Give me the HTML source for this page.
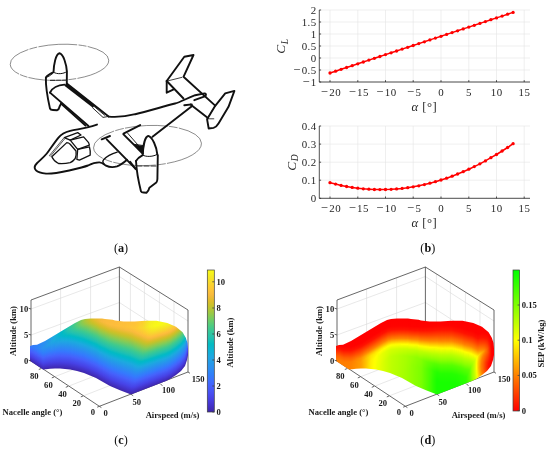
<!DOCTYPE html>
<html><head><meta charset="utf-8"><title>Figure</title><style>html,body{margin:0;padding:0;background:#fff}svg{display:block}</style></head><body>
<svg width="550" height="449" viewBox="0 0 550 449">
<rect width="550" height="449" fill="#fff"/>
<defs><linearGradient id="cbP" x1="0" y1="0" x2="0" y2="1"><stop offset="0.000" stop-color="#f9fb15"/><stop offset="0.043" stop-color="#f5eb23"/><stop offset="0.087" stop-color="#f8d92b"/><stop offset="0.130" stop-color="#fec835"/><stop offset="0.174" stop-color="#f8ba3d"/><stop offset="0.217" stop-color="#dfbc2a"/><stop offset="0.261" stop-color="#c0c32d"/><stop offset="0.304" stop-color="#9bc945"/><stop offset="0.348" stop-color="#73cd63"/><stop offset="0.391" stop-color="#4fcc81"/><stop offset="0.435" stop-color="#35c79a"/><stop offset="0.478" stop-color="#22c1af"/><stop offset="0.522" stop-color="#03bbc2"/><stop offset="0.565" stop-color="#0eb3d4"/><stop offset="0.609" stop-color="#1ea8e1"/><stop offset="0.652" stop-color="#259be8"/><stop offset="0.696" stop-color="#2d8df2"/><stop offset="0.739" stop-color="#317efb"/><stop offset="0.783" stop-color="#3f6dfe"/><stop offset="0.826" stop-color="#465dfb"/><stop offset="0.870" stop-color="#484ef1"/><stop offset="0.913" stop-color="#473ee2"/><stop offset="0.957" stop-color="#4331c8"/><stop offset="1.000" stop-color="#3e26a8"/></linearGradient><linearGradient id="cbR" x1="0" y1="0" x2="0" y2="1"><stop offset="0.000" stop-color="#00ff00"/><stop offset="0.125" stop-color="#40ff00"/><stop offset="0.250" stop-color="#80ff00"/><stop offset="0.375" stop-color="#bfff00"/><stop offset="0.500" stop-color="#ffff00"/><stop offset="0.625" stop-color="#ffbf00"/><stop offset="0.750" stop-color="#ff8000"/><stop offset="0.875" stop-color="#ff4000"/><stop offset="1.000" stop-color="#ff0000"/></linearGradient></defs>
<g id="plane" fill="none" stroke="#111" stroke-linecap="round" stroke-linejoin="round">
<!-- rotor discs -->
<g stroke-width="0.55" stroke="#333">
<ellipse cx="59.5" cy="62.3" rx="49.3" ry="18" transform="rotate(-2.5 59.5 62.3)" stroke-dasharray="38 2 7 2"/>
<ellipse cx="147.5" cy="145.5" rx="54" ry="20" transform="rotate(-2.5 147.5 145.5)" stroke-dasharray="42 2 8 2"/>
</g>
<!-- tail -->
<g stroke-width="1.9">
<path d="M166.7,81 L184.3,56.7 L193.5,55 L183.5,76.8 L215.2,105.6"/>
<path d="M166.7,81 L166.7,92.7 L173.2,89.6"/>
<path d="M166.7,81 L183.5,98.5"/>
<path d="M190.5,104.6 L207.6,117.8"/>
<path d="M215.2,105.8 L225.2,93.4 L234.4,90.9 L228.5,106.8 L218.5,123.5 Q216.5,127 213.5,127.9 L208.7,128.5 L207.1,119.3 Z"/>
</g>
<g stroke-width="0.8">
<path d="M167.3,81 L181.8,77.4"/>
<path d="M207.6,118.8 L213.8,118.8"/>
<path d="M215.2,105.8 L207.3,118.5"/>
</g>
<!-- fuselage / tail boom -->
<g stroke-width="1.9">
<path d="M108.6,116.6 C118,117.5 128,116 135.2,114.2 C145,112 160,107.5 175,103.5 C181,102 186,98.5 195.2,95.2 L204.5,93.4 Q206.5,93.6 205.8,95.2"/>
<path d="M194.3,100.2 L205.5,96.2"/>
<path d="M184.3,105.2 L191.8,104.4"/>
<path d="M191.8,106.2 L152.5,136.8"/>
</g>
<!-- wing 1 (far) -->
<g stroke-width="1.9">
<path d="M66.8,83.4 L108.6,116.4"/>
<path d="M50,92.6 L88.5,126"/>
<path d="M61,103.6 L85.5,125.6"/>
<path d="M50,92.6 C52,88 58,85 64.5,84.6"/>
</g>
<path d="M65.3,84.6 L93.8,106.6" stroke-width="3.1" stroke-linecap="butt"/>
<path d="M93.6,106 L104.6,115.2 M92.6,107.8 L103,117.4 L108.6,116.4" stroke-width="0.9"/>
<!-- nacelle 1 -->
<g stroke-width="1.9">
<path d="M45.9,77.6 C45.6,86 47.6,98 50,108.6 Q50.5,110 53,110 L57.2,110.2 Q59,109.5 59.6,106.5 L61.2,103.4"/>
<path d="M45.9,77.6 C47.5,75 50.5,73.6 53.5,72.2 C53.8,65 55.6,54 59.5,53.3 C63.4,54 66.4,64.5 66.9,71.6 C66.9,75 66.8,79 66.8,83.4"/>
<path d="M53.5,72.2 C57,74.6 63.5,74 66.9,71.6" stroke-width="1"/>
<path d="M45.9,77.6 Q49,76.8 52.8,73.5" stroke-width="0.9"/>
</g>
<!-- cockpit + nose -->
<g stroke-width="1.9">
<path d="M97,124.6 C93,126 91,126.6 88.5,127.2 C82,128.8 76,129.6 70.2,130.9 C65,132.2 61,134.5 58.5,137.6 C54,143 50,149.5 46.8,153.5 C43.5,157.5 39.5,160.5 36.7,163.5 C34.3,166 34.2,168.6 36,170.4 C38,172.4 42,173.2 46,173.6 C54,174 62,172 70.2,170.2 C78,168.4 84,167 88,165.5 C92,163.5 96,162.3 99.5,162.4 C102.5,162.6 104,164.5 106,165.6 C109,167.2 113,167.6 117,166.4 C121,165 124,162.5 127,159.8"/>
<path d="M104.3,164.3 C102.5,162.5 102.3,161.2 103.5,159.8 C106.5,156.5 111,154 117.2,152.2" stroke-width="1.3"/>
</g>
<g stroke-width="1.3">
<path d="M51.8,156.8 L66.8,142.6 Q68.6,142.6 70.2,144.3 L76,151 Q76.6,155 75.2,158.5 Q73,161.5 70.2,162.7 Q64,164 58.5,163.5 Q54,161.5 51.8,156.8 Z"/>
<path d="M64.3,137.6 L77.7,132.6 L81,135 L70.2,140.1 Z"/>
<path d="M70.2,140.1 L83.6,136.8 L88.6,142.6 L89.4,145.1 L77.7,149.3 Z"/>
<path d="M77.7,149.3 L89.4,146.8 Q90.6,151 90.2,155.2 L79.4,160.2 L76.9,159.3 Z"/>
</g>
<g stroke-width="0.7">
<path d="M49.4,155.6 L63.6,138.2 M50.4,156.3 L64.6,138.9"/>
</g>
<!-- wing 2 (near) -->
<g stroke-width="1.9">
<path d="M123.5,133.7 L140.2,125.1"/>
<path d="M123.5,134.3 L142.7,153.5"/>
<path d="M106.7,139.3 L135.4,168.6"/>
<path d="M101.7,139.3 L110,136"/>
<path d="M130.2,161.8 L135.8,169.3"/>
</g>
<path d="M133.5,144.5 L142.9,154 L143.6,146 Z" fill="#111" stroke-width="1"/>
<path d="M127.5,133 L141,148.5" stroke-width="0.9"/>
<!-- nacelle 2 -->
<g stroke-width="1.9">
<path d="M136,161 C136.5,170 138.6,182 141,191.4 Q141.5,192.4 143.5,192.5 L146.5,192.7 Q148.6,191 149.4,187.7 L156.3,182.6 Q157.3,181.5 157.4,179 L157.8,155.1"/>
<path d="M136,161 C137.5,158.4 139.5,156.8 142.7,155.1 C143,148 144.6,137 148.2,135.9 C152.5,137 156.6,147 157.3,154.3"/>
<path d="M142.7,155.1 C146,157.2 153.5,156.8 157.3,154.3" stroke-width="1"/>
</g>
<path d="M137,166 L158,166" stroke-width="1.1" stroke-dasharray="5 2" stroke="#333"/>
<path d="M50.5,80.4 L66,80.2" stroke-width="1.1" stroke-dasharray="4.5 1.5" stroke="#333"/>
</g>

<path d="M330.0,10.0 V82.0" stroke="#e4e4e4" stroke-width="0.6" fill="none"/>
<path d="M357.8,10.0 V82.0" stroke="#e4e4e4" stroke-width="0.6" fill="none"/>
<path d="M385.5,10.0 V82.0" stroke="#e4e4e4" stroke-width="0.6" fill="none"/>
<path d="M413.2,10.0 V82.0" stroke="#e4e4e4" stroke-width="0.6" fill="none"/>
<path d="M441.0,10.0 V82.0" stroke="#e4e4e4" stroke-width="0.6" fill="none"/>
<path d="M468.8,10.0 V82.0" stroke="#e4e4e4" stroke-width="0.6" fill="none"/>
<path d="M496.5,10.0 V82.0" stroke="#e4e4e4" stroke-width="0.6" fill="none"/>
<path d="M524.2,10.0 V82.0" stroke="#e4e4e4" stroke-width="0.6" fill="none"/>
<path d="M319.3,82.0 H530.0" stroke="#e4e4e4" stroke-width="0.6" fill="none"/>
<path d="M319.3,70.0 H530.0" stroke="#e4e4e4" stroke-width="0.6" fill="none"/>
<path d="M319.3,58.0 H530.0" stroke="#e4e4e4" stroke-width="0.6" fill="none"/>
<path d="M319.3,46.0 H530.0" stroke="#e4e4e4" stroke-width="0.6" fill="none"/>
<path d="M319.3,34.0 H530.0" stroke="#e4e4e4" stroke-width="0.6" fill="none"/>
<path d="M319.3,22.0 H530.0" stroke="#e4e4e4" stroke-width="0.6" fill="none"/>
<path d="M319.3,10.0 H530.0" stroke="#e4e4e4" stroke-width="0.6" fill="none"/>
<path d="M319.3,10.0 V82.0 H530.0" stroke="#262626" stroke-width="0.8" fill="none"/>
<path d="M330.0,82.0 v-1.8" stroke="#262626" stroke-width="0.8" fill="none"/>
<text x="331.0" y="95.9" text-anchor="middle" font-family="'Liberation Serif',serif" font-size="10.9" fill="#262626" letter-spacing="0.5"><tspan font-size="12.6" letter-spacing="1.3">−</tspan>20</text>
<path d="M357.8,82.0 v-1.8" stroke="#262626" stroke-width="0.8" fill="none"/>
<text x="358.8" y="95.9" text-anchor="middle" font-family="'Liberation Serif',serif" font-size="10.9" fill="#262626" letter-spacing="0.5"><tspan font-size="12.6" letter-spacing="1.3">−</tspan>15</text>
<path d="M385.5,82.0 v-1.8" stroke="#262626" stroke-width="0.8" fill="none"/>
<text x="386.5" y="95.9" text-anchor="middle" font-family="'Liberation Serif',serif" font-size="10.9" fill="#262626" letter-spacing="0.5"><tspan font-size="12.6" letter-spacing="1.3">−</tspan>10</text>
<path d="M413.2,82.0 v-1.8" stroke="#262626" stroke-width="0.8" fill="none"/>
<text x="414.2" y="95.9" text-anchor="middle" font-family="'Liberation Serif',serif" font-size="10.9" fill="#262626" letter-spacing="0.5"><tspan font-size="12.6" letter-spacing="1.3">−</tspan>5</text>
<path d="M441.0,82.0 v-1.8" stroke="#262626" stroke-width="0.8" fill="none"/>
<text x="441.3" y="95.9" text-anchor="middle" font-family="'Liberation Serif',serif" font-size="10.9" fill="#262626" letter-spacing="0.5">0</text>
<path d="M468.8,82.0 v-1.8" stroke="#262626" stroke-width="0.8" fill="none"/>
<text x="469.1" y="95.9" text-anchor="middle" font-family="'Liberation Serif',serif" font-size="10.9" fill="#262626" letter-spacing="0.5">5</text>
<path d="M496.5,82.0 v-1.8" stroke="#262626" stroke-width="0.8" fill="none"/>
<text x="496.8" y="95.9" text-anchor="middle" font-family="'Liberation Serif',serif" font-size="10.9" fill="#262626" letter-spacing="0.5">10</text>
<path d="M524.2,82.0 v-1.8" stroke="#262626" stroke-width="0.8" fill="none"/>
<text x="524.5" y="95.9" text-anchor="middle" font-family="'Liberation Serif',serif" font-size="10.9" fill="#262626" letter-spacing="0.5">15</text>
<path d="M319.3,82.0 h1.8" stroke="#262626" stroke-width="0.8" fill="none"/>
<text x="316.8" y="85.6" text-anchor="end" font-family="'Liberation Serif',serif" font-size="10.9" fill="#262626" letter-spacing="0.5"><tspan font-size="12.6" letter-spacing="1.3">−</tspan>1</text>
<path d="M319.3,70.0 h1.8" stroke="#262626" stroke-width="0.8" fill="none"/>
<text x="316.8" y="73.6" text-anchor="end" font-family="'Liberation Serif',serif" font-size="10.9" fill="#262626" letter-spacing="0.5"><tspan font-size="12.6" letter-spacing="1.3">−</tspan>0.5</text>
<path d="M319.3,58.0 h1.8" stroke="#262626" stroke-width="0.8" fill="none"/>
<text x="316.8" y="61.6" text-anchor="end" font-family="'Liberation Serif',serif" font-size="10.9" fill="#262626" letter-spacing="0.5">0</text>
<path d="M319.3,46.0 h1.8" stroke="#262626" stroke-width="0.8" fill="none"/>
<text x="316.8" y="49.6" text-anchor="end" font-family="'Liberation Serif',serif" font-size="10.9" fill="#262626" letter-spacing="0.5">0.5</text>
<path d="M319.3,34.0 h1.8" stroke="#262626" stroke-width="0.8" fill="none"/>
<text x="316.8" y="37.6" text-anchor="end" font-family="'Liberation Serif',serif" font-size="10.9" fill="#262626" letter-spacing="0.5">1</text>
<path d="M319.3,22.0 h1.8" stroke="#262626" stroke-width="0.8" fill="none"/>
<text x="316.8" y="25.6" text-anchor="end" font-family="'Liberation Serif',serif" font-size="10.9" fill="#262626" letter-spacing="0.5">1.5</text>
<path d="M319.3,10.0 h1.8" stroke="#262626" stroke-width="0.8" fill="none"/>
<text x="316.8" y="13.6" text-anchor="end" font-family="'Liberation Serif',serif" font-size="10.9" fill="#262626" letter-spacing="0.5">2</text>
<polyline points="330.0,73.0 335.6,71.2 341.1,69.3 346.6,67.5 352.2,65.7 357.8,63.8 363.3,62.0 368.9,60.1 374.4,58.3 379.9,56.5 385.5,54.6 391.1,52.8 396.6,51.0 402.1,49.1 407.7,47.3 413.2,45.5 418.8,43.6 424.4,41.8 429.9,39.9 435.4,38.1 441.0,36.3 446.6,34.4 452.1,32.6 457.6,30.8 463.2,28.9 468.8,27.1 474.3,25.3 479.9,23.4 485.4,21.6 490.9,19.7 496.5,17.9 502.1,16.1 507.6,14.2 513.1,12.4" stroke="#ff0000" stroke-width="1.5" fill="none"/>
<circle cx="330.0" cy="73.0" r="1.65" fill="#ff0000"/>
<circle cx="335.6" cy="71.2" r="1.65" fill="#ff0000"/>
<circle cx="341.1" cy="69.3" r="1.65" fill="#ff0000"/>
<circle cx="346.6" cy="67.5" r="1.65" fill="#ff0000"/>
<circle cx="352.2" cy="65.7" r="1.65" fill="#ff0000"/>
<circle cx="357.8" cy="63.8" r="1.65" fill="#ff0000"/>
<circle cx="363.3" cy="62.0" r="1.65" fill="#ff0000"/>
<circle cx="368.9" cy="60.1" r="1.65" fill="#ff0000"/>
<circle cx="374.4" cy="58.3" r="1.65" fill="#ff0000"/>
<circle cx="379.9" cy="56.5" r="1.65" fill="#ff0000"/>
<circle cx="385.5" cy="54.6" r="1.65" fill="#ff0000"/>
<circle cx="391.1" cy="52.8" r="1.65" fill="#ff0000"/>
<circle cx="396.6" cy="51.0" r="1.65" fill="#ff0000"/>
<circle cx="402.1" cy="49.1" r="1.65" fill="#ff0000"/>
<circle cx="407.7" cy="47.3" r="1.65" fill="#ff0000"/>
<circle cx="413.2" cy="45.5" r="1.65" fill="#ff0000"/>
<circle cx="418.8" cy="43.6" r="1.65" fill="#ff0000"/>
<circle cx="424.4" cy="41.8" r="1.65" fill="#ff0000"/>
<circle cx="429.9" cy="39.9" r="1.65" fill="#ff0000"/>
<circle cx="435.4" cy="38.1" r="1.65" fill="#ff0000"/>
<circle cx="441.0" cy="36.3" r="1.65" fill="#ff0000"/>
<circle cx="446.6" cy="34.4" r="1.65" fill="#ff0000"/>
<circle cx="452.1" cy="32.6" r="1.65" fill="#ff0000"/>
<circle cx="457.6" cy="30.8" r="1.65" fill="#ff0000"/>
<circle cx="463.2" cy="28.9" r="1.65" fill="#ff0000"/>
<circle cx="468.8" cy="27.1" r="1.65" fill="#ff0000"/>
<circle cx="474.3" cy="25.3" r="1.65" fill="#ff0000"/>
<circle cx="479.9" cy="23.4" r="1.65" fill="#ff0000"/>
<circle cx="485.4" cy="21.6" r="1.65" fill="#ff0000"/>
<circle cx="490.9" cy="19.7" r="1.65" fill="#ff0000"/>
<circle cx="496.5" cy="17.9" r="1.65" fill="#ff0000"/>
<circle cx="502.1" cy="16.1" r="1.65" fill="#ff0000"/>
<circle cx="507.6" cy="14.2" r="1.65" fill="#ff0000"/>
<circle cx="513.1" cy="12.4" r="1.65" fill="#ff0000"/>
<text x="424.3" y="110.6" text-anchor="middle" font-family="'Liberation Serif',serif"  fill="#262626" letter-spacing="0.5" font-size="12.6"><tspan font-style="italic">α</tspan> [°]</text>
<text transform="translate(285.4,46.0) rotate(-90)" text-anchor="middle" font-family="'Liberation Serif',serif"  fill="#262626" letter-spacing="0.5" font-size="13.5"><tspan font-style="italic">C</tspan><tspan font-style="italic" font-size="9.5" dy="2.4">L</tspan></text>
<path d="M330.0,126.0 V198.3" stroke="#e4e4e4" stroke-width="0.6" fill="none"/>
<path d="M357.8,126.0 V198.3" stroke="#e4e4e4" stroke-width="0.6" fill="none"/>
<path d="M385.5,126.0 V198.3" stroke="#e4e4e4" stroke-width="0.6" fill="none"/>
<path d="M413.2,126.0 V198.3" stroke="#e4e4e4" stroke-width="0.6" fill="none"/>
<path d="M441.0,126.0 V198.3" stroke="#e4e4e4" stroke-width="0.6" fill="none"/>
<path d="M468.8,126.0 V198.3" stroke="#e4e4e4" stroke-width="0.6" fill="none"/>
<path d="M496.5,126.0 V198.3" stroke="#e4e4e4" stroke-width="0.6" fill="none"/>
<path d="M524.2,126.0 V198.3" stroke="#e4e4e4" stroke-width="0.6" fill="none"/>
<path d="M319.3,198.3 H530.0" stroke="#e4e4e4" stroke-width="0.6" fill="none"/>
<path d="M319.3,180.2 H530.0" stroke="#e4e4e4" stroke-width="0.6" fill="none"/>
<path d="M319.3,162.2 H530.0" stroke="#e4e4e4" stroke-width="0.6" fill="none"/>
<path d="M319.3,144.1 H530.0" stroke="#e4e4e4" stroke-width="0.6" fill="none"/>
<path d="M319.3,126.0 H530.0" stroke="#e4e4e4" stroke-width="0.6" fill="none"/>
<path d="M319.3,126.0 V198.3 H530.0" stroke="#262626" stroke-width="0.8" fill="none"/>
<path d="M330.0,198.3 v-1.8" stroke="#262626" stroke-width="0.8" fill="none"/>
<text x="331.0" y="212.2" text-anchor="middle" font-family="'Liberation Serif',serif" font-size="10.9" fill="#262626" letter-spacing="0.5"><tspan font-size="12.6" letter-spacing="1.3">−</tspan>20</text>
<path d="M357.8,198.3 v-1.8" stroke="#262626" stroke-width="0.8" fill="none"/>
<text x="358.8" y="212.2" text-anchor="middle" font-family="'Liberation Serif',serif" font-size="10.9" fill="#262626" letter-spacing="0.5"><tspan font-size="12.6" letter-spacing="1.3">−</tspan>15</text>
<path d="M385.5,198.3 v-1.8" stroke="#262626" stroke-width="0.8" fill="none"/>
<text x="386.5" y="212.2" text-anchor="middle" font-family="'Liberation Serif',serif" font-size="10.9" fill="#262626" letter-spacing="0.5"><tspan font-size="12.6" letter-spacing="1.3">−</tspan>10</text>
<path d="M413.2,198.3 v-1.8" stroke="#262626" stroke-width="0.8" fill="none"/>
<text x="414.2" y="212.2" text-anchor="middle" font-family="'Liberation Serif',serif" font-size="10.9" fill="#262626" letter-spacing="0.5"><tspan font-size="12.6" letter-spacing="1.3">−</tspan>5</text>
<path d="M441.0,198.3 v-1.8" stroke="#262626" stroke-width="0.8" fill="none"/>
<text x="441.3" y="212.2" text-anchor="middle" font-family="'Liberation Serif',serif" font-size="10.9" fill="#262626" letter-spacing="0.5">0</text>
<path d="M468.8,198.3 v-1.8" stroke="#262626" stroke-width="0.8" fill="none"/>
<text x="469.1" y="212.2" text-anchor="middle" font-family="'Liberation Serif',serif" font-size="10.9" fill="#262626" letter-spacing="0.5">5</text>
<path d="M496.5,198.3 v-1.8" stroke="#262626" stroke-width="0.8" fill="none"/>
<text x="496.8" y="212.2" text-anchor="middle" font-family="'Liberation Serif',serif" font-size="10.9" fill="#262626" letter-spacing="0.5">10</text>
<path d="M524.2,198.3 v-1.8" stroke="#262626" stroke-width="0.8" fill="none"/>
<text x="524.5" y="212.2" text-anchor="middle" font-family="'Liberation Serif',serif" font-size="10.9" fill="#262626" letter-spacing="0.5">15</text>
<path d="M319.3,198.3 h1.8" stroke="#262626" stroke-width="0.8" fill="none"/>
<text x="316.8" y="201.9" text-anchor="end" font-family="'Liberation Serif',serif" font-size="10.9" fill="#262626" letter-spacing="0.5">0</text>
<path d="M319.3,180.2 h1.8" stroke="#262626" stroke-width="0.8" fill="none"/>
<text x="316.8" y="183.8" text-anchor="end" font-family="'Liberation Serif',serif" font-size="10.9" fill="#262626" letter-spacing="0.5">0.1</text>
<path d="M319.3,162.2 h1.8" stroke="#262626" stroke-width="0.8" fill="none"/>
<text x="316.8" y="165.8" text-anchor="end" font-family="'Liberation Serif',serif" font-size="10.9" fill="#262626" letter-spacing="0.5">0.2</text>
<path d="M319.3,144.1 h1.8" stroke="#262626" stroke-width="0.8" fill="none"/>
<text x="316.8" y="147.7" text-anchor="end" font-family="'Liberation Serif',serif" font-size="10.9" fill="#262626" letter-spacing="0.5">0.3</text>
<path d="M319.3,126.0 h1.8" stroke="#262626" stroke-width="0.8" fill="none"/>
<text x="316.8" y="129.6" text-anchor="end" font-family="'Liberation Serif',serif" font-size="10.9" fill="#262626" letter-spacing="0.5">0.4</text>
<polyline points="330.0,182.7 335.6,184.1 341.1,185.4 346.6,186.5 352.2,187.4 357.8,188.2 363.3,188.8 368.9,189.2 374.4,189.5 379.9,189.6 385.5,189.5 391.1,189.3 396.6,188.9 402.1,188.4 407.7,187.7 413.2,186.8 418.8,185.8 424.4,184.6 429.9,183.2 435.4,181.7 441.0,180.0 446.6,178.2 452.1,176.2 457.6,174.0 463.2,171.7 468.8,169.2 474.3,166.6 479.9,163.8 485.4,160.9 490.9,157.7 496.5,154.5 502.1,151.0 507.6,147.5 513.1,143.7" stroke="#ff0000" stroke-width="1.5" fill="none"/>
<circle cx="330.0" cy="182.7" r="1.65" fill="#ff0000"/>
<circle cx="335.6" cy="184.1" r="1.65" fill="#ff0000"/>
<circle cx="341.1" cy="185.4" r="1.65" fill="#ff0000"/>
<circle cx="346.6" cy="186.5" r="1.65" fill="#ff0000"/>
<circle cx="352.2" cy="187.4" r="1.65" fill="#ff0000"/>
<circle cx="357.8" cy="188.2" r="1.65" fill="#ff0000"/>
<circle cx="363.3" cy="188.8" r="1.65" fill="#ff0000"/>
<circle cx="368.9" cy="189.2" r="1.65" fill="#ff0000"/>
<circle cx="374.4" cy="189.5" r="1.65" fill="#ff0000"/>
<circle cx="379.9" cy="189.6" r="1.65" fill="#ff0000"/>
<circle cx="385.5" cy="189.5" r="1.65" fill="#ff0000"/>
<circle cx="391.1" cy="189.3" r="1.65" fill="#ff0000"/>
<circle cx="396.6" cy="188.9" r="1.65" fill="#ff0000"/>
<circle cx="402.1" cy="188.4" r="1.65" fill="#ff0000"/>
<circle cx="407.7" cy="187.7" r="1.65" fill="#ff0000"/>
<circle cx="413.2" cy="186.8" r="1.65" fill="#ff0000"/>
<circle cx="418.8" cy="185.8" r="1.65" fill="#ff0000"/>
<circle cx="424.4" cy="184.6" r="1.65" fill="#ff0000"/>
<circle cx="429.9" cy="183.2" r="1.65" fill="#ff0000"/>
<circle cx="435.4" cy="181.7" r="1.65" fill="#ff0000"/>
<circle cx="441.0" cy="180.0" r="1.65" fill="#ff0000"/>
<circle cx="446.6" cy="178.2" r="1.65" fill="#ff0000"/>
<circle cx="452.1" cy="176.2" r="1.65" fill="#ff0000"/>
<circle cx="457.6" cy="174.0" r="1.65" fill="#ff0000"/>
<circle cx="463.2" cy="171.7" r="1.65" fill="#ff0000"/>
<circle cx="468.8" cy="169.2" r="1.65" fill="#ff0000"/>
<circle cx="474.3" cy="166.6" r="1.65" fill="#ff0000"/>
<circle cx="479.9" cy="163.8" r="1.65" fill="#ff0000"/>
<circle cx="485.4" cy="160.9" r="1.65" fill="#ff0000"/>
<circle cx="490.9" cy="157.7" r="1.65" fill="#ff0000"/>
<circle cx="496.5" cy="154.5" r="1.65" fill="#ff0000"/>
<circle cx="502.1" cy="151.0" r="1.65" fill="#ff0000"/>
<circle cx="507.6" cy="147.5" r="1.65" fill="#ff0000"/>
<circle cx="513.1" cy="143.7" r="1.65" fill="#ff0000"/>
<text x="424.3" y="226.9" text-anchor="middle" font-family="'Liberation Serif',serif"  fill="#262626" letter-spacing="0.5" font-size="12.6"><tspan font-style="italic">α</tspan> [°]</text>
<text transform="translate(295.5,162.2) rotate(-90)" text-anchor="middle" font-family="'Liberation Serif',serif"  fill="#262626" letter-spacing="0.5" font-size="13.5"><tspan font-style="italic">C</tspan><tspan font-style="italic" font-size="9.5" dy="2.4">D</tspan></text>
<text x="121.0" y="252.3" text-anchor="middle" font-family="'Liberation Serif',serif" font-size="12.2" fill="#111">(<tspan font-weight="bold">a</tspan>)</text>
<text x="427.8" y="252.3" text-anchor="middle" font-family="'Liberation Serif',serif" font-size="12.2" fill="#111">(<tspan font-weight="bold">b</tspan>)</text>
<text x="121.0" y="443.6" text-anchor="middle" font-family="'Liberation Serif',serif" font-size="12.2" fill="#111">(<tspan font-weight="bold">c</tspan>)</text>
<text x="427.8" y="443.6" text-anchor="middle" font-family="'Liberation Serif',serif" font-size="12.2" fill="#111">(<tspan font-weight="bold">d</tspan>)</text>
<path d="M31.0,335.0 L119.4,302.5" stroke="#d9d9d9" stroke-width="0.6" fill="none"/>
<path d="M119.4,302.5 L188.0,347.0" stroke="#d9d9d9" stroke-width="0.6" fill="none"/>
<path d="M31.0,309.0 L119.4,276.5" stroke="#d9d9d9" stroke-width="0.6" fill="none"/>
<path d="M119.4,276.5 L188.0,321.0" stroke="#d9d9d9" stroke-width="0.6" fill="none"/>
<path d="M60.6,350.0 L60.6,289.0" stroke="#d9d9d9" stroke-width="0.6" fill="none"/>
<path d="M90.6,338.8 L90.6,277.8" stroke="#d9d9d9" stroke-width="0.6" fill="none"/>
<path d="M130.4,335.1 L130.4,273.9" stroke="#d9d9d9" stroke-width="0.6" fill="none"/>
<path d="M144.4,344.0 L144.4,282.7" stroke="#d9d9d9" stroke-width="0.6" fill="none"/>
<path d="M159.4,353.7 L159.4,292.1" stroke="#d9d9d9" stroke-width="0.6" fill="none"/>
<path d="M174.0,363.0 L174.0,301.2" stroke="#d9d9d9" stroke-width="0.6" fill="none"/>
<path d="M41.0,368.6 L127.8,334.8" stroke="#d9d9d9" stroke-width="0.6" fill="none"/>
<path d="M54.0,377.0 L140.8,343.2" stroke="#d9d9d9" stroke-width="0.6" fill="none"/>
<path d="M68.0,386.4 L154.8,352.6" stroke="#d9d9d9" stroke-width="0.6" fill="none"/>
<path d="M83.0,396.0 L169.8,362.2" stroke="#d9d9d9" stroke-width="0.6" fill="none"/>
<path d="M131.2,394.4 L62.8,349.1" stroke="#d9d9d9" stroke-width="0.6" fill="none"/>
<path d="M160.5,384.2 L92.1,338.9" stroke="#d9d9d9" stroke-width="0.6" fill="none"/>
<path d="M31.0,300.0 L119.4,267.0" stroke="#404040" stroke-width="0.8" fill="none"/>
<path d="M119.4,267.0 L188.0,310.0" stroke="#404040" stroke-width="0.8" fill="none"/>
<path d="M31.0,300.0 L31.0,361.0" stroke="#404040" stroke-width="0.8" fill="none"/>
<path d="M119.4,267.0 L119.4,328.0" stroke="#404040" stroke-width="0.8" fill="none"/>
<path d="M188.0,310.0 L188.0,372.0" stroke="#404040" stroke-width="0.8" fill="none"/>
<path d="M31.0,361.0 L99.4,406.3" stroke="#404040" stroke-width="0.8" fill="none"/>
<path d="M99.4,406.3 L188.0,372.0" stroke="#404040" stroke-width="0.8" fill="none"/>
<defs><clipPath id="pclip"><polygon points="30.0,346.0 33.0,345.0 37.0,344.8 45.0,341.0 55.0,335.0 65.0,329.0 75.0,323.0 81.0,320.0 85.0,319.0 91.0,318.5 95.0,318.4 102.0,318.5 105.0,319.0 112.7,319.8 115.0,320.5 123.6,321.4 134.5,321.4 145.5,320.7 156.4,320.7 167.3,322.9 176.0,326.8 182.6,332.3 185.8,337.7 187.5,343.0 188.0,348.6 188.0,348.6 188.0,355.0 187.0,360.0 185.0,366.0 181.0,371.0 176.0,375.0 170.0,379.0 166.0,381.0 131.0,394.4 120.0,390.2 110.0,386.0 103.0,382.0 96.0,378.0 90.0,375.4 84.0,373.0 77.0,371.0 70.0,369.4 65.0,368.9 60.0,368.6 55.0,368.6 50.0,368.8 46.0,369.2 43.0,369.6 30.0,361.0"/></clipPath><linearGradient id="p0" gradientUnits="userSpaceOnUse" x1="0" y1="344.2" x2="0" y2="363.2"><stop offset="0.000" stop-color="#327cfc"/><stop offset="0.184" stop-color="#3a74fe"/><stop offset="0.421" stop-color="#4759f8"/><stop offset="0.658" stop-color="#463ddf"/><stop offset="0.895" stop-color="#3e27ab"/><stop offset="1.000" stop-color="#3e26a8"/></linearGradient><linearGradient id="p1" gradientUnits="userSpaceOnUse" x1="0" y1="343.8" x2="0" y2="363.8"><stop offset="0.000" stop-color="#317dfc"/><stop offset="0.175" stop-color="#3678fd"/><stop offset="0.400" stop-color="#465efb"/><stop offset="0.650" stop-color="#473fe3"/><stop offset="0.850" stop-color="#402bb7"/><stop offset="0.925" stop-color="#3e26a8"/><stop offset="1.000" stop-color="#3e26a8"/></linearGradient><linearGradient id="p2" gradientUnits="userSpaceOnUse" x1="0" y1="343.5" x2="0" y2="364.5"><stop offset="0.000" stop-color="#317efb"/><stop offset="0.191" stop-color="#337afd"/><stop offset="0.429" stop-color="#465efb"/><stop offset="0.667" stop-color="#473fe3"/><stop offset="0.858" stop-color="#402bb7"/><stop offset="0.929" stop-color="#3e26a8"/><stop offset="1.000" stop-color="#3e26a8"/></linearGradient><linearGradient id="p3" gradientUnits="userSpaceOnUse" x1="0" y1="343.4" x2="0" y2="365.1"><stop offset="0.000" stop-color="#307ffb"/><stop offset="0.207" stop-color="#327bfc"/><stop offset="0.438" stop-color="#465ffb"/><stop offset="0.668" stop-color="#4740e4"/><stop offset="0.853" stop-color="#412cba"/><stop offset="0.922" stop-color="#3e26a8"/><stop offset="1.000" stop-color="#3e26a8"/></linearGradient><linearGradient id="p4" gradientUnits="userSpaceOnUse" x1="0" y1="343.4" x2="0" y2="365.8"><stop offset="0.000" stop-color="#307ffb"/><stop offset="0.201" stop-color="#317efb"/><stop offset="0.424" stop-color="#4563fc"/><stop offset="0.647" stop-color="#4744e8"/><stop offset="0.803" stop-color="#4331c8"/><stop offset="0.915" stop-color="#3e27a9"/><stop offset="1.000" stop-color="#3e26a8"/></linearGradient><linearGradient id="p5" gradientUnits="userSpaceOnUse" x1="0" y1="343.4" x2="0" y2="366.5"><stop offset="0.000" stop-color="#3080fb"/><stop offset="0.216" stop-color="#307ffb"/><stop offset="0.433" stop-color="#4563fd"/><stop offset="0.649" stop-color="#4745e9"/><stop offset="0.800" stop-color="#4332ca"/><stop offset="0.930" stop-color="#3e26a8"/><stop offset="1.000" stop-color="#3e26a8"/></linearGradient><linearGradient id="p6" gradientUnits="userSpaceOnUse" x1="0" y1="343.3" x2="0" y2="367.1"><stop offset="0.000" stop-color="#2f80fa"/><stop offset="0.210" stop-color="#2f81fa"/><stop offset="0.441" stop-color="#4464fd"/><stop offset="0.650" stop-color="#4746ea"/><stop offset="0.797" stop-color="#4433cd"/><stop offset="0.923" stop-color="#3e26a8"/><stop offset="1.000" stop-color="#3e26a8"/></linearGradient><linearGradient id="p7" gradientUnits="userSpaceOnUse" x1="0" y1="342.8" x2="0" y2="367.8"><stop offset="0.000" stop-color="#2f81fa"/><stop offset="0.220" stop-color="#2e83f9"/><stop offset="0.340" stop-color="#3777fe"/><stop offset="0.501" stop-color="#465efb"/><stop offset="0.701" stop-color="#4741e5"/><stop offset="0.861" stop-color="#412dbc"/><stop offset="0.921" stop-color="#3e27aa"/><stop offset="1.000" stop-color="#3e26a8"/></linearGradient><linearGradient id="p8" gradientUnits="userSpaceOnUse" x1="0" y1="342.4" x2="0" y2="368.5"><stop offset="0.000" stop-color="#2e83f9"/><stop offset="0.230" stop-color="#2e86f7"/><stop offset="0.364" stop-color="#3677fe"/><stop offset="0.517" stop-color="#465ffb"/><stop offset="0.709" stop-color="#4741e5"/><stop offset="0.862" stop-color="#412ebe"/><stop offset="0.939" stop-color="#3e26a8"/><stop offset="1.000" stop-color="#3e26a8"/></linearGradient><linearGradient id="p9" gradientUnits="userSpaceOnUse" x1="0" y1="341.9" x2="0" y2="369.1"><stop offset="0.000" stop-color="#2e84f8"/><stop offset="0.239" stop-color="#2d89f6"/><stop offset="0.367" stop-color="#337bfd"/><stop offset="0.514" stop-color="#4562fc"/><stop offset="0.716" stop-color="#4742e6"/><stop offset="0.844" stop-color="#4330c5"/><stop offset="0.936" stop-color="#3e26a8"/><stop offset="1.000" stop-color="#3e26a8"/></linearGradient><linearGradient id="p10" gradientUnits="userSpaceOnUse" x1="0" y1="341.4" x2="0" y2="369.8"><stop offset="0.000" stop-color="#2e86f7"/><stop offset="0.247" stop-color="#2d8bf4"/><stop offset="0.388" stop-color="#337bfc"/><stop offset="0.529" stop-color="#4562fc"/><stop offset="0.722" stop-color="#4742e7"/><stop offset="0.846" stop-color="#4331c6"/><stop offset="0.934" stop-color="#3e27a9"/><stop offset="1.000" stop-color="#3e26a8"/></linearGradient><linearGradient id="p11" gradientUnits="userSpaceOnUse" x1="0" y1="340.9" x2="0" y2="370.4"><stop offset="0.000" stop-color="#2d88f6"/><stop offset="0.254" stop-color="#2c8ef2"/><stop offset="0.407" stop-color="#327bfc"/><stop offset="0.542" stop-color="#4563fc"/><stop offset="0.728" stop-color="#4743e7"/><stop offset="0.847" stop-color="#4331c8"/><stop offset="0.949" stop-color="#3e26a8"/><stop offset="1.000" stop-color="#3e26a8"/></linearGradient><linearGradient id="p12" gradientUnits="userSpaceOnUse" x1="0" y1="340.4" x2="0" y2="371.1"><stop offset="0.000" stop-color="#2d89f5"/><stop offset="0.261" stop-color="#2c90f0"/><stop offset="0.424" stop-color="#327cfc"/><stop offset="0.555" stop-color="#4563fd"/><stop offset="0.734" stop-color="#4744e8"/><stop offset="0.865" stop-color="#4230c3"/><stop offset="0.946" stop-color="#3e26a8"/><stop offset="1.000" stop-color="#3e26a8"/></linearGradient><linearGradient id="p13" gradientUnits="userSpaceOnUse" x1="0" y1="340.0" x2="0" y2="371.1"><stop offset="0.000" stop-color="#2d8bf4"/><stop offset="0.257" stop-color="#2b92ee"/><stop offset="0.418" stop-color="#307ffb"/><stop offset="0.562" stop-color="#4464fd"/><stop offset="0.739" stop-color="#4745e9"/><stop offset="0.851" stop-color="#4433cc"/><stop offset="0.948" stop-color="#3e27a9"/><stop offset="1.000" stop-color="#3e26a8"/></linearGradient><linearGradient id="p14" gradientUnits="userSpaceOnUse" x1="0" y1="339.5" x2="0" y2="371.0"><stop offset="0.000" stop-color="#2d8cf3"/><stop offset="0.254" stop-color="#2a93ed"/><stop offset="0.429" stop-color="#317efb"/><stop offset="0.572" stop-color="#4563fc"/><stop offset="0.747" stop-color="#4744e8"/><stop offset="0.874" stop-color="#4230c4"/><stop offset="0.953" stop-color="#3e26a8"/><stop offset="1.000" stop-color="#3e26a8"/></linearGradient><linearGradient id="p15" gradientUnits="userSpaceOnUse" x1="0" y1="338.9" x2="0" y2="370.8"><stop offset="0.000" stop-color="#2c8ff1"/><stop offset="0.251" stop-color="#2895ec"/><stop offset="0.423" stop-color="#3080fb"/><stop offset="0.564" stop-color="#4465fd"/><stop offset="0.736" stop-color="#4746ea"/><stop offset="0.846" stop-color="#4434ce"/><stop offset="0.955" stop-color="#3e26a8"/><stop offset="1.000" stop-color="#3e26a8"/></linearGradient><linearGradient id="p16" gradientUnits="userSpaceOnUse" x1="0" y1="338.3" x2="0" y2="370.7"><stop offset="0.000" stop-color="#2b92ee"/><stop offset="0.247" stop-color="#2798ea"/><stop offset="0.432" stop-color="#307ffb"/><stop offset="0.571" stop-color="#4464fd"/><stop offset="0.741" stop-color="#4745ea"/><stop offset="0.864" stop-color="#4332c9"/><stop offset="0.957" stop-color="#3e26a8"/><stop offset="1.000" stop-color="#3e26a8"/></linearGradient><linearGradient id="p17" gradientUnits="userSpaceOnUse" x1="0" y1="337.7" x2="0" y2="370.6"><stop offset="0.000" stop-color="#2895ec"/><stop offset="0.243" stop-color="#269ae9"/><stop offset="0.441" stop-color="#317efb"/><stop offset="0.578" stop-color="#4564fd"/><stop offset="0.745" stop-color="#4745e9"/><stop offset="0.866" stop-color="#4332c8"/><stop offset="0.957" stop-color="#3e26a8"/><stop offset="1.000" stop-color="#3e26a8"/></linearGradient><linearGradient id="p18" gradientUnits="userSpaceOnUse" x1="0" y1="337.1" x2="0" y2="370.5"><stop offset="0.000" stop-color="#2798ea"/><stop offset="0.225" stop-color="#249de7"/><stop offset="0.419" stop-color="#2e83f9"/><stop offset="0.554" stop-color="#4369fe"/><stop offset="0.719" stop-color="#484aee"/><stop offset="0.838" stop-color="#4536d2"/><stop offset="0.958" stop-color="#3e26a8"/><stop offset="1.000" stop-color="#3e26a8"/></linearGradient><linearGradient id="p19" gradientUnits="userSpaceOnUse" x1="0" y1="336.5" x2="0" y2="370.4"><stop offset="0.000" stop-color="#259be8"/><stop offset="0.221" stop-color="#249fe5"/><stop offset="0.428" stop-color="#2f82f9"/><stop offset="0.560" stop-color="#4368fe"/><stop offset="0.723" stop-color="#484aee"/><stop offset="0.841" stop-color="#4535d2"/><stop offset="0.959" stop-color="#3e26a8"/><stop offset="1.000" stop-color="#3e26a8"/></linearGradient><linearGradient id="p20" gradientUnits="userSpaceOnUse" x1="0" y1="335.9" x2="0" y2="370.3"><stop offset="0.000" stop-color="#249ee6"/><stop offset="0.218" stop-color="#22a1e4"/><stop offset="0.436" stop-color="#2f82fa"/><stop offset="0.567" stop-color="#4368fe"/><stop offset="0.741" stop-color="#4747eb"/><stop offset="0.858" stop-color="#4433cd"/><stop offset="0.959" stop-color="#3e26a8"/><stop offset="1.000" stop-color="#3e26a8"/></linearGradient><linearGradient id="p21" gradientUnits="userSpaceOnUse" x1="0" y1="335.3" x2="0" y2="370.3"><stop offset="0.000" stop-color="#22a1e4"/><stop offset="0.200" stop-color="#20a5e3"/><stop offset="0.386" stop-color="#2d8cf3"/><stop offset="0.486" stop-color="#3579fd"/><stop offset="0.601" stop-color="#4562fc"/><stop offset="0.772" stop-color="#4742e6"/><stop offset="0.887" stop-color="#4230c3"/><stop offset="0.958" stop-color="#3e26a8"/><stop offset="1.000" stop-color="#3e26a8"/></linearGradient><linearGradient id="p22" gradientUnits="userSpaceOnUse" x1="0" y1="334.7" x2="0" y2="370.2"><stop offset="0.000" stop-color="#20a4e3"/><stop offset="0.197" stop-color="#1ea7e1"/><stop offset="0.394" stop-color="#2d8bf4"/><stop offset="0.493" stop-color="#3579fd"/><stop offset="0.605" stop-color="#4562fc"/><stop offset="0.774" stop-color="#4742e6"/><stop offset="0.901" stop-color="#422ebe"/><stop offset="0.957" stop-color="#3e26a8"/><stop offset="1.000" stop-color="#3e26a8"/></linearGradient><linearGradient id="p23" gradientUnits="userSpaceOnUse" x1="0" y1="334.1" x2="0" y2="370.2"><stop offset="0.000" stop-color="#1ea7e1"/><stop offset="0.194" stop-color="#1da9e0"/><stop offset="0.416" stop-color="#2d88f6"/><stop offset="0.513" stop-color="#3875fe"/><stop offset="0.624" stop-color="#465ffb"/><stop offset="0.790" stop-color="#473fe3"/><stop offset="0.928" stop-color="#402ab4"/><stop offset="0.956" stop-color="#3e27a9"/><stop offset="1.000" stop-color="#3e26a8"/></linearGradient><linearGradient id="p24" gradientUnits="userSpaceOnUse" x1="0" y1="333.5" x2="0" y2="370.1"><stop offset="0.000" stop-color="#1caadf"/><stop offset="0.191" stop-color="#1babde"/><stop offset="0.450" stop-color="#2e83f9"/><stop offset="0.573" stop-color="#426afe"/><stop offset="0.737" stop-color="#484aee"/><stop offset="0.846" stop-color="#4536d3"/><stop offset="0.955" stop-color="#3e27aa"/><stop offset="1.000" stop-color="#3e26a8"/></linearGradient><linearGradient id="p25" gradientUnits="userSpaceOnUse" x1="0" y1="332.9" x2="0" y2="370.1"><stop offset="0.000" stop-color="#19acdc"/><stop offset="0.161" stop-color="#17aeda"/><stop offset="0.363" stop-color="#2a93ed"/><stop offset="0.511" stop-color="#3678fe"/><stop offset="0.618" stop-color="#4561fc"/><stop offset="0.780" stop-color="#4742e6"/><stop offset="0.901" stop-color="#422ec0"/><stop offset="0.968" stop-color="#3e26a8"/><stop offset="1.000" stop-color="#3e26a8"/></linearGradient><linearGradient id="p26" gradientUnits="userSpaceOnUse" x1="0" y1="332.3" x2="0" y2="370.1"><stop offset="0.000" stop-color="#16afda"/><stop offset="0.146" stop-color="#13b0d7"/><stop offset="0.331" stop-color="#269ae9"/><stop offset="0.516" stop-color="#3677fe"/><stop offset="0.622" stop-color="#4561fc"/><stop offset="0.780" stop-color="#4742e6"/><stop offset="0.899" stop-color="#422fc1"/><stop offset="0.966" stop-color="#3e26a8"/><stop offset="1.000" stop-color="#3e26a8"/></linearGradient><linearGradient id="p27" gradientUnits="userSpaceOnUse" x1="0" y1="331.7" x2="0" y2="370.1"><stop offset="0.000" stop-color="#12b1d7"/><stop offset="0.130" stop-color="#0db3d4"/><stop offset="0.299" stop-color="#23a0e5"/><stop offset="0.508" stop-color="#347afd"/><stop offset="0.625" stop-color="#4561fc"/><stop offset="0.781" stop-color="#4743e7"/><stop offset="0.885" stop-color="#4331c7"/><stop offset="0.964" stop-color="#3e26a8"/><stop offset="1.000" stop-color="#3e26a8"/></linearGradient><linearGradient id="p28" gradientUnits="userSpaceOnUse" x1="0" y1="331.1" x2="0" y2="370.1"><stop offset="0.000" stop-color="#0db3d3"/><stop offset="0.115" stop-color="#08b5d0"/><stop offset="0.282" stop-color="#21a4e3"/><stop offset="0.513" stop-color="#347afd"/><stop offset="0.628" stop-color="#4561fc"/><stop offset="0.782" stop-color="#4743e7"/><stop offset="0.885" stop-color="#4331c7"/><stop offset="0.962" stop-color="#3e26a8"/><stop offset="1.000" stop-color="#3e26a8"/></linearGradient><linearGradient id="p29" gradientUnits="userSpaceOnUse" x1="0" y1="330.5" x2="0" y2="370.1"><stop offset="0.000" stop-color="#07b5d0"/><stop offset="0.126" stop-color="#05b6ce"/><stop offset="0.303" stop-color="#22a1e4"/><stop offset="0.518" stop-color="#347afd"/><stop offset="0.631" stop-color="#4561fc"/><stop offset="0.783" stop-color="#4743e7"/><stop offset="0.896" stop-color="#4230c3"/><stop offset="0.960" stop-color="#3e27a9"/><stop offset="1.000" stop-color="#3e26a8"/></linearGradient><linearGradient id="p30" gradientUnits="userSpaceOnUse" x1="0" y1="329.9" x2="0" y2="370.2"><stop offset="0.000" stop-color="#04b6cc"/><stop offset="0.137" stop-color="#03b7cc"/><stop offset="0.286" stop-color="#1fa6e2"/><stop offset="0.534" stop-color="#3677fe"/><stop offset="0.646" stop-color="#465ffb"/><stop offset="0.795" stop-color="#4741e5"/><stop offset="0.919" stop-color="#412cba"/><stop offset="0.969" stop-color="#3e26a8"/><stop offset="1.000" stop-color="#3e26a8"/></linearGradient><linearGradient id="p31" gradientUnits="userSpaceOnUse" x1="0" y1="329.3" x2="0" y2="370.2"><stop offset="0.000" stop-color="#01b8c9"/><stop offset="0.122" stop-color="#01b9c7"/><stop offset="0.183" stop-color="#07b5d0"/><stop offset="0.281" stop-color="#1da8e0"/><stop offset="0.538" stop-color="#3578fd"/><stop offset="0.648" stop-color="#4660fc"/><stop offset="0.794" stop-color="#4742e6"/><stop offset="0.904" stop-color="#422fc1"/><stop offset="0.965" stop-color="#3e26a8"/><stop offset="1.000" stop-color="#3e26a8"/></linearGradient><linearGradient id="p32" gradientUnits="userSpaceOnUse" x1="0" y1="328.7" x2="0" y2="370.3"><stop offset="0.000" stop-color="#02bac5"/><stop offset="0.120" stop-color="#02bac3"/><stop offset="0.180" stop-color="#03b7cc"/><stop offset="0.289" stop-color="#1da9e0"/><stop offset="0.541" stop-color="#3579fd"/><stop offset="0.649" stop-color="#4561fc"/><stop offset="0.794" stop-color="#4743e7"/><stop offset="0.902" stop-color="#422fc3"/><stop offset="0.962" stop-color="#3e27a9"/><stop offset="1.000" stop-color="#3e26a8"/></linearGradient><linearGradient id="p33" gradientUnits="userSpaceOnUse" x1="0" y1="328.1" x2="0" y2="370.3"><stop offset="0.000" stop-color="#05bbc1"/><stop offset="0.107" stop-color="#09bcbe"/><stop offset="0.189" stop-color="#02b7cb"/><stop offset="0.296" stop-color="#1caadf"/><stop offset="0.556" stop-color="#3677fe"/><stop offset="0.663" stop-color="#465ffb"/><stop offset="0.805" stop-color="#4741e5"/><stop offset="0.923" stop-color="#412cba"/><stop offset="0.971" stop-color="#3e26a8"/><stop offset="1.000" stop-color="#3e26a8"/></linearGradient><linearGradient id="p34" gradientUnits="userSpaceOnUse" x1="0" y1="327.5" x2="0" y2="370.4"><stop offset="0.000" stop-color="#0abdbd"/><stop offset="0.093" stop-color="#10beba"/><stop offset="0.198" stop-color="#01b8c9"/><stop offset="0.315" stop-color="#1da8e0"/><stop offset="0.559" stop-color="#3578fd"/><stop offset="0.664" stop-color="#4660fc"/><stop offset="0.804" stop-color="#4742e6"/><stop offset="0.909" stop-color="#422fc1"/><stop offset="0.967" stop-color="#3e26a8"/><stop offset="1.000" stop-color="#3e26a8"/></linearGradient><linearGradient id="p35" gradientUnits="userSpaceOnUse" x1="0" y1="326.9" x2="0" y2="370.5"><stop offset="0.000" stop-color="#12beb9"/><stop offset="0.092" stop-color="#19bfb6"/><stop offset="0.195" stop-color="#01bac5"/><stop offset="0.241" stop-color="#07b5d0"/><stop offset="0.321" stop-color="#1da9e0"/><stop offset="0.562" stop-color="#3579fd"/><stop offset="0.665" stop-color="#4561fc"/><stop offset="0.803" stop-color="#4743e7"/><stop offset="0.906" stop-color="#422fc3"/><stop offset="0.963" stop-color="#3e27a9"/><stop offset="1.000" stop-color="#3e26a8"/></linearGradient><linearGradient id="p36" gradientUnits="userSpaceOnUse" x1="0" y1="326.3" x2="0" y2="370.6"><stop offset="0.000" stop-color="#1ac0b4"/><stop offset="0.102" stop-color="#1fc0b2"/><stop offset="0.214" stop-color="#01b9c7"/><stop offset="0.260" stop-color="#0ab4d2"/><stop offset="0.327" stop-color="#1caadf"/><stop offset="0.576" stop-color="#3677fe"/><stop offset="0.677" stop-color="#465ffb"/><stop offset="0.813" stop-color="#4741e5"/><stop offset="0.926" stop-color="#412cbb"/><stop offset="0.971" stop-color="#3e26a8"/><stop offset="1.000" stop-color="#3e26a8"/></linearGradient><linearGradient id="p37" gradientUnits="userSpaceOnUse" x1="0" y1="325.7" x2="0" y2="370.7"><stop offset="0.000" stop-color="#22c1b0"/><stop offset="0.100" stop-color="#25c2ad"/><stop offset="0.167" stop-color="#14bfb8"/><stop offset="0.222" stop-color="#01bac5"/><stop offset="0.267" stop-color="#08b4d0"/><stop offset="0.333" stop-color="#1baade"/><stop offset="0.578" stop-color="#3579fd"/><stop offset="0.678" stop-color="#4660fc"/><stop offset="0.811" stop-color="#4742e6"/><stop offset="0.911" stop-color="#422fc2"/><stop offset="0.967" stop-color="#3e26a8"/><stop offset="1.000" stop-color="#3e26a8"/></linearGradient><linearGradient id="p38" gradientUnits="userSpaceOnUse" x1="0" y1="325.1" x2="0" y2="370.8"><stop offset="0.000" stop-color="#27c2ab"/><stop offset="0.109" stop-color="#29c3aa"/><stop offset="0.164" stop-color="#1cc0b3"/><stop offset="0.230" stop-color="#02bac4"/><stop offset="0.263" stop-color="#04b6cd"/><stop offset="0.350" stop-color="#1ca9df"/><stop offset="0.580" stop-color="#347afd"/><stop offset="0.678" stop-color="#4561fc"/><stop offset="0.810" stop-color="#4743e7"/><stop offset="0.908" stop-color="#4230c4"/><stop offset="0.974" stop-color="#3e26a8"/><stop offset="1.000" stop-color="#3e26a8"/></linearGradient><linearGradient id="p39" gradientUnits="userSpaceOnUse" x1="0" y1="324.5" x2="0" y2="370.9"><stop offset="0.000" stop-color="#2cc4a7"/><stop offset="0.108" stop-color="#2dc4a5"/><stop offset="0.172" stop-color="#1fc0b2"/><stop offset="0.237" stop-color="#02bbc3"/><stop offset="0.280" stop-color="#05b6ce"/><stop offset="0.356" stop-color="#1caadf"/><stop offset="0.593" stop-color="#3678fd"/><stop offset="0.690" stop-color="#4660fb"/><stop offset="0.819" stop-color="#4742e6"/><stop offset="0.916" stop-color="#422fc1"/><stop offset="0.970" stop-color="#3e26a8"/><stop offset="1.000" stop-color="#3e26a8"/></linearGradient><linearGradient id="p40" gradientUnits="userSpaceOnUse" x1="0" y1="323.9" x2="0" y2="371.1"><stop offset="0.000" stop-color="#30c5a2"/><stop offset="0.106" stop-color="#31c6a0"/><stop offset="0.180" stop-color="#22c1af"/><stop offset="0.254" stop-color="#02bac4"/><stop offset="0.286" stop-color="#04b6cd"/><stop offset="0.371" stop-color="#1ca9df"/><stop offset="0.593" stop-color="#3479fd"/><stop offset="0.688" stop-color="#4561fc"/><stop offset="0.815" stop-color="#4743e7"/><stop offset="0.910" stop-color="#4230c3"/><stop offset="0.963" stop-color="#3e27aa"/><stop offset="1.000" stop-color="#3e26a8"/></linearGradient><linearGradient id="p41" gradientUnits="userSpaceOnUse" x1="0" y1="323.3" x2="0" y2="371.4"><stop offset="0.000" stop-color="#33c79d"/><stop offset="0.104" stop-color="#35c79a"/><stop offset="0.187" stop-color="#25c2ad"/><stop offset="0.260" stop-color="#03bbc2"/><stop offset="0.302" stop-color="#05b6ce"/><stop offset="0.375" stop-color="#1baade"/><stop offset="0.603" stop-color="#3579fd"/><stop offset="0.697" stop-color="#4660fc"/><stop offset="0.822" stop-color="#4742e6"/><stop offset="0.916" stop-color="#422fc1"/><stop offset="0.968" stop-color="#3e26a8"/><stop offset="1.000" stop-color="#3e26a8"/></linearGradient><linearGradient id="p42" gradientUnits="userSpaceOnUse" x1="0" y1="322.7" x2="0" y2="371.6"><stop offset="0.000" stop-color="#37c897"/><stop offset="0.102" stop-color="#3ac994"/><stop offset="0.205" stop-color="#25c2ae"/><stop offset="0.276" stop-color="#02bbc3"/><stop offset="0.317" stop-color="#06b5cf"/><stop offset="0.389" stop-color="#1caadf"/><stop offset="0.614" stop-color="#3678fe"/><stop offset="0.706" stop-color="#4660fb"/><stop offset="0.828" stop-color="#4741e5"/><stop offset="0.931" stop-color="#412dbb"/><stop offset="0.972" stop-color="#3e26a8"/><stop offset="1.000" stop-color="#3e26a8"/></linearGradient><linearGradient id="p43" gradientUnits="userSpaceOnUse" x1="0" y1="322.1" x2="0" y2="371.8"><stop offset="0.000" stop-color="#3cc991"/><stop offset="0.091" stop-color="#40ca8d"/><stop offset="0.181" stop-color="#2fc5a2"/><stop offset="0.241" stop-color="#1abfb5"/><stop offset="0.292" stop-color="#02bac4"/><stop offset="0.322" stop-color="#04b6cd"/><stop offset="0.402" stop-color="#1ca9df"/><stop offset="0.614" stop-color="#3479fd"/><stop offset="0.704" stop-color="#4561fc"/><stop offset="0.825" stop-color="#4743e7"/><stop offset="0.915" stop-color="#4230c3"/><stop offset="0.966" stop-color="#3e27a9"/><stop offset="1.000" stop-color="#3e26a8"/></linearGradient><linearGradient id="p44" gradientUnits="userSpaceOnUse" x1="0" y1="321.5" x2="0" y2="372.0"><stop offset="0.000" stop-color="#42ca8b"/><stop offset="0.089" stop-color="#48cb86"/><stop offset="0.168" stop-color="#36c799"/><stop offset="0.237" stop-color="#22c1b0"/><stop offset="0.297" stop-color="#03bbc2"/><stop offset="0.336" stop-color="#05b6ce"/><stop offset="0.406" stop-color="#1baade"/><stop offset="0.623" stop-color="#3578fd"/><stop offset="0.712" stop-color="#4660fc"/><stop offset="0.831" stop-color="#4742e6"/><stop offset="0.920" stop-color="#422fc1"/><stop offset="0.969" stop-color="#3e26a8"/><stop offset="1.000" stop-color="#3e26a8"/></linearGradient><linearGradient id="p45" gradientUnits="userSpaceOnUse" x1="0" y1="321.0" x2="0" y2="372.3"><stop offset="0.000" stop-color="#49cb85"/><stop offset="0.088" stop-color="#50cc80"/><stop offset="0.166" stop-color="#3ac993"/><stop offset="0.254" stop-color="#1fc1b1"/><stop offset="0.312" stop-color="#02bac4"/><stop offset="0.341" stop-color="#04b6cc"/><stop offset="0.419" stop-color="#1ca9df"/><stop offset="0.624" stop-color="#347afd"/><stop offset="0.712" stop-color="#4562fc"/><stop offset="0.829" stop-color="#4743e7"/><stop offset="0.917" stop-color="#4230c4"/><stop offset="0.975" stop-color="#3e26a8"/><stop offset="1.000" stop-color="#3e26a8"/></linearGradient><linearGradient id="p46" gradientUnits="userSpaceOnUse" x1="0" y1="320.5" x2="0" y2="372.5"><stop offset="0.000" stop-color="#52cc7e"/><stop offset="0.087" stop-color="#59cc79"/><stop offset="0.154" stop-color="#44cb8a"/><stop offset="0.269" stop-color="#1dc0b3"/><stop offset="0.317" stop-color="#03bbc2"/><stop offset="0.356" stop-color="#05b6ce"/><stop offset="0.423" stop-color="#1baade"/><stop offset="0.635" stop-color="#3578fd"/><stop offset="0.721" stop-color="#4660fc"/><stop offset="0.837" stop-color="#4742e6"/><stop offset="0.923" stop-color="#422fc1"/><stop offset="0.971" stop-color="#3e26a8"/><stop offset="1.000" stop-color="#3e26a8"/></linearGradient><linearGradient id="p47" gradientUnits="userSpaceOnUse" x1="0" y1="320.0" x2="0" y2="372.8"><stop offset="0.000" stop-color="#5bcc77"/><stop offset="0.085" stop-color="#61cd71"/><stop offset="0.142" stop-color="#50cc7f"/><stop offset="0.218" stop-color="#33c69e"/><stop offset="0.284" stop-color="#1ac0b5"/><stop offset="0.332" stop-color="#02bac4"/><stop offset="0.360" stop-color="#04b6cd"/><stop offset="0.436" stop-color="#1ca9df"/><stop offset="0.635" stop-color="#347afd"/><stop offset="0.720" stop-color="#4561fc"/><stop offset="0.834" stop-color="#4743e7"/><stop offset="0.919" stop-color="#4230c3"/><stop offset="0.976" stop-color="#3e26a8"/><stop offset="1.000" stop-color="#3e26a8"/></linearGradient><linearGradient id="p48" gradientUnits="userSpaceOnUse" x1="0" y1="319.5" x2="0" y2="373.1"><stop offset="0.000" stop-color="#64cd6f"/><stop offset="0.075" stop-color="#6ccd68"/><stop offset="0.131" stop-color="#5dcc74"/><stop offset="0.215" stop-color="#37c898"/><stop offset="0.289" stop-color="#1dc0b3"/><stop offset="0.336" stop-color="#03bbc2"/><stop offset="0.373" stop-color="#05b6ce"/><stop offset="0.439" stop-color="#1baade"/><stop offset="0.644" stop-color="#3578fd"/><stop offset="0.728" stop-color="#4660fc"/><stop offset="0.840" stop-color="#4742e6"/><stop offset="0.924" stop-color="#422fc1"/><stop offset="0.971" stop-color="#3e26a8"/><stop offset="1.000" stop-color="#3e26a8"/></linearGradient><linearGradient id="p49" gradientUnits="userSpaceOnUse" x1="0" y1="319.0" x2="0" y2="373.4"><stop offset="0.000" stop-color="#6ecd67"/><stop offset="0.074" stop-color="#76cc61"/><stop offset="0.129" stop-color="#67cd6d"/><stop offset="0.221" stop-color="#39c895"/><stop offset="0.294" stop-color="#20c1b1"/><stop offset="0.350" stop-color="#02bac3"/><stop offset="0.386" stop-color="#06b5cf"/><stop offset="0.451" stop-color="#1caadf"/><stop offset="0.653" stop-color="#3677fe"/><stop offset="0.736" stop-color="#465ffb"/><stop offset="0.846" stop-color="#4741e5"/><stop offset="0.938" stop-color="#412cba"/><stop offset="0.975" stop-color="#3e26a8"/><stop offset="1.000" stop-color="#3e26a8"/></linearGradient><linearGradient id="p50" gradientUnits="userSpaceOnUse" x1="0" y1="318.5" x2="0" y2="373.6"><stop offset="0.000" stop-color="#78cc5f"/><stop offset="0.073" stop-color="#80cc59"/><stop offset="0.118" stop-color="#75cc62"/><stop offset="0.236" stop-color="#37c897"/><stop offset="0.308" stop-color="#1ec0b2"/><stop offset="0.363" stop-color="#02bac5"/><stop offset="0.399" stop-color="#08b5d0"/><stop offset="0.453" stop-color="#1babde"/><stop offset="0.653" stop-color="#3579fd"/><stop offset="0.734" stop-color="#4661fc"/><stop offset="0.843" stop-color="#4743e7"/><stop offset="0.925" stop-color="#422fc2"/><stop offset="0.970" stop-color="#3e26a8"/><stop offset="1.000" stop-color="#3e26a8"/></linearGradient><linearGradient id="p51" gradientUnits="userSpaceOnUse" x1="0" y1="318.2" x2="0" y2="373.9"><stop offset="0.000" stop-color="#82cc57"/><stop offset="0.072" stop-color="#8acb52"/><stop offset="0.117" stop-color="#7dcc5c"/><stop offset="0.233" stop-color="#3bc993"/><stop offset="0.314" stop-color="#1ec0b2"/><stop offset="0.368" stop-color="#02bac5"/><stop offset="0.404" stop-color="#07b5d0"/><stop offset="0.458" stop-color="#1babde"/><stop offset="0.656" stop-color="#3579fd"/><stop offset="0.736" stop-color="#4561fc"/><stop offset="0.844" stop-color="#4743e7"/><stop offset="0.925" stop-color="#422fc2"/><stop offset="0.970" stop-color="#3e26a9"/><stop offset="1.000" stop-color="#3e26a8"/></linearGradient><linearGradient id="p52" gradientUnits="userSpaceOnUse" x1="0" y1="318.0" x2="0" y2="374.2"><stop offset="0.000" stop-color="#8ccb50"/><stop offset="0.071" stop-color="#93ca4b"/><stop offset="0.125" stop-color="#80cc59"/><stop offset="0.240" stop-color="#3bc992"/><stop offset="0.320" stop-color="#1ec0b2"/><stop offset="0.374" stop-color="#02bac4"/><stop offset="0.400" stop-color="#04b6cd"/><stop offset="0.471" stop-color="#1da9e0"/><stop offset="0.658" stop-color="#3479fd"/><stop offset="0.738" stop-color="#4561fc"/><stop offset="0.845" stop-color="#4743e7"/><stop offset="0.925" stop-color="#4230c3"/><stop offset="0.970" stop-color="#3e27a9"/><stop offset="1.000" stop-color="#3e26a8"/></linearGradient><linearGradient id="p53" gradientUnits="userSpaceOnUse" x1="0" y1="317.8" x2="0" y2="374.5"><stop offset="0.000" stop-color="#96ca48"/><stop offset="0.070" stop-color="#9bc944"/><stop offset="0.123" stop-color="#87cb54"/><stop offset="0.247" stop-color="#3bc992"/><stop offset="0.326" stop-color="#1fc0b2"/><stop offset="0.379" stop-color="#02bac4"/><stop offset="0.405" stop-color="#04b6cd"/><stop offset="0.476" stop-color="#1ca9df"/><stop offset="0.661" stop-color="#3479fd"/><stop offset="0.740" stop-color="#4561fc"/><stop offset="0.846" stop-color="#4743e7"/><stop offset="0.925" stop-color="#4230c3"/><stop offset="0.969" stop-color="#3e27aa"/><stop offset="1.000" stop-color="#3e26a8"/></linearGradient><linearGradient id="p54" gradientUnits="userSpaceOnUse" x1="0" y1="317.5" x2="0" y2="374.9"><stop offset="0.000" stop-color="#a0c841"/><stop offset="0.070" stop-color="#a4c83e"/><stop offset="0.122" stop-color="#8fca4d"/><stop offset="0.244" stop-color="#40ca8d"/><stop offset="0.331" stop-color="#20c1b1"/><stop offset="0.383" stop-color="#02bac4"/><stop offset="0.418" stop-color="#06b5cf"/><stop offset="0.479" stop-color="#1caadf"/><stop offset="0.671" stop-color="#3677fe"/><stop offset="0.749" stop-color="#465ffb"/><stop offset="0.854" stop-color="#4741e5"/><stop offset="0.941" stop-color="#412cba"/><stop offset="0.976" stop-color="#3e26a8"/><stop offset="1.000" stop-color="#3e26a8"/></linearGradient><linearGradient id="p55" gradientUnits="userSpaceOnUse" x1="0" y1="317.4" x2="0" y2="375.3"><stop offset="0.000" stop-color="#a9c73a"/><stop offset="0.060" stop-color="#adc638"/><stop offset="0.112" stop-color="#9bc944"/><stop offset="0.242" stop-color="#45cb89"/><stop offset="0.346" stop-color="#1bc0b4"/><stop offset="0.389" stop-color="#02bac4"/><stop offset="0.415" stop-color="#03b6cc"/><stop offset="0.484" stop-color="#1ca9df"/><stop offset="0.674" stop-color="#3777fe"/><stop offset="0.752" stop-color="#465ffb"/><stop offset="0.855" stop-color="#4741e5"/><stop offset="0.942" stop-color="#412cba"/><stop offset="0.976" stop-color="#3e26a8"/><stop offset="1.000" stop-color="#3e26a8"/></linearGradient><linearGradient id="p56" gradientUnits="userSpaceOnUse" x1="0" y1="317.3" x2="0" y2="375.7"><stop offset="0.000" stop-color="#b1c636"/><stop offset="0.060" stop-color="#b4c534"/><stop offset="0.111" stop-color="#a1c840"/><stop offset="0.240" stop-color="#49cb85"/><stop offset="0.351" stop-color="#1ac0b4"/><stop offset="0.394" stop-color="#02bac4"/><stop offset="0.420" stop-color="#04b6cc"/><stop offset="0.488" stop-color="#1ca9df"/><stop offset="0.668" stop-color="#347afd"/><stop offset="0.745" stop-color="#4562fc"/><stop offset="0.848" stop-color="#4743e7"/><stop offset="0.925" stop-color="#4230c4"/><stop offset="0.977" stop-color="#3e26a8"/><stop offset="1.000" stop-color="#3e26a8"/></linearGradient><linearGradient id="p57" gradientUnits="userSpaceOnUse" x1="0" y1="317.2" x2="0" y2="376.1"><stop offset="0.000" stop-color="#b8c431"/><stop offset="0.059" stop-color="#bbc430"/><stop offset="0.110" stop-color="#a8c73b"/><stop offset="0.238" stop-color="#4fcc81"/><stop offset="0.289" stop-color="#35c79a"/><stop offset="0.348" stop-color="#1fc1b1"/><stop offset="0.399" stop-color="#02bac4"/><stop offset="0.425" stop-color="#04b6cc"/><stop offset="0.493" stop-color="#1ca9df"/><stop offset="0.671" stop-color="#347afd"/><stop offset="0.748" stop-color="#4561fc"/><stop offset="0.850" stop-color="#4743e7"/><stop offset="0.926" stop-color="#4230c4"/><stop offset="0.977" stop-color="#3e26a8"/><stop offset="1.000" stop-color="#3e26a8"/></linearGradient><linearGradient id="p58" gradientUnits="userSpaceOnUse" x1="0" y1="317.2" x2="0" y2="376.5"><stop offset="0.000" stop-color="#c0c32d"/><stop offset="0.059" stop-color="#c1c32c"/><stop offset="0.110" stop-color="#aec637"/><stop offset="0.244" stop-color="#4fcc81"/><stop offset="0.295" stop-color="#35c79a"/><stop offset="0.354" stop-color="#1fc0b1"/><stop offset="0.404" stop-color="#02bac4"/><stop offset="0.430" stop-color="#04b6cd"/><stop offset="0.497" stop-color="#1ca9df"/><stop offset="0.674" stop-color="#347afd"/><stop offset="0.750" stop-color="#4561fc"/><stop offset="0.851" stop-color="#4743e7"/><stop offset="0.927" stop-color="#4230c3"/><stop offset="0.969" stop-color="#3e27aa"/><stop offset="1.000" stop-color="#3e26a8"/></linearGradient><linearGradient id="p59" gradientUnits="userSpaceOnUse" x1="0" y1="317.1" x2="0" y2="376.9"><stop offset="0.000" stop-color="#c7c12a"/><stop offset="0.059" stop-color="#c8c129"/><stop offset="0.109" stop-color="#b4c534"/><stop offset="0.201" stop-color="#72cd64"/><stop offset="0.284" stop-color="#3cc992"/><stop offset="0.359" stop-color="#1fc0b2"/><stop offset="0.410" stop-color="#02bac4"/><stop offset="0.435" stop-color="#04b6cd"/><stop offset="0.502" stop-color="#1ca9df"/><stop offset="0.677" stop-color="#347afd"/><stop offset="0.752" stop-color="#4561fc"/><stop offset="0.853" stop-color="#4743e7"/><stop offset="0.928" stop-color="#4230c3"/><stop offset="0.970" stop-color="#3e27aa"/><stop offset="1.000" stop-color="#3e26a8"/></linearGradient><linearGradient id="p60" gradientUnits="userSpaceOnUse" x1="0" y1="317.0" x2="0" y2="377.3"><stop offset="0.000" stop-color="#cdc028"/><stop offset="0.058" stop-color="#cec028"/><stop offset="0.108" stop-color="#bac430"/><stop offset="0.182" stop-color="#85cb55"/><stop offset="0.282" stop-color="#3fca8e"/><stop offset="0.365" stop-color="#1fc0b2"/><stop offset="0.414" stop-color="#02bac4"/><stop offset="0.439" stop-color="#04b6cd"/><stop offset="0.506" stop-color="#1ca9df"/><stop offset="0.680" stop-color="#347afd"/><stop offset="0.754" stop-color="#4561fc"/><stop offset="0.854" stop-color="#4743e7"/><stop offset="0.928" stop-color="#4230c3"/><stop offset="0.970" stop-color="#3e27aa"/><stop offset="1.000" stop-color="#3e26a8"/></linearGradient><linearGradient id="p61" gradientUnits="userSpaceOnUse" x1="0" y1="317.0" x2="0" y2="377.8"><stop offset="0.000" stop-color="#d4bf28"/><stop offset="0.058" stop-color="#d4bf27"/><stop offset="0.115" stop-color="#bbc430"/><stop offset="0.197" stop-color="#7ecc5a"/><stop offset="0.288" stop-color="#3fca8e"/><stop offset="0.370" stop-color="#1ec0b2"/><stop offset="0.419" stop-color="#02bac4"/><stop offset="0.444" stop-color="#04b6cd"/><stop offset="0.510" stop-color="#1da9e0"/><stop offset="0.683" stop-color="#3479fd"/><stop offset="0.757" stop-color="#4561fc"/><stop offset="0.855" stop-color="#4743e7"/><stop offset="0.929" stop-color="#4230c3"/><stop offset="0.971" stop-color="#3e27a9"/><stop offset="1.000" stop-color="#3e26a8"/></linearGradient><linearGradient id="p62" gradientUnits="userSpaceOnUse" x1="0" y1="316.9" x2="0" y2="378.2"><stop offset="0.000" stop-color="#dabd28"/><stop offset="0.057" stop-color="#d9be28"/><stop offset="0.106" stop-color="#c5c22a"/><stop offset="0.171" stop-color="#98ca47"/><stop offset="0.286" stop-color="#43ca8a"/><stop offset="0.376" stop-color="#1ec0b2"/><stop offset="0.424" stop-color="#02bac5"/><stop offset="0.457" stop-color="#07b5d0"/><stop offset="0.506" stop-color="#1babde"/><stop offset="0.686" stop-color="#3579fd"/><stop offset="0.759" stop-color="#4561fc"/><stop offset="0.857" stop-color="#4743e7"/><stop offset="0.931" stop-color="#422fc2"/><stop offset="0.971" stop-color="#3e26a9"/><stop offset="1.000" stop-color="#3e26a8"/></linearGradient><linearGradient id="p63" gradientUnits="userSpaceOnUse" x1="0" y1="316.9" x2="0" y2="378.6"><stop offset="0.000" stop-color="#e0bc2a"/><stop offset="0.057" stop-color="#debc2a"/><stop offset="0.113" stop-color="#c5c22a"/><stop offset="0.178" stop-color="#97ca48"/><stop offset="0.284" stop-color="#48cb86"/><stop offset="0.381" stop-color="#1ec0b2"/><stop offset="0.429" stop-color="#02bac5"/><stop offset="0.462" stop-color="#08b5d0"/><stop offset="0.510" stop-color="#1babde"/><stop offset="0.689" stop-color="#3579fd"/><stop offset="0.762" stop-color="#4661fc"/><stop offset="0.859" stop-color="#4742e7"/><stop offset="0.932" stop-color="#422fc2"/><stop offset="0.972" stop-color="#3e26a8"/><stop offset="1.000" stop-color="#3e26a8"/></linearGradient><linearGradient id="p64" gradientUnits="userSpaceOnUse" x1="0" y1="316.9" x2="0" y2="379.1"><stop offset="0.000" stop-color="#e6bb2d"/><stop offset="0.056" stop-color="#e3bc2c"/><stop offset="0.113" stop-color="#cac129"/><stop offset="0.177" stop-color="#9dc943"/><stop offset="0.290" stop-color="#47cb87"/><stop offset="0.386" stop-color="#1dc0b3"/><stop offset="0.426" stop-color="#03bbc2"/><stop offset="0.458" stop-color="#05b6ce"/><stop offset="0.515" stop-color="#1baade"/><stop offset="0.692" stop-color="#3579fd"/><stop offset="0.764" stop-color="#4660fc"/><stop offset="0.861" stop-color="#4742e6"/><stop offset="0.933" stop-color="#422fc2"/><stop offset="0.973" stop-color="#3e26a8"/><stop offset="1.000" stop-color="#3e26a8"/></linearGradient><linearGradient id="p65" gradientUnits="userSpaceOnUse" x1="0" y1="316.9" x2="0" y2="379.5"><stop offset="0.000" stop-color="#e9bb30"/><stop offset="0.056" stop-color="#e7bb2e"/><stop offset="0.112" stop-color="#cfc028"/><stop offset="0.168" stop-color="#a8c73b"/><stop offset="0.288" stop-color="#4ccb83"/><stop offset="0.335" stop-color="#34c79c"/><stop offset="0.391" stop-color="#1dc0b3"/><stop offset="0.431" stop-color="#03bbc2"/><stop offset="0.463" stop-color="#05b6ce"/><stop offset="0.519" stop-color="#1baade"/><stop offset="0.695" stop-color="#3578fd"/><stop offset="0.767" stop-color="#4660fc"/><stop offset="0.863" stop-color="#4742e6"/><stop offset="0.935" stop-color="#422fc1"/><stop offset="0.974" stop-color="#3e26a8"/><stop offset="1.000" stop-color="#3e26a8"/></linearGradient><linearGradient id="p66" gradientUnits="userSpaceOnUse" x1="0" y1="316.9" x2="0" y2="380.1"><stop offset="0.000" stop-color="#ecba32"/><stop offset="0.063" stop-color="#e8bb2f"/><stop offset="0.119" stop-color="#cfc028"/><stop offset="0.174" stop-color="#a8c73b"/><stop offset="0.293" stop-color="#4ccb83"/><stop offset="0.340" stop-color="#34c79c"/><stop offset="0.396" stop-color="#1cc0b3"/><stop offset="0.435" stop-color="#03bbc3"/><stop offset="0.467" stop-color="#05b6ce"/><stop offset="0.523" stop-color="#1baade"/><stop offset="0.697" stop-color="#3578fd"/><stop offset="0.768" stop-color="#4660fc"/><stop offset="0.863" stop-color="#4742e6"/><stop offset="0.934" stop-color="#422fc1"/><stop offset="0.974" stop-color="#3e26a8"/><stop offset="1.000" stop-color="#3e26a8"/></linearGradient><linearGradient id="p67" gradientUnits="userSpaceOnUse" x1="0" y1="316.9" x2="0" y2="380.6"><stop offset="0.000" stop-color="#eeba34"/><stop offset="0.063" stop-color="#ecba32"/><stop offset="0.126" stop-color="#d0c027"/><stop offset="0.180" stop-color="#a9c73a"/><stop offset="0.298" stop-color="#4ccb83"/><stop offset="0.345" stop-color="#34c79b"/><stop offset="0.400" stop-color="#1dc0b3"/><stop offset="0.439" stop-color="#03bbc2"/><stop offset="0.471" stop-color="#05b6ce"/><stop offset="0.526" stop-color="#1baade"/><stop offset="0.698" stop-color="#3578fd"/><stop offset="0.769" stop-color="#4660fc"/><stop offset="0.863" stop-color="#4742e6"/><stop offset="0.934" stop-color="#422fc1"/><stop offset="0.973" stop-color="#3e26a8"/><stop offset="1.000" stop-color="#3e26a8"/></linearGradient><linearGradient id="p68" gradientUnits="userSpaceOnUse" x1="0" y1="316.9" x2="0" y2="381.2"><stop offset="0.000" stop-color="#f0ba36"/><stop offset="0.062" stop-color="#efba35"/><stop offset="0.117" stop-color="#dabd28"/><stop offset="0.156" stop-color="#c1c32c"/><stop offset="0.226" stop-color="#8acb51"/><stop offset="0.319" stop-color="#43ca8b"/><stop offset="0.405" stop-color="#1ec0b2"/><stop offset="0.451" stop-color="#02bac5"/><stop offset="0.482" stop-color="#08b5d0"/><stop offset="0.529" stop-color="#1babde"/><stop offset="0.700" stop-color="#3579fd"/><stop offset="0.770" stop-color="#4661fc"/><stop offset="0.864" stop-color="#4742e7"/><stop offset="0.934" stop-color="#422fc2"/><stop offset="0.972" stop-color="#3e26a8"/><stop offset="1.000" stop-color="#3e26a8"/></linearGradient><linearGradient id="p69" gradientUnits="userSpaceOnUse" x1="0" y1="317.0" x2="0" y2="381.8"><stop offset="0.000" stop-color="#f2ba38"/><stop offset="0.062" stop-color="#f3ba38"/><stop offset="0.116" stop-color="#dfbc2a"/><stop offset="0.154" stop-color="#c7c12a"/><stop offset="0.216" stop-color="#98c947"/><stop offset="0.316" stop-color="#48cb86"/><stop offset="0.416" stop-color="#19bfb5"/><stop offset="0.455" stop-color="#02bac4"/><stop offset="0.478" stop-color="#04b6cd"/><stop offset="0.540" stop-color="#1da9e0"/><stop offset="0.702" stop-color="#3579fd"/><stop offset="0.771" stop-color="#4561fc"/><stop offset="0.864" stop-color="#4743e7"/><stop offset="0.933" stop-color="#422fc2"/><stop offset="0.972" stop-color="#3e26a9"/><stop offset="1.000" stop-color="#3e26a8"/></linearGradient><linearGradient id="p70" gradientUnits="userSpaceOnUse" x1="0" y1="317.0" x2="0" y2="382.4"><stop offset="0.000" stop-color="#f5ba3a"/><stop offset="0.069" stop-color="#f4ba39"/><stop offset="0.130" stop-color="#dbbd28"/><stop offset="0.168" stop-color="#c2c32c"/><stop offset="0.237" stop-color="#8bcb51"/><stop offset="0.329" stop-color="#43ca8a"/><stop offset="0.413" stop-color="#1ec0b2"/><stop offset="0.459" stop-color="#02bac4"/><stop offset="0.482" stop-color="#04b6cd"/><stop offset="0.543" stop-color="#1da9e0"/><stop offset="0.704" stop-color="#3479fd"/><stop offset="0.772" stop-color="#4561fc"/><stop offset="0.864" stop-color="#4743e7"/><stop offset="0.933" stop-color="#4230c3"/><stop offset="0.971" stop-color="#3e27a9"/><stop offset="1.000" stop-color="#3e26a8"/></linearGradient><linearGradient id="p71" gradientUnits="userSpaceOnUse" x1="0" y1="317.0" x2="0" y2="382.9"><stop offset="0.000" stop-color="#f7ba3c"/><stop offset="0.068" stop-color="#f7ba3c"/><stop offset="0.129" stop-color="#debc2a"/><stop offset="0.167" stop-color="#c6c22a"/><stop offset="0.235" stop-color="#91ca4c"/><stop offset="0.334" stop-color="#43ca8b"/><stop offset="0.417" stop-color="#1ec0b2"/><stop offset="0.463" stop-color="#02bac5"/><stop offset="0.493" stop-color="#07b5d0"/><stop offset="0.538" stop-color="#1babde"/><stop offset="0.705" stop-color="#3479fd"/><stop offset="0.773" stop-color="#4561fc"/><stop offset="0.864" stop-color="#4743e7"/><stop offset="0.933" stop-color="#4230c4"/><stop offset="0.978" stop-color="#3e26a8"/><stop offset="1.000" stop-color="#3e26a8"/></linearGradient><linearGradient id="p72" gradientUnits="userSpaceOnUse" x1="0" y1="317.0" x2="0" y2="383.5"><stop offset="0.000" stop-color="#f8ba3d"/><stop offset="0.075" stop-color="#f7ba3d"/><stop offset="0.135" stop-color="#debd29"/><stop offset="0.173" stop-color="#c5c22a"/><stop offset="0.241" stop-color="#90ca4d"/><stop offset="0.338" stop-color="#42ca8b"/><stop offset="0.421" stop-color="#1ec0b2"/><stop offset="0.466" stop-color="#02bac5"/><stop offset="0.496" stop-color="#07b5d0"/><stop offset="0.541" stop-color="#1babde"/><stop offset="0.707" stop-color="#3479fd"/><stop offset="0.774" stop-color="#4561fc"/><stop offset="0.865" stop-color="#4743e7"/><stop offset="0.932" stop-color="#4230c4"/><stop offset="0.977" stop-color="#3e26a8"/><stop offset="1.000" stop-color="#3e26a8"/></linearGradient><linearGradient id="p73" gradientUnits="userSpaceOnUse" x1="0" y1="317.2" x2="0" y2="384.1"><stop offset="0.000" stop-color="#fabb3d"/><stop offset="0.075" stop-color="#f9bb3d"/><stop offset="0.135" stop-color="#e0bc2b"/><stop offset="0.172" stop-color="#c8c129"/><stop offset="0.232" stop-color="#9ac945"/><stop offset="0.336" stop-color="#45cb88"/><stop offset="0.426" stop-color="#1cc0b4"/><stop offset="0.463" stop-color="#02bbc3"/><stop offset="0.493" stop-color="#05b6ce"/><stop offset="0.546" stop-color="#1baade"/><stop offset="0.710" stop-color="#3579fd"/><stop offset="0.777" stop-color="#4661fc"/><stop offset="0.867" stop-color="#4743e7"/><stop offset="0.934" stop-color="#4230c3"/><stop offset="0.972" stop-color="#3e27aa"/><stop offset="1.000" stop-color="#3e26a8"/></linearGradient><linearGradient id="p74" gradientUnits="userSpaceOnUse" x1="0" y1="317.3" x2="0" y2="384.6"><stop offset="0.000" stop-color="#fbbc3d"/><stop offset="0.074" stop-color="#fabb3d"/><stop offset="0.111" stop-color="#eeba34"/><stop offset="0.156" stop-color="#d5be28"/><stop offset="0.193" stop-color="#bbc42f"/><stop offset="0.282" stop-color="#70cd65"/><stop offset="0.357" stop-color="#3bc992"/><stop offset="0.423" stop-color="#1fc0b2"/><stop offset="0.468" stop-color="#02bac4"/><stop offset="0.490" stop-color="#04b6cc"/><stop offset="0.550" stop-color="#1caadf"/><stop offset="0.713" stop-color="#3678fd"/><stop offset="0.780" stop-color="#4660fc"/><stop offset="0.869" stop-color="#4742e6"/><stop offset="0.936" stop-color="#422fc2"/><stop offset="0.973" stop-color="#3e26a9"/><stop offset="1.000" stop-color="#3e26a8"/></linearGradient><linearGradient id="p75" gradientUnits="userSpaceOnUse" x1="0" y1="317.5" x2="0" y2="385.2"><stop offset="0.000" stop-color="#fcbc3d"/><stop offset="0.081" stop-color="#fabb3d"/><stop offset="0.140" stop-color="#e1bc2b"/><stop offset="0.177" stop-color="#c9c129"/><stop offset="0.236" stop-color="#9bc945"/><stop offset="0.340" stop-color="#46cb88"/><stop offset="0.428" stop-color="#1dc0b3"/><stop offset="0.465" stop-color="#04bbc2"/><stop offset="0.495" stop-color="#05b6cd"/><stop offset="0.554" stop-color="#1da9e0"/><stop offset="0.716" stop-color="#3677fe"/><stop offset="0.783" stop-color="#465ffb"/><stop offset="0.871" stop-color="#4742e6"/><stop offset="0.938" stop-color="#422fc1"/><stop offset="0.975" stop-color="#3e26a8"/><stop offset="1.000" stop-color="#3e26a8"/></linearGradient><linearGradient id="p76" gradientUnits="userSpaceOnUse" x1="0" y1="317.6" x2="0" y2="385.8"><stop offset="0.000" stop-color="#fcbc3d"/><stop offset="0.081" stop-color="#fbbc3d"/><stop offset="0.110" stop-color="#f2ba38"/><stop offset="0.161" stop-color="#d6be28"/><stop offset="0.198" stop-color="#bcc42f"/><stop offset="0.286" stop-color="#72cd63"/><stop offset="0.359" stop-color="#3cc991"/><stop offset="0.425" stop-color="#21c1b0"/><stop offset="0.469" stop-color="#03bbc3"/><stop offset="0.499" stop-color="#05b6ce"/><stop offset="0.550" stop-color="#1baade"/><stop offset="0.711" stop-color="#3479fd"/><stop offset="0.777" stop-color="#4562fc"/><stop offset="0.873" stop-color="#4741e5"/><stop offset="0.939" stop-color="#422fc1"/><stop offset="0.975" stop-color="#3e26a8"/><stop offset="1.000" stop-color="#3e26a8"/></linearGradient><linearGradient id="p77" gradientUnits="userSpaceOnUse" x1="0" y1="317.7" x2="0" y2="386.4"><stop offset="0.000" stop-color="#fcbc3d"/><stop offset="0.087" stop-color="#fbbc3d"/><stop offset="0.124" stop-color="#eeba34"/><stop offset="0.168" stop-color="#d5be28"/><stop offset="0.204" stop-color="#bac430"/><stop offset="0.299" stop-color="#6acd6a"/><stop offset="0.364" stop-color="#3bc992"/><stop offset="0.430" stop-color="#20c1b1"/><stop offset="0.473" stop-color="#02bac3"/><stop offset="0.503" stop-color="#06b5cf"/><stop offset="0.554" stop-color="#1caadf"/><stop offset="0.714" stop-color="#3579fd"/><stop offset="0.779" stop-color="#4561fc"/><stop offset="0.874" stop-color="#4741e5"/><stop offset="0.947" stop-color="#412dbb"/><stop offset="0.976" stop-color="#3e26a8"/><stop offset="1.000" stop-color="#3e26a8"/></linearGradient><linearGradient id="p78" gradientUnits="userSpaceOnUse" x1="0" y1="317.8" x2="0" y2="386.9"><stop offset="0.000" stop-color="#fcbc3d"/><stop offset="0.087" stop-color="#fcbc3d"/><stop offset="0.123" stop-color="#f0ba36"/><stop offset="0.166" stop-color="#d8be28"/><stop offset="0.203" stop-color="#bec32e"/><stop offset="0.282" stop-color="#7bcc5d"/><stop offset="0.362" stop-color="#3eca8f"/><stop offset="0.434" stop-color="#1ec0b2"/><stop offset="0.477" stop-color="#02bac4"/><stop offset="0.499" stop-color="#04b6cc"/><stop offset="0.557" stop-color="#1caadf"/><stop offset="0.716" stop-color="#3579fd"/><stop offset="0.781" stop-color="#4561fc"/><stop offset="0.875" stop-color="#4741e5"/><stop offset="0.948" stop-color="#412dbb"/><stop offset="0.977" stop-color="#3e26a8"/><stop offset="1.000" stop-color="#3e26a8"/></linearGradient><linearGradient id="p79" gradientUnits="userSpaceOnUse" x1="0" y1="317.9" x2="0" y2="387.5"><stop offset="0.000" stop-color="#fcbc3d"/><stop offset="0.093" stop-color="#fcbc3d"/><stop offset="0.122" stop-color="#f2ba38"/><stop offset="0.172" stop-color="#d6be28"/><stop offset="0.208" stop-color="#bcc42f"/><stop offset="0.295" stop-color="#73cd63"/><stop offset="0.366" stop-color="#3dc990"/><stop offset="0.438" stop-color="#1dc0b3"/><stop offset="0.481" stop-color="#02bac5"/><stop offset="0.510" stop-color="#07b5d0"/><stop offset="0.560" stop-color="#1ca9df"/><stop offset="0.719" stop-color="#3578fd"/><stop offset="0.783" stop-color="#4661fc"/><stop offset="0.877" stop-color="#4741e5"/><stop offset="0.948" stop-color="#412cbb"/><stop offset="0.977" stop-color="#3e26a8"/><stop offset="1.000" stop-color="#3e26a8"/></linearGradient><linearGradient id="p80" gradientUnits="userSpaceOnUse" x1="0" y1="318.0" x2="0" y2="387.9"><stop offset="0.000" stop-color="#fcbc3d"/><stop offset="0.093" stop-color="#fcbd3d"/><stop offset="0.129" stop-color="#f1ba37"/><stop offset="0.172" stop-color="#d9be28"/><stop offset="0.207" stop-color="#bfc32d"/><stop offset="0.279" stop-color="#83cc57"/><stop offset="0.365" stop-color="#3fca8e"/><stop offset="0.436" stop-color="#20c1b1"/><stop offset="0.479" stop-color="#02bbc3"/><stop offset="0.508" stop-color="#05b6ce"/><stop offset="0.558" stop-color="#1baade"/><stop offset="0.722" stop-color="#3677fe"/><stop offset="0.787" stop-color="#4660fb"/><stop offset="0.880" stop-color="#4740e4"/><stop offset="0.980" stop-color="#3e26a8"/><stop offset="1.000" stop-color="#3e26a8"/></linearGradient><linearGradient id="p81" gradientUnits="userSpaceOnUse" x1="0" y1="318.1" x2="0" y2="388.3"><stop offset="0.000" stop-color="#fcbc3d"/><stop offset="0.093" stop-color="#fdbd3d"/><stop offset="0.121" stop-color="#f5ba3a"/><stop offset="0.171" stop-color="#dabd28"/><stop offset="0.207" stop-color="#c1c32c"/><stop offset="0.271" stop-color="#8ccb50"/><stop offset="0.363" stop-color="#41ca8c"/><stop offset="0.441" stop-color="#1dc0b3"/><stop offset="0.484" stop-color="#02bac4"/><stop offset="0.506" stop-color="#04b6cd"/><stop offset="0.563" stop-color="#1caadf"/><stop offset="0.719" stop-color="#3579fd"/><stop offset="0.783" stop-color="#4561fc"/><stop offset="0.876" stop-color="#4742e6"/><stop offset="0.940" stop-color="#422fc1"/><stop offset="0.976" stop-color="#3e26a8"/><stop offset="1.000" stop-color="#3e26a8"/></linearGradient><linearGradient id="p82" gradientUnits="userSpaceOnUse" x1="0" y1="318.2" x2="0" y2="388.8"><stop offset="0.000" stop-color="#fcbc3d"/><stop offset="0.092" stop-color="#fdbd3d"/><stop offset="0.128" stop-color="#f3ba39"/><stop offset="0.177" stop-color="#d7be28"/><stop offset="0.213" stop-color="#bec32e"/><stop offset="0.291" stop-color="#7ccc5c"/><stop offset="0.369" stop-color="#3eca8f"/><stop offset="0.440" stop-color="#20c1b1"/><stop offset="0.482" stop-color="#02bbc3"/><stop offset="0.510" stop-color="#06b6ce"/><stop offset="0.560" stop-color="#1baade"/><stop offset="0.723" stop-color="#3678fe"/><stop offset="0.787" stop-color="#4660fc"/><stop offset="0.879" stop-color="#4741e4"/><stop offset="0.950" stop-color="#412dbb"/><stop offset="0.978" stop-color="#3e26a8"/><stop offset="1.000" stop-color="#3e26a8"/></linearGradient><linearGradient id="p83" gradientUnits="userSpaceOnUse" x1="0" y1="318.4" x2="0" y2="389.2"><stop offset="0.000" stop-color="#fcbc3d"/><stop offset="0.092" stop-color="#febd3c"/><stop offset="0.127" stop-color="#f4ba39"/><stop offset="0.177" stop-color="#d8be28"/><stop offset="0.212" stop-color="#bfc32d"/><stop offset="0.283" stop-color="#84cc56"/><stop offset="0.367" stop-color="#40ca8d"/><stop offset="0.445" stop-color="#1cc0b3"/><stop offset="0.480" stop-color="#03bbc2"/><stop offset="0.509" stop-color="#05b6cd"/><stop offset="0.565" stop-color="#1ca9df"/><stop offset="0.720" stop-color="#3579fd"/><stop offset="0.784" stop-color="#4561fc"/><stop offset="0.876" stop-color="#4742e6"/><stop offset="0.939" stop-color="#422fc2"/><stop offset="0.975" stop-color="#3e27a9"/><stop offset="1.000" stop-color="#3e26a8"/></linearGradient><linearGradient id="p84" gradientUnits="userSpaceOnUse" x1="0" y1="318.7" x2="0" y2="389.6"><stop offset="0.000" stop-color="#fcbc3d"/><stop offset="0.092" stop-color="#febd3c"/><stop offset="0.127" stop-color="#f3ba39"/><stop offset="0.176" stop-color="#d8be28"/><stop offset="0.212" stop-color="#bfc32d"/><stop offset="0.282" stop-color="#84cc56"/><stop offset="0.367" stop-color="#40ca8d"/><stop offset="0.444" stop-color="#1dc0b3"/><stop offset="0.480" stop-color="#04bbc2"/><stop offset="0.508" stop-color="#04b6cd"/><stop offset="0.564" stop-color="#1ca9df"/><stop offset="0.719" stop-color="#3479fd"/><stop offset="0.783" stop-color="#4562fc"/><stop offset="0.874" stop-color="#4742e6"/><stop offset="0.938" stop-color="#4230c3"/><stop offset="0.980" stop-color="#3e26a8"/><stop offset="1.000" stop-color="#3e26a8"/></linearGradient><linearGradient id="p85" gradientUnits="userSpaceOnUse" x1="0" y1="319.0" x2="0" y2="390.0"><stop offset="0.000" stop-color="#fcbc3d"/><stop offset="0.092" stop-color="#febd3c"/><stop offset="0.127" stop-color="#f3ba39"/><stop offset="0.176" stop-color="#d8be28"/><stop offset="0.211" stop-color="#bfc32d"/><stop offset="0.282" stop-color="#84cc56"/><stop offset="0.366" stop-color="#40ca8d"/><stop offset="0.444" stop-color="#1dc0b3"/><stop offset="0.486" stop-color="#02bac5"/><stop offset="0.514" stop-color="#07b5d0"/><stop offset="0.563" stop-color="#1caadf"/><stop offset="0.718" stop-color="#347afd"/><stop offset="0.781" stop-color="#4562fc"/><stop offset="0.873" stop-color="#4743e7"/><stop offset="0.936" stop-color="#4230c4"/><stop offset="0.979" stop-color="#3e26a8"/><stop offset="1.000" stop-color="#3e26a8"/></linearGradient><linearGradient id="p86" gradientUnits="userSpaceOnUse" x1="0" y1="319.1" x2="0" y2="390.4"><stop offset="0.000" stop-color="#fcbc3d"/><stop offset="0.091" stop-color="#febe3c"/><stop offset="0.126" stop-color="#f4ba3a"/><stop offset="0.175" stop-color="#dabd28"/><stop offset="0.210" stop-color="#c1c32c"/><stop offset="0.273" stop-color="#8dcb50"/><stop offset="0.364" stop-color="#42ca8b"/><stop offset="0.442" stop-color="#1fc0b2"/><stop offset="0.484" stop-color="#02bac3"/><stop offset="0.512" stop-color="#06b6ce"/><stop offset="0.561" stop-color="#1baade"/><stop offset="0.722" stop-color="#3578fd"/><stop offset="0.785" stop-color="#4561fc"/><stop offset="0.876" stop-color="#4742e6"/><stop offset="0.939" stop-color="#422fc2"/><stop offset="0.981" stop-color="#3e26a8"/><stop offset="1.000" stop-color="#3e26a8"/></linearGradient><linearGradient id="p87" gradientUnits="userSpaceOnUse" x1="0" y1="319.2" x2="0" y2="390.9"><stop offset="0.000" stop-color="#fcbd3d"/><stop offset="0.091" stop-color="#febe3c"/><stop offset="0.126" stop-color="#f6ba3b"/><stop offset="0.181" stop-color="#d7be28"/><stop offset="0.216" stop-color="#bec32e"/><stop offset="0.293" stop-color="#7ccc5c"/><stop offset="0.370" stop-color="#3fca8e"/><stop offset="0.447" stop-color="#1cc0b3"/><stop offset="0.482" stop-color="#04bbc2"/><stop offset="0.509" stop-color="#04b6cd"/><stop offset="0.565" stop-color="#1caadf"/><stop offset="0.719" stop-color="#347afd"/><stop offset="0.782" stop-color="#4563fc"/><stop offset="0.872" stop-color="#4743e7"/><stop offset="0.935" stop-color="#4330c5"/><stop offset="0.977" stop-color="#3e26a8"/><stop offset="1.000" stop-color="#3e26a8"/></linearGradient><linearGradient id="p88" gradientUnits="userSpaceOnUse" x1="0" y1="319.3" x2="0" y2="391.3"><stop offset="0.000" stop-color="#fcbd3d"/><stop offset="0.090" stop-color="#febf3c"/><stop offset="0.132" stop-color="#f4ba39"/><stop offset="0.181" stop-color="#d8be28"/><stop offset="0.215" stop-color="#c0c32d"/><stop offset="0.285" stop-color="#85cb55"/><stop offset="0.368" stop-color="#41ca8c"/><stop offset="0.445" stop-color="#1fc0b2"/><stop offset="0.486" stop-color="#02bac4"/><stop offset="0.514" stop-color="#06b5ce"/><stop offset="0.563" stop-color="#1baade"/><stop offset="0.723" stop-color="#3579fd"/><stop offset="0.785" stop-color="#4561fc"/><stop offset="0.875" stop-color="#4742e6"/><stop offset="0.938" stop-color="#4230c3"/><stop offset="0.980" stop-color="#3e26a8"/><stop offset="1.000" stop-color="#3e26a8"/></linearGradient><linearGradient id="p89" gradientUnits="userSpaceOnUse" x1="0" y1="319.4" x2="0" y2="391.7"><stop offset="0.000" stop-color="#fcbd3d"/><stop offset="0.090" stop-color="#febf3b"/><stop offset="0.131" stop-color="#f5ba3a"/><stop offset="0.180" stop-color="#dabd28"/><stop offset="0.214" stop-color="#c2c32c"/><stop offset="0.277" stop-color="#8ecb4f"/><stop offset="0.367" stop-color="#43ca8a"/><stop offset="0.450" stop-color="#1cc0b3"/><stop offset="0.484" stop-color="#03bbc2"/><stop offset="0.512" stop-color="#04b6cd"/><stop offset="0.567" stop-color="#1caadf"/><stop offset="0.726" stop-color="#3677fe"/><stop offset="0.789" stop-color="#4660fc"/><stop offset="0.879" stop-color="#4741e5"/><stop offset="0.948" stop-color="#412dbd"/><stop offset="0.975" stop-color="#3e27a9"/><stop offset="1.000" stop-color="#3e26a8"/></linearGradient><linearGradient id="p90" gradientUnits="userSpaceOnUse" x1="0" y1="319.5" x2="0" y2="392.1"><stop offset="0.000" stop-color="#fcbd3d"/><stop offset="0.090" stop-color="#fec03b"/><stop offset="0.131" stop-color="#f6ba3b"/><stop offset="0.186" stop-color="#d7be28"/><stop offset="0.221" stop-color="#bec32e"/><stop offset="0.296" stop-color="#7dcc5b"/><stop offset="0.372" stop-color="#40ca8d"/><stop offset="0.448" stop-color="#1ec0b2"/><stop offset="0.489" stop-color="#02bac4"/><stop offset="0.517" stop-color="#06b5cf"/><stop offset="0.565" stop-color="#1baade"/><stop offset="0.724" stop-color="#3579fd"/><stop offset="0.786" stop-color="#4562fc"/><stop offset="0.875" stop-color="#4743e7"/><stop offset="0.937" stop-color="#4230c4"/><stop offset="0.979" stop-color="#3e26a8"/><stop offset="1.000" stop-color="#3e26a8"/></linearGradient><linearGradient id="p91" gradientUnits="userSpaceOnUse" x1="0" y1="319.6" x2="0" y2="392.5"><stop offset="0.000" stop-color="#fcbd3d"/><stop offset="0.089" stop-color="#fec03b"/><stop offset="0.130" stop-color="#f7ba3c"/><stop offset="0.185" stop-color="#d8be28"/><stop offset="0.220" stop-color="#c0c32d"/><stop offset="0.288" stop-color="#85cb55"/><stop offset="0.371" stop-color="#42ca8b"/><stop offset="0.453" stop-color="#1bc0b4"/><stop offset="0.487" stop-color="#03bbc3"/><stop offset="0.515" stop-color="#05b6ce"/><stop offset="0.570" stop-color="#1ca9df"/><stop offset="0.728" stop-color="#3677fe"/><stop offset="0.789" stop-color="#4660fc"/><stop offset="0.879" stop-color="#4741e5"/><stop offset="0.947" stop-color="#412ebd"/><stop offset="0.982" stop-color="#3e26a8"/><stop offset="1.000" stop-color="#3e26a8"/></linearGradient><linearGradient id="p92" gradientUnits="userSpaceOnUse" x1="0" y1="319.7" x2="0" y2="392.8"><stop offset="0.000" stop-color="#fdbd3d"/><stop offset="0.089" stop-color="#fec03a"/><stop offset="0.130" stop-color="#f7ba3c"/><stop offset="0.185" stop-color="#dabd28"/><stop offset="0.219" stop-color="#c1c32c"/><stop offset="0.287" stop-color="#87cb54"/><stop offset="0.376" stop-color="#3fca8e"/><stop offset="0.451" stop-color="#1dc0b3"/><stop offset="0.492" stop-color="#02bac4"/><stop offset="0.513" stop-color="#04b6cd"/><stop offset="0.568" stop-color="#1caadf"/><stop offset="0.725" stop-color="#3579fd"/><stop offset="0.786" stop-color="#4562fc"/><stop offset="0.875" stop-color="#4743e7"/><stop offset="0.937" stop-color="#4330c5"/><stop offset="0.978" stop-color="#3e26a8"/><stop offset="1.000" stop-color="#3e26a8"/></linearGradient><linearGradient id="p93" gradientUnits="userSpaceOnUse" x1="0" y1="319.8" x2="0" y2="393.2"><stop offset="0.000" stop-color="#fdbd3d"/><stop offset="0.095" stop-color="#fec03b"/><stop offset="0.136" stop-color="#f5ba3b"/><stop offset="0.191" stop-color="#d6be28"/><stop offset="0.225" stop-color="#bdc32e"/><stop offset="0.307" stop-color="#77cc60"/><stop offset="0.382" stop-color="#3dc991"/><stop offset="0.450" stop-color="#1ec0b2"/><stop offset="0.491" stop-color="#02bac3"/><stop offset="0.518" stop-color="#05b6ce"/><stop offset="0.572" stop-color="#1da9e0"/><stop offset="0.722" stop-color="#347afd"/><stop offset="0.783" stop-color="#4563fc"/><stop offset="0.872" stop-color="#4744e8"/><stop offset="0.933" stop-color="#4331c7"/><stop offset="0.981" stop-color="#3e26a8"/><stop offset="1.000" stop-color="#3e26a8"/></linearGradient><linearGradient id="p94" gradientUnits="userSpaceOnUse" x1="0" y1="319.9" x2="0" y2="393.6"><stop offset="0.000" stop-color="#fdbd3d"/><stop offset="0.095" stop-color="#fec03a"/><stop offset="0.136" stop-color="#f6ba3c"/><stop offset="0.190" stop-color="#d8be28"/><stop offset="0.224" stop-color="#bfc32d"/><stop offset="0.292" stop-color="#86cb55"/><stop offset="0.373" stop-color="#43ca8b"/><stop offset="0.454" stop-color="#1cc0b4"/><stop offset="0.488" stop-color="#04bbc2"/><stop offset="0.516" stop-color="#04b6cd"/><stop offset="0.570" stop-color="#1caadf"/><stop offset="0.726" stop-color="#3579fd"/><stop offset="0.787" stop-color="#4562fc"/><stop offset="0.875" stop-color="#4743e7"/><stop offset="0.936" stop-color="#4331c5"/><stop offset="0.977" stop-color="#3e26a9"/><stop offset="1.000" stop-color="#3e26a8"/></linearGradient><linearGradient id="p95" gradientUnits="userSpaceOnUse" x1="0" y1="319.9" x2="0" y2="394.0"><stop offset="0.000" stop-color="#fdbd3d"/><stop offset="0.094" stop-color="#fec13a"/><stop offset="0.135" stop-color="#f8ba3d"/><stop offset="0.189" stop-color="#dabd28"/><stop offset="0.223" stop-color="#c2c22c"/><stop offset="0.290" stop-color="#89cb52"/><stop offset="0.378" stop-color="#40ca8d"/><stop offset="0.452" stop-color="#1fc0b2"/><stop offset="0.493" stop-color="#02bbc3"/><stop offset="0.520" stop-color="#05b6ce"/><stop offset="0.574" stop-color="#1ca9df"/><stop offset="0.729" stop-color="#3678fe"/><stop offset="0.790" stop-color="#4561fc"/><stop offset="0.877" stop-color="#4742e6"/><stop offset="0.938" stop-color="#4230c4"/><stop offset="0.979" stop-color="#3e26a8"/><stop offset="1.000" stop-color="#3e26a8"/></linearGradient><linearGradient id="p96" gradientUnits="userSpaceOnUse" x1="0" y1="319.9" x2="0" y2="394.4"><stop offset="0.000" stop-color="#febd3c"/><stop offset="0.094" stop-color="#fec239"/><stop offset="0.134" stop-color="#f9bb3d"/><stop offset="0.195" stop-color="#d8be28"/><stop offset="0.228" stop-color="#bfc32d"/><stop offset="0.295" stop-color="#86cb55"/><stop offset="0.376" stop-color="#43ca8a"/><stop offset="0.457" stop-color="#1dc0b3"/><stop offset="0.497" stop-color="#02bac4"/><stop offset="0.524" stop-color="#06b5cf"/><stop offset="0.571" stop-color="#1baade"/><stop offset="0.725" stop-color="#347afd"/><stop offset="0.786" stop-color="#4563fc"/><stop offset="0.873" stop-color="#4744e8"/><stop offset="0.933" stop-color="#4331c8"/><stop offset="0.980" stop-color="#3e26a8"/><stop offset="1.000" stop-color="#3e26a8"/></linearGradient><linearGradient id="p97" gradientUnits="userSpaceOnUse" x1="0" y1="319.9" x2="0" y2="394.8"><stop offset="0.000" stop-color="#febe3c"/><stop offset="0.094" stop-color="#fec339"/><stop offset="0.134" stop-color="#fabb3d"/><stop offset="0.200" stop-color="#d6be28"/><stop offset="0.234" stop-color="#bdc32e"/><stop offset="0.314" stop-color="#77cc60"/><stop offset="0.387" stop-color="#3dc990"/><stop offset="0.454" stop-color="#1fc1b1"/><stop offset="0.494" stop-color="#03bbc3"/><stop offset="0.521" stop-color="#05b6cd"/><stop offset="0.574" stop-color="#1caadf"/><stop offset="0.728" stop-color="#3579fd"/><stop offset="0.788" stop-color="#4562fc"/><stop offset="0.875" stop-color="#4743e7"/><stop offset="0.935" stop-color="#4331c7"/><stop offset="0.982" stop-color="#3e26a8"/><stop offset="1.000" stop-color="#3e26a8"/></linearGradient><linearGradient id="p98" gradientUnits="userSpaceOnUse" x1="0" y1="319.9" x2="0" y2="395.1"><stop offset="0.000" stop-color="#febe3c"/><stop offset="0.093" stop-color="#fec338"/><stop offset="0.140" stop-color="#f9bb3d"/><stop offset="0.199" stop-color="#d8be28"/><stop offset="0.239" stop-color="#bac430"/><stop offset="0.332" stop-color="#68cd6b"/><stop offset="0.392" stop-color="#3cc992"/><stop offset="0.459" stop-color="#1dc0b3"/><stop offset="0.498" stop-color="#02bac4"/><stop offset="0.525" stop-color="#06b5ce"/><stop offset="0.578" stop-color="#1da9e0"/><stop offset="0.731" stop-color="#3678fd"/><stop offset="0.791" stop-color="#4561fc"/><stop offset="0.877" stop-color="#4743e7"/><stop offset="0.937" stop-color="#4330c5"/><stop offset="0.977" stop-color="#3e26a8"/><stop offset="1.000" stop-color="#3e26a8"/></linearGradient><linearGradient id="p99" gradientUnits="userSpaceOnUse" x1="0" y1="319.9" x2="0" y2="395.5"><stop offset="0.000" stop-color="#febe3c"/><stop offset="0.093" stop-color="#fec438"/><stop offset="0.139" stop-color="#fabb3d"/><stop offset="0.205" stop-color="#d6be28"/><stop offset="0.245" stop-color="#b8c431"/><stop offset="0.357" stop-color="#55cc7b"/><stop offset="0.403" stop-color="#37c897"/><stop offset="0.456" stop-color="#20c1b1"/><stop offset="0.496" stop-color="#03bbc2"/><stop offset="0.522" stop-color="#04b6cd"/><stop offset="0.575" stop-color="#1caadf"/><stop offset="0.727" stop-color="#347afd"/><stop offset="0.793" stop-color="#4661fc"/><stop offset="0.879" stop-color="#4742e6"/><stop offset="0.939" stop-color="#4230c4"/><stop offset="0.979" stop-color="#3e26a8"/><stop offset="1.000" stop-color="#3e26a8"/></linearGradient><linearGradient id="p100" gradientUnits="userSpaceOnUse" x1="0" y1="319.9" x2="0" y2="395.9"><stop offset="0.000" stop-color="#febe3c"/><stop offset="0.099" stop-color="#fec438"/><stop offset="0.145" stop-color="#f9bb3d"/><stop offset="0.204" stop-color="#d8be28"/><stop offset="0.243" stop-color="#bac430"/><stop offset="0.336" stop-color="#69cd6b"/><stop offset="0.395" stop-color="#3cc991"/><stop offset="0.461" stop-color="#1ec0b2"/><stop offset="0.500" stop-color="#02bac3"/><stop offset="0.526" stop-color="#05b6ce"/><stop offset="0.579" stop-color="#1ca9df"/><stop offset="0.730" stop-color="#3579fd"/><stop offset="0.789" stop-color="#4562fc"/><stop offset="0.875" stop-color="#4744e8"/><stop offset="0.934" stop-color="#4331c6"/><stop offset="0.974" stop-color="#3e26a8"/><stop offset="1.000" stop-color="#3e26a8"/></linearGradient><linearGradient id="p101" gradientUnits="userSpaceOnUse" x1="0" y1="319.9" x2="0" y2="395.9"><stop offset="0.000" stop-color="#febf3c"/><stop offset="0.099" stop-color="#fec537"/><stop offset="0.145" stop-color="#fabc3d"/><stop offset="0.211" stop-color="#d6be28"/><stop offset="0.250" stop-color="#b9c431"/><stop offset="0.362" stop-color="#57cc7a"/><stop offset="0.408" stop-color="#38c896"/><stop offset="0.461" stop-color="#22c1b0"/><stop offset="0.507" stop-color="#02bac4"/><stop offset="0.533" stop-color="#06b5cf"/><stop offset="0.579" stop-color="#1babde"/><stop offset="0.737" stop-color="#3678fd"/><stop offset="0.796" stop-color="#4562fc"/><stop offset="0.882" stop-color="#4743e7"/><stop offset="0.934" stop-color="#4331c8"/><stop offset="0.974" stop-color="#3e26a8"/><stop offset="1.000" stop-color="#3e26a8"/></linearGradient><linearGradient id="p102" gradientUnits="userSpaceOnUse" x1="0" y1="319.9" x2="0" y2="395.5"><stop offset="0.000" stop-color="#febf3c"/><stop offset="0.099" stop-color="#fec636"/><stop offset="0.152" stop-color="#fabb3d"/><stop offset="0.218" stop-color="#d6be28"/><stop offset="0.258" stop-color="#b8c431"/><stop offset="0.370" stop-color="#56cc7b"/><stop offset="0.417" stop-color="#37c897"/><stop offset="0.469" stop-color="#21c1b0"/><stop offset="0.516" stop-color="#02bac4"/><stop offset="0.542" stop-color="#06b5cf"/><stop offset="0.588" stop-color="#1baade"/><stop offset="0.747" stop-color="#3678fe"/><stop offset="0.807" stop-color="#4561fc"/><stop offset="0.886" stop-color="#4743e8"/><stop offset="0.939" stop-color="#4331c7"/><stop offset="0.979" stop-color="#3e26a8"/><stop offset="1.000" stop-color="#3e26a8"/></linearGradient><linearGradient id="p103" gradientUnits="userSpaceOnUse" x1="0" y1="319.9" x2="0" y2="395.1"><stop offset="0.000" stop-color="#febf3b"/><stop offset="0.106" stop-color="#fec636"/><stop offset="0.160" stop-color="#fabb3d"/><stop offset="0.226" stop-color="#d5be28"/><stop offset="0.266" stop-color="#b7c532"/><stop offset="0.379" stop-color="#55cc7c"/><stop offset="0.425" stop-color="#37c897"/><stop offset="0.479" stop-color="#20c1b1"/><stop offset="0.518" stop-color="#03bbc2"/><stop offset="0.545" stop-color="#04b6cd"/><stop offset="0.598" stop-color="#1baadf"/><stop offset="0.751" stop-color="#347afd"/><stop offset="0.811" stop-color="#4562fc"/><stop offset="0.891" stop-color="#4743e7"/><stop offset="0.944" stop-color="#4330c5"/><stop offset="0.977" stop-color="#3e26a8"/><stop offset="1.000" stop-color="#3e26a8"/></linearGradient><linearGradient id="p104" gradientUnits="userSpaceOnUse" x1="0" y1="319.9" x2="0" y2="394.8"><stop offset="0.000" stop-color="#febf3b"/><stop offset="0.107" stop-color="#fec735"/><stop offset="0.160" stop-color="#fcbc3d"/><stop offset="0.187" stop-color="#f1ba37"/><stop offset="0.227" stop-color="#d9be28"/><stop offset="0.260" stop-color="#c1c32c"/><stop offset="0.327" stop-color="#88cb53"/><stop offset="0.414" stop-color="#41ca8c"/><stop offset="0.487" stop-color="#20c1b1"/><stop offset="0.527" stop-color="#03bbc2"/><stop offset="0.554" stop-color="#04b6cd"/><stop offset="0.608" stop-color="#1caadf"/><stop offset="0.761" stop-color="#3579fd"/><stop offset="0.821" stop-color="#4660fc"/><stop offset="0.895" stop-color="#4742e6"/><stop offset="0.948" stop-color="#422fc2"/><stop offset="0.982" stop-color="#3e26a8"/><stop offset="1.000" stop-color="#3e26a8"/></linearGradient><linearGradient id="p105" gradientUnits="userSpaceOnUse" x1="0" y1="319.8" x2="0" y2="394.4"><stop offset="0.000" stop-color="#fec03a"/><stop offset="0.114" stop-color="#fec835"/><stop offset="0.168" stop-color="#fcbc3d"/><stop offset="0.194" stop-color="#f1ba37"/><stop offset="0.235" stop-color="#d9be28"/><stop offset="0.275" stop-color="#bcc42f"/><stop offset="0.362" stop-color="#70cd65"/><stop offset="0.429" stop-color="#3dc990"/><stop offset="0.496" stop-color="#1fc1b1"/><stop offset="0.536" stop-color="#03bbc3"/><stop offset="0.563" stop-color="#04b6cd"/><stop offset="0.617" stop-color="#1caadf"/><stop offset="0.764" stop-color="#347afd"/><stop offset="0.825" stop-color="#4660fc"/><stop offset="0.899" stop-color="#4741e5"/><stop offset="0.952" stop-color="#422ebe"/><stop offset="0.979" stop-color="#3e26a8"/><stop offset="1.000" stop-color="#3e26a8"/></linearGradient><linearGradient id="p106" gradientUnits="userSpaceOnUse" x1="0" y1="319.7" x2="0" y2="394.0"><stop offset="0.000" stop-color="#fec239"/><stop offset="0.114" stop-color="#feca33"/><stop offset="0.175" stop-color="#fcbd3d"/><stop offset="0.202" stop-color="#f1ba37"/><stop offset="0.242" stop-color="#d9be28"/><stop offset="0.283" stop-color="#bbc42f"/><stop offset="0.370" stop-color="#6fcd65"/><stop offset="0.438" stop-color="#3dc991"/><stop offset="0.505" stop-color="#1fc1b1"/><stop offset="0.545" stop-color="#03bbc3"/><stop offset="0.572" stop-color="#05b6cd"/><stop offset="0.626" stop-color="#1caadf"/><stop offset="0.768" stop-color="#347afd"/><stop offset="0.822" stop-color="#4562fc"/><stop offset="0.896" stop-color="#4742e7"/><stop offset="0.943" stop-color="#4331c7"/><stop offset="0.976" stop-color="#3e27a9"/><stop offset="1.000" stop-color="#3e26a8"/></linearGradient><linearGradient id="p107" gradientUnits="userSpaceOnUse" x1="0" y1="319.7" x2="0" y2="393.6"><stop offset="0.000" stop-color="#fec338"/><stop offset="0.115" stop-color="#fdcc32"/><stop offset="0.183" stop-color="#fcbd3d"/><stop offset="0.210" stop-color="#f1ba37"/><stop offset="0.250" stop-color="#d9be28"/><stop offset="0.284" stop-color="#c0c32d"/><stop offset="0.352" stop-color="#88cb53"/><stop offset="0.440" stop-color="#40ca8d"/><stop offset="0.514" stop-color="#1fc0b2"/><stop offset="0.555" stop-color="#02bbc3"/><stop offset="0.582" stop-color="#05b6ce"/><stop offset="0.636" stop-color="#1ca9e0"/><stop offset="0.771" stop-color="#3479fd"/><stop offset="0.825" stop-color="#4661fc"/><stop offset="0.900" stop-color="#4741e5"/><stop offset="0.954" stop-color="#412dbd"/><stop offset="0.981" stop-color="#3e26a8"/><stop offset="1.000" stop-color="#3e26a8"/></linearGradient><linearGradient id="p108" gradientUnits="userSpaceOnUse" x1="0" y1="319.6" x2="0" y2="393.2"><stop offset="0.000" stop-color="#fec537"/><stop offset="0.115" stop-color="#fdce31"/><stop offset="0.190" stop-color="#fcbd3d"/><stop offset="0.217" stop-color="#f1ba36"/><stop offset="0.258" stop-color="#d8be28"/><stop offset="0.292" stop-color="#c0c32d"/><stop offset="0.360" stop-color="#87cb54"/><stop offset="0.448" stop-color="#40ca8d"/><stop offset="0.523" stop-color="#1fc0b2"/><stop offset="0.564" stop-color="#02bac3"/><stop offset="0.591" stop-color="#06b5ce"/><stop offset="0.639" stop-color="#1caadf"/><stop offset="0.774" stop-color="#3678fd"/><stop offset="0.829" stop-color="#465ffb"/><stop offset="0.897" stop-color="#4742e6"/><stop offset="0.944" stop-color="#4330c5"/><stop offset="0.978" stop-color="#3e26a8"/><stop offset="1.000" stop-color="#3e26a8"/></linearGradient><linearGradient id="p109" gradientUnits="userSpaceOnUse" x1="0" y1="319.5" x2="0" y2="392.8"><stop offset="0.000" stop-color="#fec735"/><stop offset="0.116" stop-color="#fcd130"/><stop offset="0.198" stop-color="#fcbd3d"/><stop offset="0.225" stop-color="#f0ba36"/><stop offset="0.266" stop-color="#d8be28"/><stop offset="0.300" stop-color="#c0c32d"/><stop offset="0.368" stop-color="#87cb54"/><stop offset="0.457" stop-color="#40ca8d"/><stop offset="0.532" stop-color="#1ec0b2"/><stop offset="0.573" stop-color="#02bac4"/><stop offset="0.594" stop-color="#04b6cd"/><stop offset="0.641" stop-color="#1baade"/><stop offset="0.771" stop-color="#3479fd"/><stop offset="0.826" stop-color="#4660fc"/><stop offset="0.894" stop-color="#4743e7"/><stop offset="0.942" stop-color="#4331c7"/><stop offset="0.976" stop-color="#3e27aa"/><stop offset="1.000" stop-color="#3e26a8"/></linearGradient><linearGradient id="p110" gradientUnits="userSpaceOnUse" x1="0" y1="319.5" x2="0" y2="392.5"><stop offset="0.000" stop-color="#fec934"/><stop offset="0.116" stop-color="#fbd32f"/><stop offset="0.206" stop-color="#fcbd3d"/><stop offset="0.233" stop-color="#f0ba36"/><stop offset="0.274" stop-color="#d8be28"/><stop offset="0.315" stop-color="#bbc430"/><stop offset="0.404" stop-color="#6fcd66"/><stop offset="0.473" stop-color="#3cc992"/><stop offset="0.534" stop-color="#21c1b0"/><stop offset="0.576" stop-color="#02bac3"/><stop offset="0.596" stop-color="#04b6cd"/><stop offset="0.644" stop-color="#1caadf"/><stop offset="0.774" stop-color="#3678fe"/><stop offset="0.822" stop-color="#4562fc"/><stop offset="0.898" stop-color="#4741e5"/><stop offset="0.952" stop-color="#412ebe"/><stop offset="0.980" stop-color="#3e26a8"/><stop offset="1.000" stop-color="#3e26a8"/></linearGradient><linearGradient id="p111" gradientUnits="userSpaceOnUse" x1="0" y1="319.4" x2="0" y2="392.1"><stop offset="0.000" stop-color="#fdca33"/><stop offset="0.117" stop-color="#fad52e"/><stop offset="0.200" stop-color="#fec13a"/><stop offset="0.227" stop-color="#f7ba3c"/><stop offset="0.275" stop-color="#dcbd29"/><stop offset="0.310" stop-color="#c5c22a"/><stop offset="0.372" stop-color="#93ca4b"/><stop offset="0.468" stop-color="#43ca8b"/><stop offset="0.544" stop-color="#1dc0b3"/><stop offset="0.578" stop-color="#02bac3"/><stop offset="0.599" stop-color="#04b6cd"/><stop offset="0.647" stop-color="#1da9e0"/><stop offset="0.771" stop-color="#3479fd"/><stop offset="0.819" stop-color="#4563fd"/><stop offset="0.895" stop-color="#4743e7"/><stop offset="0.943" stop-color="#4331c6"/><stop offset="0.977" stop-color="#3e26a8"/><stop offset="1.000" stop-color="#3e26a8"/></linearGradient><linearGradient id="p112" gradientUnits="userSpaceOnUse" x1="0" y1="319.4" x2="0" y2="391.7"><stop offset="0.000" stop-color="#fdcc32"/><stop offset="0.124" stop-color="#f9d62d"/><stop offset="0.221" stop-color="#fcbd3d"/><stop offset="0.249" stop-color="#f0ba36"/><stop offset="0.290" stop-color="#d8be28"/><stop offset="0.332" stop-color="#bac430"/><stop offset="0.422" stop-color="#6dcd68"/><stop offset="0.491" stop-color="#39c895"/><stop offset="0.539" stop-color="#23c1af"/><stop offset="0.581" stop-color="#02bac4"/><stop offset="0.601" stop-color="#05b6ce"/><stop offset="0.643" stop-color="#1baade"/><stop offset="0.774" stop-color="#3677fe"/><stop offset="0.823" stop-color="#4561fc"/><stop offset="0.892" stop-color="#4744e8"/><stop offset="0.940" stop-color="#4331c8"/><stop offset="0.975" stop-color="#3e27aa"/><stop offset="1.000" stop-color="#3e26a8"/></linearGradient><linearGradient id="p113" gradientUnits="userSpaceOnUse" x1="0" y1="319.3" x2="0" y2="391.3"><stop offset="0.000" stop-color="#fccf30"/><stop offset="0.118" stop-color="#f8da2b"/><stop offset="0.194" stop-color="#fec735"/><stop offset="0.236" stop-color="#fabb3d"/><stop offset="0.299" stop-color="#d8be28"/><stop offset="0.333" stop-color="#bfc32d"/><stop offset="0.403" stop-color="#84cb56"/><stop offset="0.486" stop-color="#3dc990"/><stop offset="0.542" stop-color="#22c1b0"/><stop offset="0.576" stop-color="#04bbc2"/><stop offset="0.597" stop-color="#03b7cc"/><stop offset="0.646" stop-color="#1ca9df"/><stop offset="0.771" stop-color="#3579fd"/><stop offset="0.819" stop-color="#4563fc"/><stop offset="0.896" stop-color="#4742e6"/><stop offset="0.944" stop-color="#4330c4"/><stop offset="0.979" stop-color="#3e26a8"/><stop offset="1.000" stop-color="#3e26a8"/></linearGradient><linearGradient id="p114" gradientUnits="userSpaceOnUse" x1="0" y1="319.2" x2="0" y2="390.9"><stop offset="0.000" stop-color="#fbd32e"/><stop offset="0.119" stop-color="#f6dd29"/><stop offset="0.202" stop-color="#fec835"/><stop offset="0.244" stop-color="#fabb3d"/><stop offset="0.307" stop-color="#d7be28"/><stop offset="0.342" stop-color="#bec32e"/><stop offset="0.405" stop-color="#88cb53"/><stop offset="0.488" stop-color="#3dc991"/><stop offset="0.544" stop-color="#1fc1b1"/><stop offset="0.579" stop-color="#02bac3"/><stop offset="0.600" stop-color="#05b6cd"/><stop offset="0.642" stop-color="#1baade"/><stop offset="0.774" stop-color="#3777fe"/><stop offset="0.823" stop-color="#4561fc"/><stop offset="0.893" stop-color="#4743e7"/><stop offset="0.942" stop-color="#4331c7"/><stop offset="0.976" stop-color="#3e26a8"/><stop offset="1.000" stop-color="#3e26a8"/></linearGradient><linearGradient id="p115" gradientUnits="userSpaceOnUse" x1="0" y1="319.2" x2="0" y2="390.5"><stop offset="0.000" stop-color="#f9d82c"/><stop offset="0.119" stop-color="#f6e128"/><stop offset="0.210" stop-color="#fec735"/><stop offset="0.252" stop-color="#f9bb3d"/><stop offset="0.315" stop-color="#d6be28"/><stop offset="0.350" stop-color="#bcc42f"/><stop offset="0.414" stop-color="#82cc58"/><stop offset="0.484" stop-color="#40ca8d"/><stop offset="0.547" stop-color="#1dc0b3"/><stop offset="0.575" stop-color="#04bbc2"/><stop offset="0.596" stop-color="#03b7cc"/><stop offset="0.645" stop-color="#1ca9e0"/><stop offset="0.771" stop-color="#3578fd"/><stop offset="0.820" stop-color="#4562fc"/><stop offset="0.890" stop-color="#4744e8"/><stop offset="0.939" stop-color="#4332c9"/><stop offset="0.974" stop-color="#3e27aa"/><stop offset="1.000" stop-color="#3e26a8"/></linearGradient><linearGradient id="p116" gradientUnits="userSpaceOnUse" x1="0" y1="319.2" x2="0" y2="390.2"><stop offset="0.000" stop-color="#f7dc2a"/><stop offset="0.113" stop-color="#f5e526"/><stop offset="0.190" stop-color="#fcd12f"/><stop offset="0.254" stop-color="#fbbc3d"/><stop offset="0.317" stop-color="#d8be28"/><stop offset="0.352" stop-color="#bdc32e"/><stop offset="0.409" stop-color="#88cb53"/><stop offset="0.479" stop-color="#43ca8b"/><stop offset="0.543" stop-color="#1fc1b1"/><stop offset="0.578" stop-color="#02bac4"/><stop offset="0.599" stop-color="#05b6ce"/><stop offset="0.641" stop-color="#1caadf"/><stop offset="0.768" stop-color="#3479fd"/><stop offset="0.817" stop-color="#4563fc"/><stop offset="0.888" stop-color="#4745e9"/><stop offset="0.937" stop-color="#4332ca"/><stop offset="0.979" stop-color="#3e26a8"/><stop offset="1.000" stop-color="#3e26a8"/></linearGradient><linearGradient id="p117" gradientUnits="userSpaceOnUse" x1="0" y1="319.2" x2="0" y2="389.8"><stop offset="0.000" stop-color="#f6e028"/><stop offset="0.113" stop-color="#f5e825"/><stop offset="0.198" stop-color="#fcd130"/><stop offset="0.255" stop-color="#fdbd3d"/><stop offset="0.276" stop-color="#f4ba39"/><stop offset="0.319" stop-color="#dabd28"/><stop offset="0.347" stop-color="#c4c22b"/><stop offset="0.397" stop-color="#94ca4a"/><stop offset="0.475" stop-color="#45cb88"/><stop offset="0.546" stop-color="#1cc0b4"/><stop offset="0.574" stop-color="#03bbc2"/><stop offset="0.595" stop-color="#04b6cd"/><stop offset="0.638" stop-color="#1babde"/><stop offset="0.772" stop-color="#3777fe"/><stop offset="0.822" stop-color="#4661fc"/><stop offset="0.893" stop-color="#4743e7"/><stop offset="0.942" stop-color="#4331c6"/><stop offset="0.978" stop-color="#3e26a8"/><stop offset="1.000" stop-color="#3e26a8"/></linearGradient><linearGradient id="p118" gradientUnits="userSpaceOnUse" x1="0" y1="319.2" x2="0" y2="389.4"><stop offset="0.000" stop-color="#f5e426"/><stop offset="0.107" stop-color="#f5ec22"/><stop offset="0.185" stop-color="#f9d82c"/><stop offset="0.256" stop-color="#febe3c"/><stop offset="0.278" stop-color="#f5ba3a"/><stop offset="0.321" stop-color="#dabd28"/><stop offset="0.349" stop-color="#c2c22c"/><stop offset="0.406" stop-color="#89cb52"/><stop offset="0.477" stop-color="#42ca8b"/><stop offset="0.541" stop-color="#1ec0b2"/><stop offset="0.577" stop-color="#02bac4"/><stop offset="0.598" stop-color="#06b5cf"/><stop offset="0.641" stop-color="#1ca9df"/><stop offset="0.769" stop-color="#3578fd"/><stop offset="0.819" stop-color="#4562fc"/><stop offset="0.890" stop-color="#4743e8"/><stop offset="0.940" stop-color="#4331c7"/><stop offset="0.976" stop-color="#3e26a8"/><stop offset="1.000" stop-color="#3e26a8"/></linearGradient><linearGradient id="p119" gradientUnits="userSpaceOnUse" x1="0" y1="319.2" x2="0" y2="389.0"><stop offset="0.000" stop-color="#f5e825"/><stop offset="0.107" stop-color="#f6ef20"/><stop offset="0.186" stop-color="#f8da2b"/><stop offset="0.258" stop-color="#febe3c"/><stop offset="0.279" stop-color="#f5ba3b"/><stop offset="0.322" stop-color="#d8be28"/><stop offset="0.351" stop-color="#c0c32d"/><stop offset="0.408" stop-color="#85cb55"/><stop offset="0.480" stop-color="#3fca8e"/><stop offset="0.537" stop-color="#21c1b0"/><stop offset="0.573" stop-color="#02bbc3"/><stop offset="0.594" stop-color="#05b6cd"/><stop offset="0.637" stop-color="#1baade"/><stop offset="0.766" stop-color="#3479fd"/><stop offset="0.817" stop-color="#4563fc"/><stop offset="0.888" stop-color="#4744e8"/><stop offset="0.938" stop-color="#4332c8"/><stop offset="0.974" stop-color="#3e27aa"/><stop offset="1.000" stop-color="#3e26a8"/></linearGradient><linearGradient id="p120" gradientUnits="userSpaceOnUse" x1="0" y1="319.2" x2="0" y2="388.6"><stop offset="0.000" stop-color="#f5eb23"/><stop offset="0.108" stop-color="#f6f11e"/><stop offset="0.187" stop-color="#f7db2b"/><stop offset="0.259" stop-color="#febe3c"/><stop offset="0.281" stop-color="#f4ba3a"/><stop offset="0.317" stop-color="#dbbd29"/><stop offset="0.346" stop-color="#c3c22b"/><stop offset="0.396" stop-color="#91ca4d"/><stop offset="0.468" stop-color="#47cb87"/><stop offset="0.540" stop-color="#1dc0b3"/><stop offset="0.569" stop-color="#04bbc2"/><stop offset="0.591" stop-color="#03b7cc"/><stop offset="0.634" stop-color="#1babde"/><stop offset="0.771" stop-color="#3777fe"/><stop offset="0.821" stop-color="#4660fc"/><stop offset="0.893" stop-color="#4742e6"/><stop offset="0.943" stop-color="#4230c4"/><stop offset="0.979" stop-color="#3e26a8"/><stop offset="1.000" stop-color="#3e26a8"/></linearGradient><linearGradient id="p121" gradientUnits="userSpaceOnUse" x1="0" y1="319.2" x2="0" y2="388.2"><stop offset="0.000" stop-color="#f5ed22"/><stop offset="0.109" stop-color="#f7f31d"/><stop offset="0.181" stop-color="#f6de29"/><stop offset="0.253" stop-color="#fec03b"/><stop offset="0.275" stop-color="#f7ba3c"/><stop offset="0.319" stop-color="#d8be28"/><stop offset="0.348" stop-color="#bfc32d"/><stop offset="0.406" stop-color="#84cc56"/><stop offset="0.471" stop-color="#44ca8a"/><stop offset="0.536" stop-color="#1fc0b1"/><stop offset="0.572" stop-color="#02bac4"/><stop offset="0.594" stop-color="#06b5ce"/><stop offset="0.637" stop-color="#1ca9df"/><stop offset="0.768" stop-color="#3678fd"/><stop offset="0.818" stop-color="#4561fc"/><stop offset="0.891" stop-color="#4743e7"/><stop offset="0.941" stop-color="#4330c5"/><stop offset="0.978" stop-color="#3e26a8"/><stop offset="1.000" stop-color="#3e26a8"/></linearGradient><linearGradient id="p122" gradientUnits="userSpaceOnUse" x1="0" y1="319.2" x2="0" y2="387.9"><stop offset="0.000" stop-color="#f5ee21"/><stop offset="0.109" stop-color="#f7f41c"/><stop offset="0.182" stop-color="#f6de29"/><stop offset="0.255" stop-color="#febe3c"/><stop offset="0.277" stop-color="#f4ba3a"/><stop offset="0.313" stop-color="#dbbd29"/><stop offset="0.342" stop-color="#c2c22c"/><stop offset="0.401" stop-color="#87cb54"/><stop offset="0.473" stop-color="#40ca8d"/><stop offset="0.532" stop-color="#21c1b0"/><stop offset="0.568" stop-color="#02bbc3"/><stop offset="0.590" stop-color="#04b6cd"/><stop offset="0.634" stop-color="#1baade"/><stop offset="0.765" stop-color="#3579fd"/><stop offset="0.816" stop-color="#4562fc"/><stop offset="0.888" stop-color="#4744e8"/><stop offset="0.939" stop-color="#4331c7"/><stop offset="0.976" stop-color="#3e26a8"/><stop offset="1.000" stop-color="#3e26a8"/></linearGradient><linearGradient id="p123" gradientUnits="userSpaceOnUse" x1="0" y1="319.2" x2="0" y2="387.5"><stop offset="0.000" stop-color="#f6ef20"/><stop offset="0.103" stop-color="#f7f61a"/><stop offset="0.168" stop-color="#f5e327"/><stop offset="0.249" stop-color="#fec03b"/><stop offset="0.271" stop-color="#f6ba3b"/><stop offset="0.315" stop-color="#d7be28"/><stop offset="0.344" stop-color="#bec32e"/><stop offset="0.410" stop-color="#7acc5d"/><stop offset="0.476" stop-color="#3dc990"/><stop offset="0.535" stop-color="#1dc0b3"/><stop offset="0.564" stop-color="#04bbc2"/><stop offset="0.586" stop-color="#03b7cc"/><stop offset="0.630" stop-color="#1babde"/><stop offset="0.762" stop-color="#347afd"/><stop offset="0.813" stop-color="#4563fc"/><stop offset="0.886" stop-color="#4744e9"/><stop offset="0.937" stop-color="#4332c8"/><stop offset="0.974" stop-color="#3e27a9"/><stop offset="1.000" stop-color="#3e26a8"/></linearGradient><linearGradient id="p124" gradientUnits="userSpaceOnUse" x1="0" y1="319.2" x2="0" y2="387.1"><stop offset="0.000" stop-color="#f6f11f"/><stop offset="0.103" stop-color="#f8f719"/><stop offset="0.169" stop-color="#f5e227"/><stop offset="0.250" stop-color="#febe3c"/><stop offset="0.272" stop-color="#f4ba39"/><stop offset="0.309" stop-color="#dabd28"/><stop offset="0.339" stop-color="#c1c32c"/><stop offset="0.390" stop-color="#8dcb4f"/><stop offset="0.464" stop-color="#44cb8a"/><stop offset="0.530" stop-color="#1fc1b1"/><stop offset="0.567" stop-color="#02bac4"/><stop offset="0.589" stop-color="#06b5ce"/><stop offset="0.633" stop-color="#1ca9df"/><stop offset="0.766" stop-color="#3677fe"/><stop offset="0.817" stop-color="#4661fc"/><stop offset="0.891" stop-color="#4742e6"/><stop offset="0.943" stop-color="#4230c4"/><stop offset="0.979" stop-color="#3e26a8"/><stop offset="1.000" stop-color="#3e26a8"/></linearGradient><linearGradient id="p125" gradientUnits="userSpaceOnUse" x1="0" y1="319.2" x2="0" y2="386.7"><stop offset="0.000" stop-color="#f6f21e"/><stop offset="0.096" stop-color="#f8f818"/><stop offset="0.163" stop-color="#f5e427"/><stop offset="0.244" stop-color="#febf3b"/><stop offset="0.267" stop-color="#f6ba3b"/><stop offset="0.304" stop-color="#dcbd29"/><stop offset="0.333" stop-color="#c3c22b"/><stop offset="0.385" stop-color="#90ca4d"/><stop offset="0.459" stop-color="#46cb88"/><stop offset="0.533" stop-color="#1bc0b4"/><stop offset="0.563" stop-color="#02bbc3"/><stop offset="0.585" stop-color="#05b6cd"/><stop offset="0.630" stop-color="#1baadf"/><stop offset="0.763" stop-color="#3578fd"/><stop offset="0.815" stop-color="#4562fc"/><stop offset="0.889" stop-color="#4743e7"/><stop offset="0.941" stop-color="#4330c5"/><stop offset="0.978" stop-color="#3e26a8"/><stop offset="1.000" stop-color="#3e26a8"/></linearGradient><linearGradient id="p126" gradientUnits="userSpaceOnUse" x1="0" y1="319.2" x2="0" y2="386.3"><stop offset="0.000" stop-color="#f7f31c"/><stop offset="0.097" stop-color="#f8f818"/><stop offset="0.171" stop-color="#f6df29"/><stop offset="0.246" stop-color="#febe3c"/><stop offset="0.268" stop-color="#f3ba38"/><stop offset="0.305" stop-color="#d9be28"/><stop offset="0.335" stop-color="#bfc32d"/><stop offset="0.395" stop-color="#83cc57"/><stop offset="0.462" stop-color="#42ca8b"/><stop offset="0.529" stop-color="#1dc0b2"/><stop offset="0.559" stop-color="#04bbc2"/><stop offset="0.581" stop-color="#03b7cc"/><stop offset="0.626" stop-color="#1babde"/><stop offset="0.760" stop-color="#3479fd"/><stop offset="0.812" stop-color="#4562fc"/><stop offset="0.886" stop-color="#4744e8"/><stop offset="0.938" stop-color="#4331c7"/><stop offset="0.976" stop-color="#3e26a8"/><stop offset="1.000" stop-color="#3e26a8"/></linearGradient><linearGradient id="p127" gradientUnits="userSpaceOnUse" x1="0" y1="319.3" x2="0" y2="385.9"><stop offset="0.000" stop-color="#f7f51b"/><stop offset="0.090" stop-color="#f8f917"/><stop offset="0.165" stop-color="#f6df29"/><stop offset="0.240" stop-color="#febe3c"/><stop offset="0.263" stop-color="#f4ba39"/><stop offset="0.300" stop-color="#dabd28"/><stop offset="0.330" stop-color="#c0c32d"/><stop offset="0.390" stop-color="#84cb56"/><stop offset="0.458" stop-color="#43ca8a"/><stop offset="0.525" stop-color="#1ec0b2"/><stop offset="0.555" stop-color="#05bbc1"/><stop offset="0.578" stop-color="#03b7cc"/><stop offset="0.623" stop-color="#1babde"/><stop offset="0.758" stop-color="#347afd"/><stop offset="0.811" stop-color="#4562fc"/><stop offset="0.886" stop-color="#4744e8"/><stop offset="0.938" stop-color="#4331c7"/><stop offset="0.976" stop-color="#3e26a8"/><stop offset="1.000" stop-color="#3e26a8"/></linearGradient><linearGradient id="p128" gradientUnits="userSpaceOnUse" x1="0" y1="319.5" x2="0" y2="385.6"><stop offset="0.000" stop-color="#f7f61a"/><stop offset="0.083" stop-color="#f8f917"/><stop offset="0.159" stop-color="#f6e028"/><stop offset="0.235" stop-color="#febe3c"/><stop offset="0.257" stop-color="#f4ba39"/><stop offset="0.295" stop-color="#dabd28"/><stop offset="0.326" stop-color="#c0c32d"/><stop offset="0.386" stop-color="#84cc56"/><stop offset="0.454" stop-color="#43ca8b"/><stop offset="0.522" stop-color="#1ec0b2"/><stop offset="0.553" stop-color="#04bbc1"/><stop offset="0.575" stop-color="#03b7cc"/><stop offset="0.621" stop-color="#1babde"/><stop offset="0.757" stop-color="#3579fd"/><stop offset="0.810" stop-color="#4562fc"/><stop offset="0.886" stop-color="#4743e7"/><stop offset="0.939" stop-color="#4331c6"/><stop offset="0.977" stop-color="#3e26a8"/><stop offset="1.000" stop-color="#3e26a8"/></linearGradient><linearGradient id="p129" gradientUnits="userSpaceOnUse" x1="0" y1="319.7" x2="0" y2="385.2"><stop offset="0.000" stop-color="#f8f719"/><stop offset="0.076" stop-color="#f9f916"/><stop offset="0.153" stop-color="#f6e028"/><stop offset="0.229" stop-color="#febe3c"/><stop offset="0.252" stop-color="#f4ba39"/><stop offset="0.290" stop-color="#dabd28"/><stop offset="0.321" stop-color="#c0c32d"/><stop offset="0.382" stop-color="#84cc56"/><stop offset="0.451" stop-color="#43ca8b"/><stop offset="0.519" stop-color="#1dc0b3"/><stop offset="0.550" stop-color="#04bbc2"/><stop offset="0.573" stop-color="#03b6cc"/><stop offset="0.619" stop-color="#1babde"/><stop offset="0.756" stop-color="#3579fd"/><stop offset="0.810" stop-color="#4562fc"/><stop offset="0.886" stop-color="#4743e7"/><stop offset="0.940" stop-color="#4330c5"/><stop offset="0.978" stop-color="#3e26a8"/><stop offset="1.000" stop-color="#3e26a8"/></linearGradient><linearGradient id="p130" gradientUnits="userSpaceOnUse" x1="0" y1="319.9" x2="0" y2="384.8"><stop offset="0.000" stop-color="#f8f818"/><stop offset="0.069" stop-color="#f9f916"/><stop offset="0.146" stop-color="#f6e028"/><stop offset="0.224" stop-color="#febe3c"/><stop offset="0.247" stop-color="#f4ba39"/><stop offset="0.285" stop-color="#dabd28"/><stop offset="0.316" stop-color="#c0c32d"/><stop offset="0.378" stop-color="#84cc56"/><stop offset="0.447" stop-color="#42ca8b"/><stop offset="0.516" stop-color="#1dc0b3"/><stop offset="0.547" stop-color="#04bbc2"/><stop offset="0.570" stop-color="#04b6cd"/><stop offset="0.617" stop-color="#1baade"/><stop offset="0.755" stop-color="#3578fd"/><stop offset="0.809" stop-color="#4561fc"/><stop offset="0.886" stop-color="#4742e6"/><stop offset="0.940" stop-color="#4230c4"/><stop offset="0.971" stop-color="#3e27ab"/><stop offset="1.000" stop-color="#3e26a8"/></linearGradient><linearGradient id="p131" gradientUnits="userSpaceOnUse" x1="0" y1="320.1" x2="0" y2="384.4"><stop offset="0.000" stop-color="#f8f719"/><stop offset="0.070" stop-color="#f8f818"/><stop offset="0.148" stop-color="#f7dd2a"/><stop offset="0.218" stop-color="#febe3c"/><stop offset="0.241" stop-color="#f4ba39"/><stop offset="0.280" stop-color="#dabd28"/><stop offset="0.311" stop-color="#c0c32d"/><stop offset="0.373" stop-color="#84cc56"/><stop offset="0.443" stop-color="#42ca8b"/><stop offset="0.513" stop-color="#1dc0b3"/><stop offset="0.544" stop-color="#03bbc2"/><stop offset="0.568" stop-color="#04b6cd"/><stop offset="0.614" stop-color="#1baade"/><stop offset="0.754" stop-color="#3678fd"/><stop offset="0.809" stop-color="#4561fc"/><stop offset="0.887" stop-color="#4742e6"/><stop offset="0.941" stop-color="#4230c3"/><stop offset="0.972" stop-color="#3e27aa"/><stop offset="1.000" stop-color="#3e26a8"/></linearGradient><linearGradient id="p132" gradientUnits="userSpaceOnUse" x1="0" y1="320.3" x2="0" y2="384.0"><stop offset="0.000" stop-color="#f8f719"/><stop offset="0.071" stop-color="#f7f61a"/><stop offset="0.149" stop-color="#f8d92b"/><stop offset="0.212" stop-color="#febe3c"/><stop offset="0.235" stop-color="#f4ba39"/><stop offset="0.275" stop-color="#dabd28"/><stop offset="0.306" stop-color="#c0c32d"/><stop offset="0.369" stop-color="#83cc57"/><stop offset="0.440" stop-color="#42ca8b"/><stop offset="0.510" stop-color="#1cc0b3"/><stop offset="0.542" stop-color="#03bbc2"/><stop offset="0.565" stop-color="#04b6cd"/><stop offset="0.612" stop-color="#1caadf"/><stop offset="0.754" stop-color="#3678fe"/><stop offset="0.808" stop-color="#4660fc"/><stop offset="0.887" stop-color="#4741e5"/><stop offset="0.942" stop-color="#422fc2"/><stop offset="0.973" stop-color="#3e26a9"/><stop offset="1.000" stop-color="#3e26a8"/></linearGradient><linearGradient id="p133" gradientUnits="userSpaceOnUse" x1="0" y1="320.5" x2="0" y2="383.6"><stop offset="0.000" stop-color="#f8f61a"/><stop offset="0.063" stop-color="#f7f51b"/><stop offset="0.143" stop-color="#f8d92b"/><stop offset="0.206" stop-color="#febe3c"/><stop offset="0.230" stop-color="#f4ba39"/><stop offset="0.269" stop-color="#dabd28"/><stop offset="0.301" stop-color="#c0c32d"/><stop offset="0.364" stop-color="#83cc57"/><stop offset="0.436" stop-color="#42ca8c"/><stop offset="0.507" stop-color="#1cc0b3"/><stop offset="0.539" stop-color="#03bbc3"/><stop offset="0.562" stop-color="#05b6cd"/><stop offset="0.610" stop-color="#1caadf"/><stop offset="0.753" stop-color="#3677fe"/><stop offset="0.808" stop-color="#4660fc"/><stop offset="0.887" stop-color="#4741e5"/><stop offset="0.951" stop-color="#412cbb"/><stop offset="0.974" stop-color="#3e26a8"/><stop offset="1.000" stop-color="#3e26a8"/></linearGradient><linearGradient id="p134" gradientUnits="userSpaceOnUse" x1="0" y1="320.7" x2="0" y2="383.3"><stop offset="0.000" stop-color="#f7f61a"/><stop offset="0.064" stop-color="#f7f31d"/><stop offset="0.136" stop-color="#f8d92b"/><stop offset="0.200" stop-color="#febf3c"/><stop offset="0.224" stop-color="#f4ba39"/><stop offset="0.264" stop-color="#dabd28"/><stop offset="0.296" stop-color="#c0c32d"/><stop offset="0.360" stop-color="#83cc57"/><stop offset="0.432" stop-color="#41ca8c"/><stop offset="0.504" stop-color="#1cc0b4"/><stop offset="0.536" stop-color="#02bbc3"/><stop offset="0.560" stop-color="#05b6ce"/><stop offset="0.608" stop-color="#1caadf"/><stop offset="0.744" stop-color="#337afd"/><stop offset="0.800" stop-color="#4563fc"/><stop offset="0.880" stop-color="#4744e8"/><stop offset="0.936" stop-color="#4331c6"/><stop offset="0.976" stop-color="#3e26a8"/><stop offset="1.000" stop-color="#3e26a8"/></linearGradient><linearGradient id="p135" gradientUnits="userSpaceOnUse" x1="0" y1="320.9" x2="0" y2="382.9"><stop offset="0.000" stop-color="#f7f51b"/><stop offset="0.065" stop-color="#f6f11e"/><stop offset="0.137" stop-color="#fad62d"/><stop offset="0.194" stop-color="#febf3c"/><stop offset="0.218" stop-color="#f4ba39"/><stop offset="0.258" stop-color="#dabd28"/><stop offset="0.291" stop-color="#c0c32d"/><stop offset="0.355" stop-color="#83cc57"/><stop offset="0.428" stop-color="#41ca8c"/><stop offset="0.500" stop-color="#1bc0b4"/><stop offset="0.533" stop-color="#02bbc3"/><stop offset="0.557" stop-color="#05b6ce"/><stop offset="0.605" stop-color="#1caadf"/><stop offset="0.743" stop-color="#347afd"/><stop offset="0.799" stop-color="#4562fc"/><stop offset="0.880" stop-color="#4743e7"/><stop offset="0.936" stop-color="#4330c5"/><stop offset="0.977" stop-color="#3e26a8"/><stop offset="1.000" stop-color="#3e26a8"/></linearGradient><linearGradient id="p136" gradientUnits="userSpaceOnUse" x1="0" y1="321.1" x2="0" y2="382.5"><stop offset="0.000" stop-color="#f7f51b"/><stop offset="0.065" stop-color="#f5ee21"/><stop offset="0.187" stop-color="#febe3c"/><stop offset="0.212" stop-color="#f3ba39"/><stop offset="0.253" stop-color="#d9be28"/><stop offset="0.285" stop-color="#bfc32d"/><stop offset="0.350" stop-color="#82cc58"/><stop offset="0.424" stop-color="#40ca8d"/><stop offset="0.489" stop-color="#20c1b1"/><stop offset="0.530" stop-color="#02bac4"/><stop offset="0.554" stop-color="#06b5ce"/><stop offset="0.603" stop-color="#1ca9e0"/><stop offset="0.741" stop-color="#3579fd"/><stop offset="0.799" stop-color="#4562fc"/><stop offset="0.880" stop-color="#4742e6"/><stop offset="0.937" stop-color="#4230c3"/><stop offset="0.970" stop-color="#3e27aa"/><stop offset="1.000" stop-color="#3e26a8"/></linearGradient><linearGradient id="p137" gradientUnits="userSpaceOnUse" x1="0" y1="321.3" x2="0" y2="382.0"><stop offset="0.000" stop-color="#f7f41c"/><stop offset="0.066" stop-color="#f5eb23"/><stop offset="0.181" stop-color="#febe3c"/><stop offset="0.206" stop-color="#f2ba38"/><stop offset="0.247" stop-color="#d7be28"/><stop offset="0.280" stop-color="#bdc32e"/><stop offset="0.354" stop-color="#77cc5f"/><stop offset="0.420" stop-color="#3fca8e"/><stop offset="0.486" stop-color="#1fc0b2"/><stop offset="0.519" stop-color="#05bbc1"/><stop offset="0.544" stop-color="#03b7cc"/><stop offset="0.593" stop-color="#1babde"/><stop offset="0.742" stop-color="#3678fe"/><stop offset="0.800" stop-color="#4660fc"/><stop offset="0.882" stop-color="#4741e5"/><stop offset="0.948" stop-color="#412cbb"/><stop offset="0.973" stop-color="#3e26a8"/><stop offset="1.000" stop-color="#3e26a8"/></linearGradient><linearGradient id="p138" gradientUnits="userSpaceOnUse" x1="0" y1="321.7" x2="0" y2="381.5"><stop offset="0.000" stop-color="#f6f31d"/><stop offset="0.059" stop-color="#f5e924"/><stop offset="0.167" stop-color="#febf3b"/><stop offset="0.192" stop-color="#f4ba3a"/><stop offset="0.234" stop-color="#dabd28"/><stop offset="0.268" stop-color="#c0c32d"/><stop offset="0.326" stop-color="#8bcb51"/><stop offset="0.410" stop-color="#41ca8c"/><stop offset="0.477" stop-color="#21c1b0"/><stop offset="0.519" stop-color="#02bac4"/><stop offset="0.544" stop-color="#06b6ce"/><stop offset="0.594" stop-color="#1ca9e0"/><stop offset="0.736" stop-color="#3579fd"/><stop offset="0.794" stop-color="#4561fc"/><stop offset="0.878" stop-color="#4742e6"/><stop offset="0.937" stop-color="#422fc2"/><stop offset="0.970" stop-color="#3e27a9"/><stop offset="1.000" stop-color="#3e26a8"/></linearGradient><linearGradient id="p139" gradientUnits="userSpaceOnUse" x1="0" y1="322.2" x2="0" y2="381.0"><stop offset="0.000" stop-color="#f6f11f"/><stop offset="0.068" stop-color="#f5e128"/><stop offset="0.153" stop-color="#fec03b"/><stop offset="0.178" stop-color="#f6ba3b"/><stop offset="0.221" stop-color="#dcbd29"/><stop offset="0.255" stop-color="#c2c22c"/><stop offset="0.314" stop-color="#8dcb4f"/><stop offset="0.399" stop-color="#42ca8b"/><stop offset="0.476" stop-color="#1cc0b3"/><stop offset="0.510" stop-color="#02bbc3"/><stop offset="0.535" stop-color="#05b6ce"/><stop offset="0.586" stop-color="#1caadf"/><stop offset="0.731" stop-color="#3479fd"/><stop offset="0.790" stop-color="#4562fc"/><stop offset="0.875" stop-color="#4742e6"/><stop offset="0.935" stop-color="#4230c3"/><stop offset="0.969" stop-color="#3e27aa"/><stop offset="1.000" stop-color="#3e26a8"/></linearGradient><linearGradient id="p140" gradientUnits="userSpaceOnUse" x1="0" y1="322.6" x2="0" y2="380.5"><stop offset="0.000" stop-color="#f5ee21"/><stop offset="0.078" stop-color="#f9d72c"/><stop offset="0.147" stop-color="#fdbd3d"/><stop offset="0.173" stop-color="#f1ba37"/><stop offset="0.216" stop-color="#d6be28"/><stop offset="0.250" stop-color="#bbc42f"/><stop offset="0.337" stop-color="#6dcd68"/><stop offset="0.397" stop-color="#3dc990"/><stop offset="0.458" stop-color="#22c1b0"/><stop offset="0.501" stop-color="#02bbc3"/><stop offset="0.527" stop-color="#05b6ce"/><stop offset="0.579" stop-color="#1ca9df"/><stop offset="0.726" stop-color="#3479fd"/><stop offset="0.786" stop-color="#4562fc"/><stop offset="0.872" stop-color="#4742e6"/><stop offset="0.933" stop-color="#4230c3"/><stop offset="0.967" stop-color="#3e27a9"/><stop offset="1.000" stop-color="#3e26a8"/></linearGradient><linearGradient id="p141" gradientUnits="userSpaceOnUse" x1="0" y1="323.1" x2="0" y2="379.8"><stop offset="0.000" stop-color="#f5e825"/><stop offset="0.106" stop-color="#fec636"/><stop offset="0.141" stop-color="#f9bb3d"/><stop offset="0.194" stop-color="#dabd28"/><stop offset="0.229" stop-color="#c0c32d"/><stop offset="0.291" stop-color="#8bcb51"/><stop offset="0.379" stop-color="#41ca8c"/><stop offset="0.449" stop-color="#21c1b0"/><stop offset="0.493" stop-color="#02bac4"/><stop offset="0.520" stop-color="#06b5ce"/><stop offset="0.572" stop-color="#1da9e0"/><stop offset="0.722" stop-color="#3578fd"/><stop offset="0.784" stop-color="#4561fc"/><stop offset="0.872" stop-color="#4742e6"/><stop offset="0.934" stop-color="#422fc1"/><stop offset="0.969" stop-color="#3e26a8"/><stop offset="1.000" stop-color="#3e26a8"/></linearGradient><linearGradient id="p142" gradientUnits="userSpaceOnUse" x1="0" y1="323.5" x2="0" y2="379.2"><stop offset="0.000" stop-color="#f5e327"/><stop offset="0.108" stop-color="#febe3c"/><stop offset="0.135" stop-color="#f4ba39"/><stop offset="0.180" stop-color="#d9be28"/><stop offset="0.216" stop-color="#bfc32d"/><stop offset="0.287" stop-color="#81cc58"/><stop offset="0.368" stop-color="#3fca8e"/><stop offset="0.440" stop-color="#1fc1b1"/><stop offset="0.476" stop-color="#05bbc1"/><stop offset="0.503" stop-color="#03b7cc"/><stop offset="0.557" stop-color="#1babde"/><stop offset="0.719" stop-color="#3678fe"/><stop offset="0.782" stop-color="#4660fc"/><stop offset="0.871" stop-color="#4741e5"/><stop offset="0.943" stop-color="#412cba"/><stop offset="0.970" stop-color="#3e26a8"/><stop offset="1.000" stop-color="#3e26a8"/></linearGradient><linearGradient id="p143" gradientUnits="userSpaceOnUse" x1="0" y1="324.0" x2="0" y2="378.5"><stop offset="0.000" stop-color="#f7dc2a"/><stop offset="0.092" stop-color="#febe3c"/><stop offset="0.119" stop-color="#f3ba38"/><stop offset="0.165" stop-color="#d8be28"/><stop offset="0.202" stop-color="#bdc32e"/><stop offset="0.284" stop-color="#77cc60"/><stop offset="0.358" stop-color="#3eca8f"/><stop offset="0.431" stop-color="#1ec0b2"/><stop offset="0.468" stop-color="#04bbc2"/><stop offset="0.495" stop-color="#04b6cd"/><stop offset="0.550" stop-color="#1baade"/><stop offset="0.706" stop-color="#337afd"/><stop offset="0.770" stop-color="#4563fc"/><stop offset="0.862" stop-color="#4743e7"/><stop offset="0.926" stop-color="#4330c5"/><stop offset="0.972" stop-color="#3e26a8"/><stop offset="1.000" stop-color="#3e26a8"/></linearGradient><linearGradient id="p144" gradientUnits="userSpaceOnUse" x1="0" y1="324.4" x2="0" y2="377.8"><stop offset="0.000" stop-color="#fad62d"/><stop offset="0.075" stop-color="#fdbd3d"/><stop offset="0.103" stop-color="#f1ba37"/><stop offset="0.150" stop-color="#d6be28"/><stop offset="0.187" stop-color="#bcc42f"/><stop offset="0.271" stop-color="#75cc61"/><stop offset="0.346" stop-color="#3dca90"/><stop offset="0.412" stop-color="#23c1af"/><stop offset="0.459" stop-color="#03bbc3"/><stop offset="0.477" stop-color="#01b8ca"/><stop offset="0.543" stop-color="#1caadf"/><stop offset="0.702" stop-color="#347afd"/><stop offset="0.767" stop-color="#4562fc"/><stop offset="0.861" stop-color="#4743e7"/><stop offset="0.926" stop-color="#4230c3"/><stop offset="0.964" stop-color="#3e27aa"/><stop offset="1.000" stop-color="#3e26a8"/></linearGradient><linearGradient id="p145" gradientUnits="userSpaceOnUse" x1="0" y1="324.9" x2="0" y2="377.2"><stop offset="0.000" stop-color="#fcce31"/><stop offset="0.057" stop-color="#fcbd3d"/><stop offset="0.086" stop-color="#f0ba36"/><stop offset="0.124" stop-color="#dbbd29"/><stop offset="0.162" stop-color="#c1c32c"/><stop offset="0.229" stop-color="#8ccb50"/><stop offset="0.325" stop-color="#41ca8c"/><stop offset="0.411" stop-color="#1bc0b4"/><stop offset="0.449" stop-color="#02bac3"/><stop offset="0.478" stop-color="#05b6ce"/><stop offset="0.535" stop-color="#1ca9df"/><stop offset="0.698" stop-color="#3579fd"/><stop offset="0.765" stop-color="#4561fc"/><stop offset="0.860" stop-color="#4742e6"/><stop offset="0.927" stop-color="#422fc2"/><stop offset="0.965" stop-color="#3e26a8"/><stop offset="1.000" stop-color="#3e26a8"/></linearGradient><linearGradient id="p146" gradientUnits="userSpaceOnUse" x1="0" y1="325.3" x2="0" y2="376.5"><stop offset="0.000" stop-color="#fec735"/><stop offset="0.039" stop-color="#fbbc3d"/><stop offset="0.068" stop-color="#efba35"/><stop offset="0.107" stop-color="#d9be28"/><stop offset="0.146" stop-color="#bec32e"/><stop offset="0.225" stop-color="#81cc59"/><stop offset="0.313" stop-color="#3fca8e"/><stop offset="0.391" stop-color="#1fc0b2"/><stop offset="0.430" stop-color="#05bbc1"/><stop offset="0.459" stop-color="#03b7cc"/><stop offset="0.518" stop-color="#1babde"/><stop offset="0.693" stop-color="#3677fe"/><stop offset="0.762" stop-color="#4660fc"/><stop offset="0.859" stop-color="#4741e4"/><stop offset="0.938" stop-color="#412cb9"/><stop offset="0.967" stop-color="#3e26a8"/><stop offset="1.000" stop-color="#3e26a8"/></linearGradient><linearGradient id="p147" gradientUnits="userSpaceOnUse" x1="0" y1="326.1" x2="0" y2="375.7"><stop offset="0.000" stop-color="#fdbd3d"/><stop offset="0.030" stop-color="#f2ba38"/><stop offset="0.081" stop-color="#d7be28"/><stop offset="0.121" stop-color="#bdc42f"/><stop offset="0.212" stop-color="#76cc60"/><stop offset="0.293" stop-color="#3eca8f"/><stop offset="0.373" stop-color="#1dc0b3"/><stop offset="0.414" stop-color="#04bbc2"/><stop offset="0.444" stop-color="#04b6cd"/><stop offset="0.504" stop-color="#1caadf"/><stop offset="0.676" stop-color="#347afd"/><stop offset="0.746" stop-color="#4562fc"/><stop offset="0.847" stop-color="#4743e7"/><stop offset="0.918" stop-color="#4230c4"/><stop offset="0.958" stop-color="#3e27ab"/><stop offset="1.000" stop-color="#3e26a8"/></linearGradient><linearGradient id="p148" gradientUnits="userSpaceOnUse" x1="0" y1="327.0" x2="0" y2="374.9"><stop offset="0.000" stop-color="#f0ba36"/><stop offset="0.052" stop-color="#d5be28"/><stop offset="0.094" stop-color="#bbc430"/><stop offset="0.198" stop-color="#6ccd68"/><stop offset="0.271" stop-color="#3dc991"/><stop offset="0.344" stop-color="#22c1b0"/><stop offset="0.396" stop-color="#02bbc3"/><stop offset="0.428" stop-color="#05b6ce"/><stop offset="0.490" stop-color="#1ca9df"/><stop offset="0.668" stop-color="#3579fd"/><stop offset="0.741" stop-color="#4562fc"/><stop offset="0.845" stop-color="#4742e6"/><stop offset="0.918" stop-color="#422fc2"/><stop offset="0.960" stop-color="#3e26a9"/><stop offset="1.000" stop-color="#3e26a8"/></linearGradient><linearGradient id="p149" gradientUnits="userSpaceOnUse" x1="0" y1="327.8" x2="0" y2="374.1"><stop offset="0.000" stop-color="#dfbc2a"/><stop offset="0.043" stop-color="#c7c12a"/><stop offset="0.119" stop-color="#93ca4b"/><stop offset="0.227" stop-color="#47cb87"/><stop offset="0.335" stop-color="#1ac0b5"/><stop offset="0.378" stop-color="#02bac4"/><stop offset="0.410" stop-color="#06b5cf"/><stop offset="0.464" stop-color="#1babde"/><stop offset="0.659" stop-color="#3578fd"/><stop offset="0.734" stop-color="#4661fc"/><stop offset="0.842" stop-color="#4741e5"/><stop offset="0.929" stop-color="#412cbb"/><stop offset="0.961" stop-color="#3e26a8"/><stop offset="1.000" stop-color="#3e26a8"/></linearGradient><linearGradient id="p150" gradientUnits="userSpaceOnUse" x1="0" y1="328.6" x2="0" y2="373.3"><stop offset="0.000" stop-color="#cbc129"/><stop offset="0.067" stop-color="#a0c841"/><stop offset="0.190" stop-color="#4bcb83"/><stop offset="0.246" stop-color="#33c69d"/><stop offset="0.302" stop-color="#1fc0b2"/><stop offset="0.347" stop-color="#05bbc1"/><stop offset="0.381" stop-color="#03b7cc"/><stop offset="0.448" stop-color="#1baade"/><stop offset="0.649" stop-color="#3677fe"/><stop offset="0.728" stop-color="#4660fb"/><stop offset="0.840" stop-color="#4740e4"/><stop offset="0.963" stop-color="#3e26a8"/><stop offset="1.000" stop-color="#3e26a8"/></linearGradient><linearGradient id="p151" gradientUnits="userSpaceOnUse" x1="0" y1="329.5" x2="0" y2="372.5"><stop offset="0.000" stop-color="#b1c636"/><stop offset="0.139" stop-color="#54cc7c"/><stop offset="0.198" stop-color="#37c897"/><stop offset="0.267" stop-color="#20c1b1"/><stop offset="0.325" stop-color="#02bac4"/><stop offset="0.360" stop-color="#06b5cf"/><stop offset="0.418" stop-color="#1aabde"/><stop offset="0.627" stop-color="#3578fd"/><stop offset="0.709" stop-color="#4561fc"/><stop offset="0.825" stop-color="#4741e5"/><stop offset="0.918" stop-color="#412cbb"/><stop offset="0.953" stop-color="#3e26a8"/><stop offset="1.000" stop-color="#3e26a8"/></linearGradient><linearGradient id="p152" gradientUnits="userSpaceOnUse" x1="0" y1="330.3" x2="0" y2="371.2"><stop offset="0.000" stop-color="#91ca4c"/><stop offset="0.122" stop-color="#46cb88"/><stop offset="0.232" stop-color="#1fc1b1"/><stop offset="0.281" stop-color="#05bbc1"/><stop offset="0.317" stop-color="#03b7cc"/><stop offset="0.391" stop-color="#1babde"/><stop offset="0.611" stop-color="#3678fe"/><stop offset="0.696" stop-color="#4660fc"/><stop offset="0.818" stop-color="#4741e5"/><stop offset="0.916" stop-color="#412cba"/><stop offset="0.952" stop-color="#3e26a8"/><stop offset="1.000" stop-color="#3e26a8"/></linearGradient><linearGradient id="p153" gradientUnits="userSpaceOnUse" x1="0" y1="331.5" x2="0" y2="370.0"><stop offset="0.000" stop-color="#6acd6a"/><stop offset="0.091" stop-color="#3cc992"/><stop offset="0.182" stop-color="#20c1b1"/><stop offset="0.247" stop-color="#02bac4"/><stop offset="0.286" stop-color="#06b5cf"/><stop offset="0.350" stop-color="#1babde"/><stop offset="0.584" stop-color="#3578fd"/><stop offset="0.675" stop-color="#4661fc"/><stop offset="0.805" stop-color="#4741e5"/><stop offset="0.909" stop-color="#412cbb"/><stop offset="0.947" stop-color="#3e26a8"/><stop offset="1.000" stop-color="#3e26a8"/></linearGradient><linearGradient id="p154" gradientUnits="userSpaceOnUse" x1="0" y1="333.2" x2="0" y2="368.8"><stop offset="0.000" stop-color="#41ca8c"/><stop offset="0.112" stop-color="#21c1b0"/><stop offset="0.183" stop-color="#02bac4"/><stop offset="0.225" stop-color="#06b6ce"/><stop offset="0.309" stop-color="#1ca9e0"/><stop offset="0.548" stop-color="#3579fd"/><stop offset="0.646" stop-color="#4561fc"/><stop offset="0.787" stop-color="#4742e6"/><stop offset="0.885" stop-color="#422fc2"/><stop offset="0.941" stop-color="#3e26a8"/><stop offset="1.000" stop-color="#3e26a8"/></linearGradient><linearGradient id="p155" gradientUnits="userSpaceOnUse" x1="0" y1="334.8" x2="0" y2="367.5"><stop offset="0.000" stop-color="#23c1af"/><stop offset="0.077" stop-color="#03bbc2"/><stop offset="0.123" stop-color="#04b6cd"/><stop offset="0.214" stop-color="#1caadf"/><stop offset="0.475" stop-color="#347afd"/><stop offset="0.582" stop-color="#4562fc"/><stop offset="0.735" stop-color="#4743e7"/><stop offset="0.842" stop-color="#4230c4"/><stop offset="0.904" stop-color="#3e27aa"/><stop offset="1.000" stop-color="#3e26a8"/></linearGradient><linearGradient id="p156" gradientUnits="userSpaceOnUse" x1="0" y1="336.8" x2="0" y2="364.5"><stop offset="0.000" stop-color="#0db3d4"/><stop offset="0.108" stop-color="#20a5e2"/><stop offset="0.379" stop-color="#347afd"/><stop offset="0.506" stop-color="#4562fc"/><stop offset="0.687" stop-color="#4743e7"/><stop offset="0.813" stop-color="#4230c4"/><stop offset="0.885" stop-color="#3e27ab"/><stop offset="1.000" stop-color="#3e26a8"/></linearGradient><linearGradient id="p157" gradientUnits="userSpaceOnUse" x1="0" y1="339.9" x2="0" y2="361.5"><stop offset="0.000" stop-color="#2c8ff1"/><stop offset="0.162" stop-color="#3479fd"/><stop offset="0.325" stop-color="#4562fc"/><stop offset="0.557" stop-color="#4742e6"/><stop offset="0.719" stop-color="#4230c3"/><stop offset="0.812" stop-color="#3e27a9"/><stop offset="1.000" stop-color="#3e26a8"/></linearGradient><linearGradient id="p158" gradientUnits="userSpaceOnUse" x1="0" y1="347.1" x2="0" y2="350.1"><stop offset="0.000" stop-color="#412dbc"/><stop offset="0.500" stop-color="#3e26a8"/><stop offset="1.000" stop-color="#3e26a8"/></linearGradient></defs>
<g clip-path="url(#pclip)"><g shape-rendering="crispEdges"><rect x="30.00" y="344.2" width="1.35" height="19.0" fill="url(#p0)"/><rect x="31.00" y="343.8" width="1.35" height="20.0" fill="url(#p1)"/><rect x="32.00" y="343.5" width="1.35" height="21.0" fill="url(#p2)"/><rect x="33.00" y="343.4" width="1.35" height="21.7" fill="url(#p3)"/><rect x="34.00" y="343.4" width="1.35" height="22.4" fill="url(#p4)"/><rect x="35.00" y="343.4" width="1.35" height="23.1" fill="url(#p5)"/><rect x="36.00" y="343.3" width="1.35" height="23.8" fill="url(#p6)"/><rect x="37.00" y="342.8" width="1.35" height="25.0" fill="url(#p7)"/><rect x="38.00" y="342.4" width="1.35" height="26.1" fill="url(#p8)"/><rect x="39.00" y="341.9" width="1.35" height="27.2" fill="url(#p9)"/><rect x="40.00" y="341.4" width="1.35" height="28.4" fill="url(#p10)"/><rect x="41.00" y="340.9" width="1.35" height="29.5" fill="url(#p11)"/><rect x="42.00" y="340.4" width="1.35" height="30.7" fill="url(#p12)"/><rect x="43.00" y="340.0" width="1.35" height="31.1" fill="url(#p13)"/><rect x="44.00" y="339.5" width="1.35" height="31.5" fill="url(#p14)"/><rect x="45.00" y="338.9" width="1.35" height="31.9" fill="url(#p15)"/><rect x="46.00" y="338.3" width="1.35" height="32.4" fill="url(#p16)"/><rect x="47.00" y="337.7" width="1.35" height="32.9" fill="url(#p17)"/><rect x="48.00" y="337.1" width="1.35" height="33.4" fill="url(#p18)"/><rect x="49.00" y="336.5" width="1.35" height="33.9" fill="url(#p19)"/><rect x="50.00" y="335.9" width="1.35" height="34.4" fill="url(#p20)"/><rect x="51.00" y="335.3" width="1.35" height="35.0" fill="url(#p21)"/><rect x="52.00" y="334.7" width="1.35" height="35.5" fill="url(#p22)"/><rect x="53.00" y="334.1" width="1.35" height="36.1" fill="url(#p23)"/><rect x="54.00" y="333.5" width="1.35" height="36.6" fill="url(#p24)"/><rect x="55.00" y="332.9" width="1.35" height="37.2" fill="url(#p25)"/><rect x="56.00" y="332.3" width="1.35" height="37.8" fill="url(#p26)"/><rect x="57.00" y="331.7" width="1.35" height="38.4" fill="url(#p27)"/><rect x="58.00" y="331.1" width="1.35" height="39.0" fill="url(#p28)"/><rect x="59.00" y="330.5" width="1.35" height="39.6" fill="url(#p29)"/><rect x="60.00" y="329.9" width="1.35" height="40.3" fill="url(#p30)"/><rect x="61.00" y="329.3" width="1.35" height="40.9" fill="url(#p31)"/><rect x="62.00" y="328.7" width="1.35" height="41.6" fill="url(#p32)"/><rect x="63.00" y="328.1" width="1.35" height="42.2" fill="url(#p33)"/><rect x="64.00" y="327.5" width="1.35" height="42.9" fill="url(#p34)"/><rect x="65.00" y="326.9" width="1.35" height="43.6" fill="url(#p35)"/><rect x="66.00" y="326.3" width="1.35" height="44.3" fill="url(#p36)"/><rect x="67.00" y="325.7" width="1.35" height="45.0" fill="url(#p37)"/><rect x="68.00" y="325.1" width="1.35" height="45.7" fill="url(#p38)"/><rect x="69.00" y="324.5" width="1.35" height="46.4" fill="url(#p39)"/><rect x="70.00" y="323.9" width="1.35" height="47.2" fill="url(#p40)"/><rect x="71.00" y="323.3" width="1.35" height="48.1" fill="url(#p41)"/><rect x="72.00" y="322.7" width="1.35" height="48.9" fill="url(#p42)"/><rect x="73.00" y="322.1" width="1.35" height="49.7" fill="url(#p43)"/><rect x="74.00" y="321.5" width="1.35" height="50.5" fill="url(#p44)"/><rect x="75.00" y="321.0" width="1.35" height="51.3" fill="url(#p45)"/><rect x="76.00" y="320.5" width="1.35" height="52.0" fill="url(#p46)"/><rect x="77.00" y="320.0" width="1.35" height="52.8" fill="url(#p47)"/><rect x="78.00" y="319.5" width="1.35" height="53.6" fill="url(#p48)"/><rect x="79.00" y="319.0" width="1.35" height="54.4" fill="url(#p49)"/><rect x="80.00" y="318.5" width="1.35" height="55.1" fill="url(#p50)"/><rect x="81.00" y="318.2" width="1.35" height="55.7" fill="url(#p51)"/><rect x="82.00" y="318.0" width="1.35" height="56.2" fill="url(#p52)"/><rect x="83.00" y="317.8" width="1.35" height="56.8" fill="url(#p53)"/><rect x="84.00" y="317.5" width="1.35" height="57.4" fill="url(#p54)"/><rect x="85.00" y="317.4" width="1.35" height="57.9" fill="url(#p55)"/><rect x="86.00" y="317.3" width="1.35" height="58.4" fill="url(#p56)"/><rect x="87.00" y="317.2" width="1.35" height="58.8" fill="url(#p57)"/><rect x="88.00" y="317.2" width="1.35" height="59.3" fill="url(#p58)"/><rect x="89.00" y="317.1" width="1.35" height="59.8" fill="url(#p59)"/><rect x="90.00" y="317.0" width="1.35" height="60.3" fill="url(#p60)"/><rect x="91.00" y="317.0" width="1.35" height="60.8" fill="url(#p61)"/><rect x="92.00" y="316.9" width="1.35" height="61.2" fill="url(#p62)"/><rect x="93.00" y="316.9" width="1.35" height="61.7" fill="url(#p63)"/><rect x="94.00" y="316.9" width="1.35" height="62.2" fill="url(#p64)"/><rect x="95.00" y="316.9" width="1.35" height="62.6" fill="url(#p65)"/><rect x="96.00" y="316.9" width="1.35" height="63.2" fill="url(#p66)"/><rect x="97.00" y="316.9" width="1.35" height="63.7" fill="url(#p67)"/><rect x="98.00" y="316.9" width="1.35" height="64.3" fill="url(#p68)"/><rect x="99.00" y="317.0" width="1.35" height="64.8" fill="url(#p69)"/><rect x="100.00" y="317.0" width="1.35" height="65.4" fill="url(#p70)"/><rect x="101.00" y="317.0" width="1.35" height="65.9" fill="url(#p71)"/><rect x="102.00" y="317.0" width="1.35" height="66.5" fill="url(#p72)"/><rect x="103.00" y="317.2" width="1.35" height="66.9" fill="url(#p73)"/><rect x="104.00" y="317.3" width="1.35" height="67.3" fill="url(#p74)"/><rect x="105.00" y="317.5" width="1.35" height="67.7" fill="url(#p75)"/><rect x="106.00" y="317.6" width="1.35" height="68.2" fill="url(#p76)"/><rect x="107.00" y="317.7" width="1.35" height="68.6" fill="url(#p77)"/><rect x="108.00" y="317.8" width="1.35" height="69.1" fill="url(#p78)"/><rect x="109.00" y="317.9" width="1.35" height="69.6" fill="url(#p79)"/><rect x="110.00" y="318.0" width="1.35" height="69.9" fill="url(#p80)"/><rect x="111.00" y="318.1" width="1.35" height="70.2" fill="url(#p81)"/><rect x="112.00" y="318.2" width="1.35" height="70.5" fill="url(#p82)"/><rect x="113.00" y="318.4" width="1.35" height="70.8" fill="url(#p83)"/><rect x="114.00" y="318.7" width="1.35" height="70.9" fill="url(#p84)"/><rect x="115.00" y="319.0" width="1.35" height="71.0" fill="url(#p85)"/><rect x="116.00" y="319.1" width="1.35" height="71.3" fill="url(#p86)"/><rect x="117.00" y="319.2" width="1.35" height="71.7" fill="url(#p87)"/><rect x="118.00" y="319.3" width="1.35" height="72.0" fill="url(#p88)"/><rect x="119.00" y="319.4" width="1.35" height="72.3" fill="url(#p89)"/><rect x="120.00" y="319.5" width="1.35" height="72.6" fill="url(#p90)"/><rect x="121.00" y="319.6" width="1.35" height="72.8" fill="url(#p91)"/><rect x="122.00" y="319.7" width="1.35" height="73.1" fill="url(#p92)"/><rect x="123.00" y="319.8" width="1.35" height="73.4" fill="url(#p93)"/><rect x="124.00" y="319.9" width="1.35" height="73.7" fill="url(#p94)"/><rect x="125.00" y="319.9" width="1.35" height="74.1" fill="url(#p95)"/><rect x="126.00" y="319.9" width="1.35" height="74.5" fill="url(#p96)"/><rect x="127.00" y="319.9" width="1.35" height="74.9" fill="url(#p97)"/><rect x="128.00" y="319.9" width="1.35" height="75.2" fill="url(#p98)"/><rect x="129.00" y="319.9" width="1.35" height="75.6" fill="url(#p99)"/><rect x="130.00" y="319.9" width="1.35" height="76.0" fill="url(#p100)"/><rect x="131.00" y="319.9" width="1.35" height="76.0" fill="url(#p101)"/><rect x="132.00" y="319.9" width="1.35" height="75.6" fill="url(#p102)"/><rect x="133.00" y="319.9" width="1.35" height="75.2" fill="url(#p103)"/><rect x="134.00" y="319.9" width="1.35" height="74.9" fill="url(#p104)"/><rect x="135.00" y="319.8" width="1.35" height="74.6" fill="url(#p105)"/><rect x="136.00" y="319.7" width="1.35" height="74.2" fill="url(#p106)"/><rect x="137.00" y="319.7" width="1.35" height="73.9" fill="url(#p107)"/><rect x="138.00" y="319.6" width="1.35" height="73.6" fill="url(#p108)"/><rect x="139.00" y="319.5" width="1.35" height="73.3" fill="url(#p109)"/><rect x="140.00" y="319.5" width="1.35" height="73.0" fill="url(#p110)"/><rect x="141.00" y="319.4" width="1.35" height="72.6" fill="url(#p111)"/><rect x="142.00" y="319.4" width="1.35" height="72.3" fill="url(#p112)"/><rect x="143.00" y="319.3" width="1.35" height="72.0" fill="url(#p113)"/><rect x="144.00" y="319.2" width="1.35" height="71.7" fill="url(#p114)"/><rect x="145.00" y="319.2" width="1.35" height="71.3" fill="url(#p115)"/><rect x="146.00" y="319.2" width="1.35" height="71.0" fill="url(#p116)"/><rect x="147.00" y="319.2" width="1.35" height="70.6" fill="url(#p117)"/><rect x="148.00" y="319.2" width="1.35" height="70.2" fill="url(#p118)"/><rect x="149.00" y="319.2" width="1.35" height="69.8" fill="url(#p119)"/><rect x="150.00" y="319.2" width="1.35" height="69.4" fill="url(#p120)"/><rect x="151.00" y="319.2" width="1.35" height="69.0" fill="url(#p121)"/><rect x="152.00" y="319.2" width="1.35" height="68.7" fill="url(#p122)"/><rect x="153.00" y="319.2" width="1.35" height="68.3" fill="url(#p123)"/><rect x="154.00" y="319.2" width="1.35" height="67.9" fill="url(#p124)"/><rect x="155.00" y="319.2" width="1.35" height="67.5" fill="url(#p125)"/><rect x="156.00" y="319.2" width="1.35" height="67.1" fill="url(#p126)"/><rect x="157.00" y="319.3" width="1.35" height="66.6" fill="url(#p127)"/><rect x="158.00" y="319.5" width="1.35" height="66.0" fill="url(#p128)"/><rect x="159.00" y="319.7" width="1.35" height="65.5" fill="url(#p129)"/><rect x="160.00" y="319.9" width="1.35" height="64.9" fill="url(#p130)"/><rect x="161.00" y="320.1" width="1.35" height="64.3" fill="url(#p131)"/><rect x="162.00" y="320.3" width="1.35" height="63.7" fill="url(#p132)"/><rect x="163.00" y="320.5" width="1.35" height="63.1" fill="url(#p133)"/><rect x="164.00" y="320.7" width="1.35" height="62.5" fill="url(#p134)"/><rect x="165.00" y="320.9" width="1.35" height="61.9" fill="url(#p135)"/><rect x="166.00" y="321.1" width="1.35" height="61.4" fill="url(#p136)"/><rect x="167.00" y="321.3" width="1.35" height="60.7" fill="url(#p137)"/><rect x="168.00" y="321.7" width="1.35" height="59.8" fill="url(#p138)"/><rect x="169.00" y="322.2" width="1.35" height="58.8" fill="url(#p139)"/><rect x="170.00" y="322.6" width="1.35" height="57.9" fill="url(#p140)"/><rect x="171.00" y="323.1" width="1.35" height="56.8" fill="url(#p141)"/><rect x="172.00" y="323.5" width="1.35" height="55.7" fill="url(#p142)"/><rect x="173.00" y="324.0" width="1.35" height="54.5" fill="url(#p143)"/><rect x="174.00" y="324.4" width="1.35" height="53.4" fill="url(#p144)"/><rect x="175.00" y="324.9" width="1.35" height="52.3" fill="url(#p145)"/><rect x="176.00" y="325.3" width="1.35" height="51.2" fill="url(#p146)"/><rect x="177.00" y="326.1" width="1.35" height="49.6" fill="url(#p147)"/><rect x="178.00" y="327.0" width="1.35" height="47.9" fill="url(#p148)"/><rect x="179.00" y="327.8" width="1.35" height="46.3" fill="url(#p149)"/><rect x="180.00" y="328.6" width="1.35" height="44.7" fill="url(#p150)"/><rect x="181.00" y="329.5" width="1.35" height="43.0" fill="url(#p151)"/><rect x="182.00" y="330.3" width="1.35" height="40.9" fill="url(#p152)"/><rect x="183.00" y="331.5" width="1.35" height="38.5" fill="url(#p153)"/><rect x="184.00" y="333.2" width="1.35" height="35.6" fill="url(#p154)"/><rect x="185.00" y="334.8" width="1.35" height="32.7" fill="url(#p155)"/><rect x="186.00" y="336.8" width="1.35" height="27.7" fill="url(#p156)"/><rect x="187.00" y="339.9" width="1.35" height="21.6" fill="url(#p157)"/><rect x="188.00" y="347.1" width="1.35" height="3.0" fill="url(#p158)"/></g></g>
<path d="M41.0,368.6 L38.8,369.5" stroke="#404040" stroke-width="0.8" fill="none"/>
<path d="M54.0,377.0 L51.8,377.9" stroke="#404040" stroke-width="0.8" fill="none"/>
<path d="M68.0,386.4 L65.8,387.3" stroke="#404040" stroke-width="0.8" fill="none"/>
<path d="M83.0,396.0 L80.8,396.9" stroke="#404040" stroke-width="0.8" fill="none"/>
<path d="M99.4,406.3 L97.2,407.2" stroke="#404040" stroke-width="0.8" fill="none"/>
<path d="M99.4,406.3 L101.4,407.6" stroke="#404040" stroke-width="0.8" fill="none"/>
<path d="M131.2,394.4 L133.2,395.7" stroke="#404040" stroke-width="0.8" fill="none"/>
<path d="M160.5,384.2 L162.5,385.5" stroke="#404040" stroke-width="0.8" fill="none"/>
<path d="M188.0,372.0 L190.0,373.3" stroke="#404040" stroke-width="0.8" fill="none"/>
<path d="M31.0,361.0 L28.6,360.2" stroke="#404040" stroke-width="0.8" fill="none"/>
<path d="M31.0,335.0 L28.6,334.2" stroke="#404040" stroke-width="0.8" fill="none"/>
<path d="M31.0,309.0 L28.6,308.2" stroke="#404040" stroke-width="0.8" fill="none"/>
<text x="34.3" y="379.0" text-anchor="middle" font-family="'Liberation Serif',serif" font-weight="bold" font-size="8.6" fill="#1a1a1a" >80</text>
<text x="48.4" y="387.8" text-anchor="middle" font-family="'Liberation Serif',serif" font-weight="bold" font-size="8.6" fill="#1a1a1a" >60</text>
<text x="62.6" y="396.8" text-anchor="middle" font-family="'Liberation Serif',serif" font-weight="bold" font-size="8.6" fill="#1a1a1a" >40</text>
<text x="76.8" y="406.2" text-anchor="middle" font-family="'Liberation Serif',serif" font-weight="bold" font-size="8.6" fill="#1a1a1a" >20</text>
<text x="92.8" y="415.2" text-anchor="middle" font-family="'Liberation Serif',serif" font-weight="bold" font-size="8.6" fill="#1a1a1a" >0</text>
<text x="105.6" y="416.2" text-anchor="middle" font-family="'Liberation Serif',serif" font-weight="bold" font-size="8.6" fill="#1a1a1a" >0</text>
<text x="136.8" y="405.2" text-anchor="middle" font-family="'Liberation Serif',serif" font-weight="bold" font-size="8.6" fill="#1a1a1a" >50</text>
<text x="168.5" y="393.0" text-anchor="middle" font-family="'Liberation Serif',serif" font-weight="bold" font-size="8.6" fill="#1a1a1a" >100</text>
<text x="198.2" y="381.6" text-anchor="middle" font-family="'Liberation Serif',serif" font-weight="bold" font-size="8.6" fill="#1a1a1a" >150</text>
<text x="28.2" y="364.0" text-anchor="end" font-family="'Liberation Serif',serif" font-weight="bold" font-size="8.6" fill="#1a1a1a" >0</text>
<text x="28.2" y="338.0" text-anchor="end" font-family="'Liberation Serif',serif" font-weight="bold" font-size="8.6" fill="#1a1a1a" >5</text>
<text x="28.2" y="312.0" text-anchor="end" font-family="'Liberation Serif',serif" font-weight="bold" font-size="8.6" fill="#1a1a1a" >10</text>
<text x="32.5" y="415.0" text-anchor="middle" font-family="'Liberation Serif',serif" font-weight="bold" font-size="8.6" fill="#1a1a1a" >Nacelle angle (°)</text>
<text x="172.5" y="418.0" text-anchor="middle" font-family="'Liberation Serif',serif" font-weight="bold" font-size="8.6" fill="#1a1a1a" >Airspeed (m/s)</text>
<text transform="translate(15.8,331.0) rotate(-90)" text-anchor="middle" font-family="'Liberation Serif',serif" font-weight="bold" font-size="8.6" fill="#1a1a1a">Altitude (km)</text>
<rect x="207.3" y="270.0" width="7.0" height="142.0" fill="url(#cbP)" stroke="#404040" stroke-width="0.7"/>
<path d="M214.3,412.0 h-2" stroke="#404040" stroke-width="0.8" fill="none"/>
<text x="216.5" y="414.9" font-family="'Liberation Serif',serif" font-weight="bold" font-size="8.6" fill="#1a1a1a">0</text>
<path d="M214.3,386.0 h-2" stroke="#404040" stroke-width="0.8" fill="none"/>
<text x="216.5" y="388.9" font-family="'Liberation Serif',serif" font-weight="bold" font-size="8.6" fill="#1a1a1a">2</text>
<path d="M214.3,360.0 h-2" stroke="#404040" stroke-width="0.8" fill="none"/>
<text x="216.5" y="362.9" font-family="'Liberation Serif',serif" font-weight="bold" font-size="8.6" fill="#1a1a1a">4</text>
<path d="M214.3,334.0 h-2" stroke="#404040" stroke-width="0.8" fill="none"/>
<text x="216.5" y="336.9" font-family="'Liberation Serif',serif" font-weight="bold" font-size="8.6" fill="#1a1a1a">6</text>
<path d="M214.3,308.0 h-2" stroke="#404040" stroke-width="0.8" fill="none"/>
<text x="216.5" y="310.9" font-family="'Liberation Serif',serif" font-weight="bold" font-size="8.6" fill="#1a1a1a">8</text>
<path d="M214.3,281.8 h-2" stroke="#404040" stroke-width="0.8" fill="none"/>
<text x="216.5" y="284.7" font-family="'Liberation Serif',serif" font-weight="bold" font-size="8.6" fill="#1a1a1a">10</text>
<text transform="translate(233.2,342.5) rotate(-90)" text-anchor="middle" font-family="'Liberation Serif',serif" font-weight="bold" font-size="8.6" fill="#1a1a1a">Altitude (km)</text>
<path d="M337.0,335.0 L425.4,302.5" stroke="#d9d9d9" stroke-width="0.6" fill="none"/>
<path d="M425.4,302.5 L494.0,347.0" stroke="#d9d9d9" stroke-width="0.6" fill="none"/>
<path d="M337.0,309.0 L425.4,276.5" stroke="#d9d9d9" stroke-width="0.6" fill="none"/>
<path d="M425.4,276.5 L494.0,321.0" stroke="#d9d9d9" stroke-width="0.6" fill="none"/>
<path d="M366.6,350.0 L366.6,289.0" stroke="#d9d9d9" stroke-width="0.6" fill="none"/>
<path d="M396.6,338.8 L396.6,277.8" stroke="#d9d9d9" stroke-width="0.6" fill="none"/>
<path d="M436.4,335.1 L436.4,273.9" stroke="#d9d9d9" stroke-width="0.6" fill="none"/>
<path d="M450.4,344.0 L450.4,282.7" stroke="#d9d9d9" stroke-width="0.6" fill="none"/>
<path d="M465.4,353.7 L465.4,292.1" stroke="#d9d9d9" stroke-width="0.6" fill="none"/>
<path d="M480.0,363.0 L480.0,301.2" stroke="#d9d9d9" stroke-width="0.6" fill="none"/>
<path d="M347.0,368.6 L433.8,334.8" stroke="#d9d9d9" stroke-width="0.6" fill="none"/>
<path d="M360.0,377.0 L446.8,343.2" stroke="#d9d9d9" stroke-width="0.6" fill="none"/>
<path d="M374.0,386.4 L460.8,352.6" stroke="#d9d9d9" stroke-width="0.6" fill="none"/>
<path d="M389.0,396.0 L475.8,362.2" stroke="#d9d9d9" stroke-width="0.6" fill="none"/>
<path d="M437.2,394.4 L368.8,349.1" stroke="#d9d9d9" stroke-width="0.6" fill="none"/>
<path d="M466.5,384.2 L398.1,338.9" stroke="#d9d9d9" stroke-width="0.6" fill="none"/>
<path d="M337.0,300.0 L425.4,267.0" stroke="#404040" stroke-width="0.8" fill="none"/>
<path d="M425.4,267.0 L494.0,310.0" stroke="#404040" stroke-width="0.8" fill="none"/>
<path d="M337.0,300.0 L337.0,361.0" stroke="#404040" stroke-width="0.8" fill="none"/>
<path d="M425.4,267.0 L425.4,328.0" stroke="#404040" stroke-width="0.8" fill="none"/>
<path d="M494.0,310.0 L494.0,372.0" stroke="#404040" stroke-width="0.8" fill="none"/>
<path d="M337.0,361.0 L405.4,406.3" stroke="#404040" stroke-width="0.8" fill="none"/>
<path d="M405.4,406.3 L494.0,372.0" stroke="#404040" stroke-width="0.8" fill="none"/>
<defs><clipPath id="sclip"><polygon points="336.0,346.0 339.0,345.0 343.0,344.8 351.0,341.0 361.0,335.0 371.0,329.0 381.0,323.0 387.0,320.0 391.0,319.0 397.0,318.5 401.0,318.4 408.0,318.5 411.0,319.0 418.7,319.8 421.0,320.5 429.6,321.4 440.5,321.4 451.5,320.7 462.4,320.7 473.3,322.9 482.0,326.8 488.6,332.3 491.8,337.7 493.5,343.0 494.0,348.6 494.0,348.6 494.0,355.0 493.0,360.0 491.0,366.0 487.0,371.0 482.0,375.0 476.0,379.0 472.0,381.0 437.0,394.4 426.0,390.2 416.0,386.0 409.0,382.0 402.0,378.0 396.0,375.4 390.0,373.0 383.0,371.0 376.0,369.4 371.0,368.9 366.0,368.6 361.0,368.6 356.0,368.8 352.0,369.2 349.0,369.6 336.0,361.0"/></clipPath><linearGradient id="s0" gradientUnits="userSpaceOnUse" x1="0" y1="344.2" x2="0" y2="363.2"><stop offset="0.000" stop-color="#ff0c00"/><stop offset="0.105" stop-color="#ff0700"/><stop offset="0.237" stop-color="#ff1500"/><stop offset="0.605" stop-color="#ff5e00"/><stop offset="0.816" stop-color="#ff7a00"/><stop offset="1.000" stop-color="#ff7f00"/></linearGradient><linearGradient id="s1" gradientUnits="userSpaceOnUse" x1="0" y1="343.8" x2="0" y2="363.8"><stop offset="0.000" stop-color="#ff0b00"/><stop offset="0.100" stop-color="#ff0600"/><stop offset="0.225" stop-color="#ff1000"/><stop offset="0.600" stop-color="#ff5e00"/><stop offset="0.800" stop-color="#ff7a00"/><stop offset="1.000" stop-color="#ff7f00"/></linearGradient><linearGradient id="s2" gradientUnits="userSpaceOnUse" x1="0" y1="343.5" x2="0" y2="364.5"><stop offset="0.000" stop-color="#ff0900"/><stop offset="0.095" stop-color="#ff0400"/><stop offset="0.238" stop-color="#ff1100"/><stop offset="0.596" stop-color="#ff5f00"/><stop offset="0.786" stop-color="#ff7b00"/><stop offset="1.000" stop-color="#ff8000"/></linearGradient><linearGradient id="s3" gradientUnits="userSpaceOnUse" x1="0" y1="343.4" x2="0" y2="365.1"><stop offset="0.000" stop-color="#ff0700"/><stop offset="0.092" stop-color="#ff0300"/><stop offset="0.254" stop-color="#ff1300"/><stop offset="0.576" stop-color="#ff5e00"/><stop offset="0.761" stop-color="#ff7a00"/><stop offset="1.000" stop-color="#ff8000"/></linearGradient><linearGradient id="s4" gradientUnits="userSpaceOnUse" x1="0" y1="343.4" x2="0" y2="365.8"><stop offset="0.000" stop-color="#ff0500"/><stop offset="0.089" stop-color="#ff0100"/><stop offset="0.268" stop-color="#ff1400"/><stop offset="0.580" stop-color="#ff5f00"/><stop offset="0.759" stop-color="#ff7b00"/><stop offset="1.000" stop-color="#ff8100"/></linearGradient><linearGradient id="s5" gradientUnits="userSpaceOnUse" x1="0" y1="343.4" x2="0" y2="366.5"><stop offset="0.000" stop-color="#ff0400"/><stop offset="0.108" stop-color="#ff0200"/><stop offset="0.260" stop-color="#ff0f00"/><stop offset="0.584" stop-color="#ff5f00"/><stop offset="0.757" stop-color="#ff7c00"/><stop offset="1.000" stop-color="#ff8100"/></linearGradient><linearGradient id="s6" gradientUnits="userSpaceOnUse" x1="0" y1="343.3" x2="0" y2="367.1"><stop offset="0.000" stop-color="#ff0200"/><stop offset="0.126" stop-color="#ff0200"/><stop offset="0.273" stop-color="#ff1000"/><stop offset="0.587" stop-color="#ff6000"/><stop offset="0.755" stop-color="#ff7c00"/><stop offset="1.000" stop-color="#ff8100"/></linearGradient><linearGradient id="s7" gradientUnits="userSpaceOnUse" x1="0" y1="342.8" x2="0" y2="367.8"><stop offset="0.000" stop-color="#ff0100"/><stop offset="0.160" stop-color="#ff0300"/><stop offset="0.300" stop-color="#ff1200"/><stop offset="0.601" stop-color="#ff6100"/><stop offset="0.741" stop-color="#ff7b00"/><stop offset="1.000" stop-color="#ff8200"/></linearGradient><linearGradient id="s8" gradientUnits="userSpaceOnUse" x1="0" y1="342.4" x2="0" y2="368.5"><stop offset="0.000" stop-color="#ff0000"/><stop offset="0.172" stop-color="#ff0300"/><stop offset="0.306" stop-color="#ff1200"/><stop offset="0.594" stop-color="#ff6000"/><stop offset="0.747" stop-color="#ff7c00"/><stop offset="1.000" stop-color="#ff8200"/></linearGradient><linearGradient id="s9" gradientUnits="userSpaceOnUse" x1="0" y1="341.9" x2="0" y2="369.1"><stop offset="0.000" stop-color="#ff0000"/><stop offset="0.184" stop-color="#ff0300"/><stop offset="0.312" stop-color="#ff1200"/><stop offset="0.587" stop-color="#ff6000"/><stop offset="0.734" stop-color="#ff7d00"/><stop offset="1.000" stop-color="#ff8300"/></linearGradient><linearGradient id="s10" gradientUnits="userSpaceOnUse" x1="0" y1="341.4" x2="0" y2="369.8"><stop offset="0.000" stop-color="#ff0000"/><stop offset="0.194" stop-color="#ff0300"/><stop offset="0.317" stop-color="#ff1200"/><stop offset="0.581" stop-color="#ff6000"/><stop offset="0.722" stop-color="#ff7d00"/><stop offset="1.000" stop-color="#ff8300"/></linearGradient><linearGradient id="s11" gradientUnits="userSpaceOnUse" x1="0" y1="340.9" x2="0" y2="370.4"><stop offset="0.000" stop-color="#ff0000"/><stop offset="0.203" stop-color="#ff0300"/><stop offset="0.322" stop-color="#ff1200"/><stop offset="0.576" stop-color="#ff6000"/><stop offset="0.712" stop-color="#ff7d00"/><stop offset="0.983" stop-color="#ff8300"/><stop offset="1.000" stop-color="#ff8300"/></linearGradient><linearGradient id="s12" gradientUnits="userSpaceOnUse" x1="0" y1="340.4" x2="0" y2="371.1"><stop offset="0.000" stop-color="#ff0000"/><stop offset="0.212" stop-color="#ff0300"/><stop offset="0.326" stop-color="#ff1200"/><stop offset="0.571" stop-color="#ff6000"/><stop offset="0.701" stop-color="#ff7d00"/><stop offset="0.962" stop-color="#ff8400"/><stop offset="1.000" stop-color="#ff8400"/></linearGradient><linearGradient id="s13" gradientUnits="userSpaceOnUse" x1="0" y1="340.0" x2="0" y2="371.1"><stop offset="0.000" stop-color="#ff0000"/><stop offset="0.225" stop-color="#ff0300"/><stop offset="0.337" stop-color="#ff1200"/><stop offset="0.578" stop-color="#ff6000"/><stop offset="0.707" stop-color="#ff7e00"/><stop offset="0.948" stop-color="#ff8400"/><stop offset="1.000" stop-color="#ff8400"/></linearGradient><linearGradient id="s14" gradientUnits="userSpaceOnUse" x1="0" y1="339.5" x2="0" y2="371.0"><stop offset="0.000" stop-color="#ff0000"/><stop offset="0.238" stop-color="#ff0300"/><stop offset="0.350" stop-color="#ff1200"/><stop offset="0.588" stop-color="#ff6000"/><stop offset="0.715" stop-color="#ff7e00"/><stop offset="0.953" stop-color="#ff8400"/><stop offset="1.000" stop-color="#ff8400"/></linearGradient><linearGradient id="s15" gradientUnits="userSpaceOnUse" x1="0" y1="338.9" x2="0" y2="370.8"><stop offset="0.000" stop-color="#ff0000"/><stop offset="0.251" stop-color="#ff0300"/><stop offset="0.360" stop-color="#ff1200"/><stop offset="0.595" stop-color="#ff6100"/><stop offset="0.720" stop-color="#ff7f00"/><stop offset="0.939" stop-color="#ff8600"/><stop offset="1.000" stop-color="#ff8600"/></linearGradient><linearGradient id="s16" gradientUnits="userSpaceOnUse" x1="0" y1="338.3" x2="0" y2="370.7"><stop offset="0.000" stop-color="#ff0000"/><stop offset="0.247" stop-color="#ff0200"/><stop offset="0.370" stop-color="#ff1400"/><stop offset="0.602" stop-color="#ff6300"/><stop offset="0.725" stop-color="#ff8200"/><stop offset="0.957" stop-color="#ff8800"/><stop offset="1.000" stop-color="#ff8800"/></linearGradient><linearGradient id="s17" gradientUnits="userSpaceOnUse" x1="0" y1="337.7" x2="0" y2="370.6"><stop offset="0.000" stop-color="#ff0000"/><stop offset="0.258" stop-color="#ff0300"/><stop offset="0.365" stop-color="#ff1200"/><stop offset="0.608" stop-color="#ff6600"/><stop offset="0.714" stop-color="#ff8300"/><stop offset="0.881" stop-color="#ff8b00"/><stop offset="1.000" stop-color="#ff8b00"/></linearGradient><linearGradient id="s18" gradientUnits="userSpaceOnUse" x1="0" y1="337.1" x2="0" y2="370.5"><stop offset="0.000" stop-color="#ff0000"/><stop offset="0.254" stop-color="#ff0200"/><stop offset="0.359" stop-color="#ff1000"/><stop offset="0.614" stop-color="#ff6900"/><stop offset="0.719" stop-color="#ff8600"/><stop offset="0.898" stop-color="#ff8d00"/><stop offset="1.000" stop-color="#ff8d00"/></linearGradient><linearGradient id="s19" gradientUnits="userSpaceOnUse" x1="0" y1="336.5" x2="0" y2="370.4"><stop offset="0.000" stop-color="#ff0000"/><stop offset="0.251" stop-color="#ff0200"/><stop offset="0.369" stop-color="#ff1300"/><stop offset="0.605" stop-color="#ff6900"/><stop offset="0.708" stop-color="#ff8700"/><stop offset="0.855" stop-color="#ff8f00"/><stop offset="1.000" stop-color="#ff9000"/></linearGradient><linearGradient id="s20" gradientUnits="userSpaceOnUse" x1="0" y1="335.9" x2="0" y2="370.3"><stop offset="0.000" stop-color="#ff0000"/><stop offset="0.262" stop-color="#ff0300"/><stop offset="0.363" stop-color="#ff1100"/><stop offset="0.654" stop-color="#ff7c00"/><stop offset="0.741" stop-color="#ff8e00"/><stop offset="1.000" stop-color="#ff9300"/></linearGradient><linearGradient id="s21" gradientUnits="userSpaceOnUse" x1="0" y1="335.3" x2="0" y2="370.3"><stop offset="0.000" stop-color="#ff0000"/><stop offset="0.257" stop-color="#ff0200"/><stop offset="0.372" stop-color="#ff1400"/><stop offset="0.658" stop-color="#ff8000"/><stop offset="0.744" stop-color="#ff9100"/><stop offset="1.000" stop-color="#ff9500"/></linearGradient><linearGradient id="s22" gradientUnits="userSpaceOnUse" x1="0" y1="334.7" x2="0" y2="370.2"><stop offset="0.000" stop-color="#ff0000"/><stop offset="0.267" stop-color="#ff0300"/><stop offset="0.366" stop-color="#ff1200"/><stop offset="0.676" stop-color="#ff8800"/><stop offset="0.774" stop-color="#ff9600"/><stop offset="1.000" stop-color="#ff9800"/></linearGradient><linearGradient id="s23" gradientUnits="userSpaceOnUse" x1="0" y1="334.1" x2="0" y2="370.2"><stop offset="0.000" stop-color="#ff0000"/><stop offset="0.263" stop-color="#ff0300"/><stop offset="0.360" stop-color="#ff1000"/><stop offset="0.679" stop-color="#ff8c00"/><stop offset="0.776" stop-color="#ff9800"/><stop offset="1.000" stop-color="#ff9a00"/></linearGradient><linearGradient id="s24" gradientUnits="userSpaceOnUse" x1="0" y1="333.5" x2="0" y2="370.1"><stop offset="0.000" stop-color="#ff0000"/><stop offset="0.259" stop-color="#ff0200"/><stop offset="0.368" stop-color="#ff1300"/><stop offset="0.682" stop-color="#ff9000"/><stop offset="0.791" stop-color="#ff9b00"/><stop offset="1.000" stop-color="#ff9d00"/></linearGradient><linearGradient id="s25" gradientUnits="userSpaceOnUse" x1="0" y1="332.9" x2="0" y2="370.1"><stop offset="0.000" stop-color="#ff0000"/><stop offset="0.269" stop-color="#ff0300"/><stop offset="0.363" stop-color="#ff1200"/><stop offset="0.672" stop-color="#ff9300"/><stop offset="0.766" stop-color="#ffa000"/><stop offset="1.000" stop-color="#ffa200"/></linearGradient><linearGradient id="s26" gradientUnits="userSpaceOnUse" x1="0" y1="332.3" x2="0" y2="370.1"><stop offset="0.000" stop-color="#ff0000"/><stop offset="0.265" stop-color="#ff0300"/><stop offset="0.357" stop-color="#ff1200"/><stop offset="0.595" stop-color="#ff7700"/><stop offset="0.661" stop-color="#ff9800"/><stop offset="0.741" stop-color="#ffa700"/><stop offset="1.000" stop-color="#ffaa00"/></linearGradient><linearGradient id="s27" gradientUnits="userSpaceOnUse" x1="0" y1="331.7" x2="0" y2="370.1"><stop offset="0.000" stop-color="#ff0000"/><stop offset="0.260" stop-color="#ff0300"/><stop offset="0.352" stop-color="#ff1200"/><stop offset="0.469" stop-color="#ff4500"/><stop offset="0.599" stop-color="#ff8100"/><stop offset="0.664" stop-color="#ffa100"/><stop offset="0.742" stop-color="#ffaf00"/><stop offset="1.000" stop-color="#ffb200"/></linearGradient><linearGradient id="s28" gradientUnits="userSpaceOnUse" x1="0" y1="331.1" x2="0" y2="370.1"><stop offset="0.000" stop-color="#ff0000"/><stop offset="0.256" stop-color="#ff0300"/><stop offset="0.346" stop-color="#ff1200"/><stop offset="0.462" stop-color="#ff4500"/><stop offset="0.590" stop-color="#ff8300"/><stop offset="0.654" stop-color="#ffa500"/><stop offset="0.731" stop-color="#ffb600"/><stop offset="1.000" stop-color="#ffbb00"/></linearGradient><linearGradient id="s29" gradientUnits="userSpaceOnUse" x1="0" y1="330.5" x2="0" y2="370.1"><stop offset="0.000" stop-color="#ff0000"/><stop offset="0.253" stop-color="#ff0300"/><stop offset="0.341" stop-color="#ff1200"/><stop offset="0.455" stop-color="#ff4500"/><stop offset="0.581" stop-color="#ff8400"/><stop offset="0.644" stop-color="#ffa900"/><stop offset="0.707" stop-color="#ffbc00"/><stop offset="0.972" stop-color="#ffc300"/><stop offset="1.000" stop-color="#ffc300"/></linearGradient><linearGradient id="s30" gradientUnits="userSpaceOnUse" x1="0" y1="329.9" x2="0" y2="370.2"><stop offset="0.000" stop-color="#ff0000"/><stop offset="0.236" stop-color="#ff0200"/><stop offset="0.335" stop-color="#ff1200"/><stop offset="0.447" stop-color="#ff4500"/><stop offset="0.571" stop-color="#ff8500"/><stop offset="0.646" stop-color="#ffb300"/><stop offset="0.708" stop-color="#ffc400"/><stop offset="0.969" stop-color="#ffcb00"/><stop offset="1.000" stop-color="#ffcb00"/></linearGradient><linearGradient id="s31" gradientUnits="userSpaceOnUse" x1="0" y1="329.3" x2="0" y2="370.2"><stop offset="0.000" stop-color="#ff0000"/><stop offset="0.232" stop-color="#ff0200"/><stop offset="0.330" stop-color="#ff1200"/><stop offset="0.440" stop-color="#ff4500"/><stop offset="0.562" stop-color="#ff8600"/><stop offset="0.635" stop-color="#ffb700"/><stop offset="0.696" stop-color="#ffcb00"/><stop offset="0.892" stop-color="#ffd300"/><stop offset="1.000" stop-color="#ffd400"/></linearGradient><linearGradient id="s32" gradientUnits="userSpaceOnUse" x1="0" y1="328.7" x2="0" y2="370.3"><stop offset="0.000" stop-color="#ff0000"/><stop offset="0.228" stop-color="#ff0200"/><stop offset="0.325" stop-color="#ff1200"/><stop offset="0.433" stop-color="#ff4500"/><stop offset="0.541" stop-color="#ff7d00"/><stop offset="0.625" stop-color="#ffba00"/><stop offset="0.685" stop-color="#ffd100"/><stop offset="0.842" stop-color="#ffdb00"/><stop offset="1.000" stop-color="#ffdc00"/></linearGradient><linearGradient id="s33" gradientUnits="userSpaceOnUse" x1="0" y1="328.1" x2="0" y2="370.3"><stop offset="0.000" stop-color="#ff0000"/><stop offset="0.225" stop-color="#ff0200"/><stop offset="0.320" stop-color="#ff1200"/><stop offset="0.426" stop-color="#ff4600"/><stop offset="0.533" stop-color="#ff7e00"/><stop offset="0.616" stop-color="#ffbd00"/><stop offset="0.675" stop-color="#ffd700"/><stop offset="0.805" stop-color="#ffe300"/><stop offset="1.000" stop-color="#ffe500"/></linearGradient><linearGradient id="s34" gradientUnits="userSpaceOnUse" x1="0" y1="327.5" x2="0" y2="370.4"><stop offset="0.000" stop-color="#ff0000"/><stop offset="0.221" stop-color="#ff0200"/><stop offset="0.315" stop-color="#ff1200"/><stop offset="0.420" stop-color="#ff4600"/><stop offset="0.524" stop-color="#ff7e00"/><stop offset="0.618" stop-color="#ffc700"/><stop offset="0.664" stop-color="#ffdd00"/><stop offset="0.781" stop-color="#ffeb00"/><stop offset="1.000" stop-color="#ffee00"/></linearGradient><linearGradient id="s35" gradientUnits="userSpaceOnUse" x1="0" y1="326.9" x2="0" y2="370.5"><stop offset="0.000" stop-color="#ff0000"/><stop offset="0.218" stop-color="#ff0200"/><stop offset="0.310" stop-color="#ff1200"/><stop offset="0.413" stop-color="#ff4600"/><stop offset="0.516" stop-color="#ff7e00"/><stop offset="0.608" stop-color="#ffc900"/><stop offset="0.654" stop-color="#ffe100"/><stop offset="0.757" stop-color="#fff000"/><stop offset="1.000" stop-color="#fff400"/></linearGradient><linearGradient id="s36" gradientUnits="userSpaceOnUse" x1="0" y1="326.3" x2="0" y2="370.6"><stop offset="0.000" stop-color="#ff0000"/><stop offset="0.214" stop-color="#ff0200"/><stop offset="0.305" stop-color="#ff1300"/><stop offset="0.406" stop-color="#ff4600"/><stop offset="0.508" stop-color="#ff7f00"/><stop offset="0.598" stop-color="#ffca00"/><stop offset="0.643" stop-color="#ffe300"/><stop offset="0.745" stop-color="#fff400"/><stop offset="1.000" stop-color="#fff900"/></linearGradient><linearGradient id="s37" gradientUnits="userSpaceOnUse" x1="0" y1="325.7" x2="0" y2="370.7"><stop offset="0.000" stop-color="#ff0000"/><stop offset="0.211" stop-color="#ff0200"/><stop offset="0.300" stop-color="#ff1300"/><stop offset="0.389" stop-color="#ff4000"/><stop offset="0.500" stop-color="#ff7f00"/><stop offset="0.600" stop-color="#ffd300"/><stop offset="0.644" stop-color="#ffe900"/><stop offset="0.744" stop-color="#fff900"/><stop offset="1.000" stop-color="#fffd00"/></linearGradient><linearGradient id="s38" gradientUnits="userSpaceOnUse" x1="0" y1="325.1" x2="0" y2="370.8"><stop offset="0.000" stop-color="#ff0000"/><stop offset="0.208" stop-color="#ff0200"/><stop offset="0.295" stop-color="#ff1300"/><stop offset="0.383" stop-color="#ff4000"/><stop offset="0.492" stop-color="#ff8000"/><stop offset="0.591" stop-color="#ffd500"/><stop offset="0.635" stop-color="#ffeb00"/><stop offset="0.733" stop-color="#fffd00"/><stop offset="1.000" stop-color="#fdff00"/></linearGradient><linearGradient id="s39" gradientUnits="userSpaceOnUse" x1="0" y1="324.5" x2="0" y2="370.9"><stop offset="0.000" stop-color="#ff0000"/><stop offset="0.205" stop-color="#ff0200"/><stop offset="0.291" stop-color="#ff1300"/><stop offset="0.377" stop-color="#ff4000"/><stop offset="0.485" stop-color="#ff8000"/><stop offset="0.582" stop-color="#ffd600"/><stop offset="0.614" stop-color="#ffea00"/><stop offset="0.700" stop-color="#fffe00"/><stop offset="1.000" stop-color="#f8ff00"/></linearGradient><linearGradient id="s40" gradientUnits="userSpaceOnUse" x1="0" y1="323.9" x2="0" y2="371.1"><stop offset="0.000" stop-color="#ff0000"/><stop offset="0.201" stop-color="#ff0200"/><stop offset="0.286" stop-color="#ff1400"/><stop offset="0.371" stop-color="#ff4100"/><stop offset="0.476" stop-color="#ff8100"/><stop offset="0.572" stop-color="#ffd800"/><stop offset="0.603" stop-color="#ffec00"/><stop offset="0.678" stop-color="#feff00"/><stop offset="0.879" stop-color="#f4ff00"/><stop offset="1.000" stop-color="#f4ff00"/></linearGradient><linearGradient id="s41" gradientUnits="userSpaceOnUse" x1="0" y1="323.3" x2="0" y2="371.4"><stop offset="0.000" stop-color="#ff0000"/><stop offset="0.198" stop-color="#ff0200"/><stop offset="0.281" stop-color="#ff1400"/><stop offset="0.364" stop-color="#ff4100"/><stop offset="0.468" stop-color="#ff8100"/><stop offset="0.572" stop-color="#ffe100"/><stop offset="0.624" stop-color="#fff900"/><stop offset="0.666" stop-color="#fbff00"/><stop offset="0.843" stop-color="#f0ff00"/><stop offset="1.000" stop-color="#f0ff00"/></linearGradient><linearGradient id="s42" gradientUnits="userSpaceOnUse" x1="0" y1="322.7" x2="0" y2="371.6"><stop offset="0.000" stop-color="#ff0000"/><stop offset="0.194" stop-color="#ff0200"/><stop offset="0.276" stop-color="#ff1400"/><stop offset="0.358" stop-color="#ff4100"/><stop offset="0.460" stop-color="#ff8200"/><stop offset="0.563" stop-color="#ffe300"/><stop offset="0.614" stop-color="#fffb00"/><stop offset="0.726" stop-color="#f0ff00"/><stop offset="1.000" stop-color="#ebff00"/></linearGradient><linearGradient id="s43" gradientUnits="userSpaceOnUse" x1="0" y1="322.1" x2="0" y2="371.8"><stop offset="0.000" stop-color="#ff0000"/><stop offset="0.191" stop-color="#ff0200"/><stop offset="0.272" stop-color="#ff1400"/><stop offset="0.352" stop-color="#ff4100"/><stop offset="0.453" stop-color="#ff8200"/><stop offset="0.553" stop-color="#ffe400"/><stop offset="0.603" stop-color="#fffe00"/><stop offset="0.694" stop-color="#edff00"/><stop offset="1.000" stop-color="#e7ff00"/></linearGradient><linearGradient id="s44" gradientUnits="userSpaceOnUse" x1="0" y1="321.5" x2="0" y2="372.0"><stop offset="0.000" stop-color="#ff0000"/><stop offset="0.188" stop-color="#ff0200"/><stop offset="0.267" stop-color="#ff1400"/><stop offset="0.346" stop-color="#ff4200"/><stop offset="0.445" stop-color="#ff8300"/><stop offset="0.544" stop-color="#ffe500"/><stop offset="0.594" stop-color="#feff00"/><stop offset="0.673" stop-color="#ebff00"/><stop offset="0.910" stop-color="#e3ff00"/><stop offset="1.000" stop-color="#e3ff00"/></linearGradient><linearGradient id="s45" gradientUnits="userSpaceOnUse" x1="0" y1="321.0" x2="0" y2="372.3"><stop offset="0.000" stop-color="#ff0000"/><stop offset="0.185" stop-color="#ff0300"/><stop offset="0.263" stop-color="#ff1600"/><stop offset="0.351" stop-color="#ff4a00"/><stop offset="0.439" stop-color="#ff8500"/><stop offset="0.536" stop-color="#ffe800"/><stop offset="0.575" stop-color="#fffe00"/><stop offset="0.653" stop-color="#e9ff00"/><stop offset="0.858" stop-color="#dfff00"/><stop offset="1.000" stop-color="#dfff00"/></linearGradient><linearGradient id="s46" gradientUnits="userSpaceOnUse" x1="0" y1="320.5" x2="0" y2="372.5"><stop offset="0.000" stop-color="#ff0000"/><stop offset="0.183" stop-color="#ff0300"/><stop offset="0.250" stop-color="#ff1100"/><stop offset="0.337" stop-color="#ff4500"/><stop offset="0.433" stop-color="#ff8700"/><stop offset="0.529" stop-color="#ffea00"/><stop offset="0.567" stop-color="#feff00"/><stop offset="0.635" stop-color="#e7ff00"/><stop offset="0.827" stop-color="#dcff00"/><stop offset="1.000" stop-color="#dbff00"/></linearGradient><linearGradient id="s47" gradientUnits="userSpaceOnUse" x1="0" y1="320.0" x2="0" y2="372.8"><stop offset="0.000" stop-color="#ff0000"/><stop offset="0.180" stop-color="#ff0300"/><stop offset="0.246" stop-color="#ff1100"/><stop offset="0.332" stop-color="#ff4500"/><stop offset="0.417" stop-color="#ff7f00"/><stop offset="0.521" stop-color="#ffec00"/><stop offset="0.549" stop-color="#fffe00"/><stop offset="0.625" stop-color="#e4ff00"/><stop offset="0.805" stop-color="#d8ff00"/><stop offset="1.000" stop-color="#d8ff00"/></linearGradient><linearGradient id="s48" gradientUnits="userSpaceOnUse" x1="0" y1="319.5" x2="0" y2="373.1"><stop offset="0.000" stop-color="#ff0000"/><stop offset="0.177" stop-color="#ff0300"/><stop offset="0.243" stop-color="#ff1100"/><stop offset="0.327" stop-color="#ff4500"/><stop offset="0.411" stop-color="#ff7f00"/><stop offset="0.513" stop-color="#ffed00"/><stop offset="0.541" stop-color="#ffff00"/><stop offset="0.616" stop-color="#e2ff00"/><stop offset="0.784" stop-color="#d5ff00"/><stop offset="1.000" stop-color="#d4ff00"/></linearGradient><linearGradient id="s49" gradientUnits="userSpaceOnUse" x1="0" y1="319.0" x2="0" y2="373.4"><stop offset="0.000" stop-color="#ff0000"/><stop offset="0.175" stop-color="#ff0300"/><stop offset="0.239" stop-color="#ff1100"/><stop offset="0.322" stop-color="#ff4500"/><stop offset="0.405" stop-color="#ff7f00"/><stop offset="0.506" stop-color="#ffee00"/><stop offset="0.534" stop-color="#feff00"/><stop offset="0.607" stop-color="#dfff00"/><stop offset="0.763" stop-color="#d1ff00"/><stop offset="1.000" stop-color="#d0ff00"/></linearGradient><linearGradient id="s50" gradientUnits="userSpaceOnUse" x1="0" y1="318.5" x2="0" y2="373.6"><stop offset="0.000" stop-color="#ff0000"/><stop offset="0.172" stop-color="#ff0300"/><stop offset="0.236" stop-color="#ff1100"/><stop offset="0.317" stop-color="#ff4500"/><stop offset="0.399" stop-color="#ff7f00"/><stop offset="0.499" stop-color="#ffef00"/><stop offset="0.526" stop-color="#fdff00"/><stop offset="0.598" stop-color="#ddff00"/><stop offset="0.753" stop-color="#ceff00"/><stop offset="1.000" stop-color="#cdff00"/></linearGradient><linearGradient id="s51" gradientUnits="userSpaceOnUse" x1="0" y1="318.2" x2="0" y2="373.9"><stop offset="0.000" stop-color="#ff0000"/><stop offset="0.162" stop-color="#ff0200"/><stop offset="0.233" stop-color="#ff1400"/><stop offset="0.305" stop-color="#ff4100"/><stop offset="0.395" stop-color="#ff8400"/><stop offset="0.494" stop-color="#fff300"/><stop offset="0.512" stop-color="#ffff00"/><stop offset="0.584" stop-color="#dcff00"/><stop offset="0.727" stop-color="#cbff00"/><stop offset="1.000" stop-color="#c9ff00"/></linearGradient><linearGradient id="s52" gradientUnits="userSpaceOnUse" x1="0" y1="318.0" x2="0" y2="374.2"><stop offset="0.000" stop-color="#ff0000"/><stop offset="0.160" stop-color="#ff0200"/><stop offset="0.231" stop-color="#ff1500"/><stop offset="0.302" stop-color="#ff4400"/><stop offset="0.382" stop-color="#ff7f00"/><stop offset="0.480" stop-color="#ffef00"/><stop offset="0.507" stop-color="#fcff00"/><stop offset="0.578" stop-color="#d9ff00"/><stop offset="0.720" stop-color="#c7ff00"/><stop offset="1.000" stop-color="#c6ff00"/></linearGradient><linearGradient id="s53" gradientUnits="userSpaceOnUse" x1="0" y1="317.8" x2="0" y2="374.5"><stop offset="0.000" stop-color="#ff0000"/><stop offset="0.159" stop-color="#ff0200"/><stop offset="0.229" stop-color="#ff1500"/><stop offset="0.300" stop-color="#ff4400"/><stop offset="0.379" stop-color="#ff7f00"/><stop offset="0.476" stop-color="#fff200"/><stop offset="0.493" stop-color="#ffff00"/><stop offset="0.564" stop-color="#d8ff00"/><stop offset="0.687" stop-color="#c5ff00"/><stop offset="1.000" stop-color="#c2ff00"/></linearGradient><linearGradient id="s54" gradientUnits="userSpaceOnUse" x1="0" y1="317.5" x2="0" y2="374.9"><stop offset="0.000" stop-color="#ff0000"/><stop offset="0.157" stop-color="#ff0200"/><stop offset="0.226" stop-color="#ff1500"/><stop offset="0.296" stop-color="#ff4400"/><stop offset="0.375" stop-color="#ff7f00"/><stop offset="0.470" stop-color="#fff200"/><stop offset="0.488" stop-color="#ffff00"/><stop offset="0.557" stop-color="#d7ff00"/><stop offset="0.679" stop-color="#c2ff00"/><stop offset="1.000" stop-color="#bfff00"/></linearGradient><linearGradient id="s55" gradientUnits="userSpaceOnUse" x1="0" y1="317.4" x2="0" y2="375.3"><stop offset="0.000" stop-color="#ff0000"/><stop offset="0.155" stop-color="#ff0300"/><stop offset="0.216" stop-color="#ff1100"/><stop offset="0.294" stop-color="#ff4600"/><stop offset="0.371" stop-color="#ff8200"/><stop offset="0.466" stop-color="#fff500"/><stop offset="0.484" stop-color="#fcff00"/><stop offset="0.553" stop-color="#d4ff00"/><stop offset="0.674" stop-color="#bfff00"/><stop offset="1.000" stop-color="#bcff00"/></linearGradient><linearGradient id="s56" gradientUnits="userSpaceOnUse" x1="0" y1="317.3" x2="0" y2="375.7"><stop offset="0.000" stop-color="#ff0000"/><stop offset="0.154" stop-color="#ff0300"/><stop offset="0.214" stop-color="#ff1100"/><stop offset="0.291" stop-color="#ff4600"/><stop offset="0.368" stop-color="#ff8300"/><stop offset="0.463" stop-color="#fff600"/><stop offset="0.480" stop-color="#fbff00"/><stop offset="0.548" stop-color="#d3ff00"/><stop offset="0.668" stop-color="#bdff00"/><stop offset="1.000" stop-color="#baff00"/></linearGradient><linearGradient id="s57" gradientUnits="userSpaceOnUse" x1="0" y1="317.2" x2="0" y2="376.1"><stop offset="0.000" stop-color="#ff0000"/><stop offset="0.153" stop-color="#ff0300"/><stop offset="0.212" stop-color="#ff1100"/><stop offset="0.289" stop-color="#ff4600"/><stop offset="0.365" stop-color="#ff8300"/><stop offset="0.459" stop-color="#fff600"/><stop offset="0.476" stop-color="#fbff00"/><stop offset="0.544" stop-color="#d2ff00"/><stop offset="0.663" stop-color="#bbff00"/><stop offset="1.000" stop-color="#b8ff00"/></linearGradient><linearGradient id="s58" gradientUnits="userSpaceOnUse" x1="0" y1="317.2" x2="0" y2="376.5"><stop offset="0.000" stop-color="#ff0000"/><stop offset="0.152" stop-color="#ff0300"/><stop offset="0.211" stop-color="#ff1100"/><stop offset="0.287" stop-color="#ff4600"/><stop offset="0.362" stop-color="#ff8300"/><stop offset="0.455" stop-color="#fff600"/><stop offset="0.472" stop-color="#fbff00"/><stop offset="0.539" stop-color="#d1ff00"/><stop offset="0.657" stop-color="#baff00"/><stop offset="1.000" stop-color="#b6ff00"/></linearGradient><linearGradient id="s59" gradientUnits="userSpaceOnUse" x1="0" y1="317.1" x2="0" y2="376.9"><stop offset="0.000" stop-color="#ff0000"/><stop offset="0.150" stop-color="#ff0300"/><stop offset="0.209" stop-color="#ff1100"/><stop offset="0.284" stop-color="#ff4600"/><stop offset="0.359" stop-color="#ff8300"/><stop offset="0.451" stop-color="#fff700"/><stop offset="0.468" stop-color="#fbff00"/><stop offset="0.535" stop-color="#d0ff00"/><stop offset="0.652" stop-color="#b8ff00"/><stop offset="1.000" stop-color="#b4ff00"/></linearGradient><linearGradient id="s60" gradientUnits="userSpaceOnUse" x1="0" y1="317.0" x2="0" y2="377.3"><stop offset="0.000" stop-color="#ff0000"/><stop offset="0.149" stop-color="#ff0300"/><stop offset="0.207" stop-color="#ff1100"/><stop offset="0.282" stop-color="#ff4600"/><stop offset="0.356" stop-color="#ff8300"/><stop offset="0.448" stop-color="#fff700"/><stop offset="0.464" stop-color="#faff00"/><stop offset="0.530" stop-color="#d0ff00"/><stop offset="0.646" stop-color="#b6ff00"/><stop offset="1.000" stop-color="#b3ff00"/></linearGradient><linearGradient id="s61" gradientUnits="userSpaceOnUse" x1="0" y1="317.0" x2="0" y2="377.8"><stop offset="0.000" stop-color="#ff0000"/><stop offset="0.148" stop-color="#ff0300"/><stop offset="0.206" stop-color="#ff1100"/><stop offset="0.271" stop-color="#ff4000"/><stop offset="0.354" stop-color="#ff8400"/><stop offset="0.444" stop-color="#fff700"/><stop offset="0.461" stop-color="#faff00"/><stop offset="0.526" stop-color="#cfff00"/><stop offset="0.642" stop-color="#b5ff00"/><stop offset="1.000" stop-color="#b1ff00"/></linearGradient><linearGradient id="s62" gradientUnits="userSpaceOnUse" x1="0" y1="316.9" x2="0" y2="378.2"><stop offset="0.000" stop-color="#ff0000"/><stop offset="0.147" stop-color="#ff0300"/><stop offset="0.204" stop-color="#ff1100"/><stop offset="0.269" stop-color="#ff4000"/><stop offset="0.351" stop-color="#ff8400"/><stop offset="0.441" stop-color="#fff800"/><stop offset="0.457" stop-color="#f9ff00"/><stop offset="0.522" stop-color="#ceff00"/><stop offset="0.637" stop-color="#b3ff00"/><stop offset="1.000" stop-color="#afff00"/></linearGradient><linearGradient id="s63" gradientUnits="userSpaceOnUse" x1="0" y1="316.9" x2="0" y2="378.6"><stop offset="0.000" stop-color="#ff0000"/><stop offset="0.146" stop-color="#ff0300"/><stop offset="0.203" stop-color="#ff1100"/><stop offset="0.267" stop-color="#ff4000"/><stop offset="0.348" stop-color="#ff8400"/><stop offset="0.438" stop-color="#fff800"/><stop offset="0.454" stop-color="#f9ff00"/><stop offset="0.519" stop-color="#cdff00"/><stop offset="0.632" stop-color="#b1ff00"/><stop offset="1.000" stop-color="#adff00"/></linearGradient><linearGradient id="s64" gradientUnits="userSpaceOnUse" x1="0" y1="316.9" x2="0" y2="379.1"><stop offset="0.000" stop-color="#ff0000"/><stop offset="0.145" stop-color="#ff0300"/><stop offset="0.201" stop-color="#ff1100"/><stop offset="0.265" stop-color="#ff4000"/><stop offset="0.346" stop-color="#ff8400"/><stop offset="0.434" stop-color="#fff800"/><stop offset="0.450" stop-color="#f9ff00"/><stop offset="0.515" stop-color="#ccff00"/><stop offset="0.627" stop-color="#b0ff00"/><stop offset="1.000" stop-color="#abff00"/></linearGradient><linearGradient id="s65" gradientUnits="userSpaceOnUse" x1="0" y1="316.9" x2="0" y2="379.5"><stop offset="0.000" stop-color="#ff0000"/><stop offset="0.144" stop-color="#ff0300"/><stop offset="0.200" stop-color="#ff1100"/><stop offset="0.264" stop-color="#ff4000"/><stop offset="0.343" stop-color="#ff8400"/><stop offset="0.431" stop-color="#fff800"/><stop offset="0.439" stop-color="#ffff00"/><stop offset="0.511" stop-color="#ccff00"/><stop offset="0.623" stop-color="#aeff00"/><stop offset="1.000" stop-color="#a9ff00"/></linearGradient><linearGradient id="s66" gradientUnits="userSpaceOnUse" x1="0" y1="316.9" x2="0" y2="380.1"><stop offset="0.000" stop-color="#ff0000"/><stop offset="0.143" stop-color="#ff0300"/><stop offset="0.198" stop-color="#ff1100"/><stop offset="0.261" stop-color="#ff4000"/><stop offset="0.340" stop-color="#ff8400"/><stop offset="0.428" stop-color="#fff800"/><stop offset="0.435" stop-color="#ffff00"/><stop offset="0.507" stop-color="#cbff00"/><stop offset="0.618" stop-color="#acff00"/><stop offset="0.982" stop-color="#a7ff00"/><stop offset="1.000" stop-color="#a7ff00"/></linearGradient><linearGradient id="s67" gradientUnits="userSpaceOnUse" x1="0" y1="316.9" x2="0" y2="380.6"><stop offset="0.000" stop-color="#ff0000"/><stop offset="0.141" stop-color="#ff0300"/><stop offset="0.196" stop-color="#ff1100"/><stop offset="0.259" stop-color="#ff4000"/><stop offset="0.337" stop-color="#ff8400"/><stop offset="0.424" stop-color="#fff800"/><stop offset="0.432" stop-color="#ffff00"/><stop offset="0.502" stop-color="#caff00"/><stop offset="0.612" stop-color="#abff00"/><stop offset="0.934" stop-color="#a6ff00"/><stop offset="1.000" stop-color="#a6ff00"/></linearGradient><linearGradient id="s68" gradientUnits="userSpaceOnUse" x1="0" y1="316.9" x2="0" y2="381.2"><stop offset="0.000" stop-color="#ff0000"/><stop offset="0.140" stop-color="#ff0300"/><stop offset="0.194" stop-color="#ff1100"/><stop offset="0.257" stop-color="#ff4000"/><stop offset="0.335" stop-color="#ff8400"/><stop offset="0.420" stop-color="#fff800"/><stop offset="0.428" stop-color="#ffff00"/><stop offset="0.498" stop-color="#caff00"/><stop offset="0.607" stop-color="#a9ff00"/><stop offset="0.895" stop-color="#a4ff00"/><stop offset="1.000" stop-color="#a4ff00"/></linearGradient><linearGradient id="s69" gradientUnits="userSpaceOnUse" x1="0" y1="317.0" x2="0" y2="381.8"><stop offset="0.000" stop-color="#ff0000"/><stop offset="0.139" stop-color="#ff0300"/><stop offset="0.193" stop-color="#ff1100"/><stop offset="0.255" stop-color="#ff4000"/><stop offset="0.332" stop-color="#ff8400"/><stop offset="0.416" stop-color="#fff800"/><stop offset="0.424" stop-color="#ffff00"/><stop offset="0.494" stop-color="#c9ff00"/><stop offset="0.602" stop-color="#a8ff00"/><stop offset="0.864" stop-color="#a2ff00"/><stop offset="1.000" stop-color="#a2ff00"/></linearGradient><linearGradient id="s70" gradientUnits="userSpaceOnUse" x1="0" y1="317.0" x2="0" y2="382.4"><stop offset="0.000" stop-color="#ff0000"/><stop offset="0.138" stop-color="#ff0300"/><stop offset="0.191" stop-color="#ff1100"/><stop offset="0.252" stop-color="#ff4000"/><stop offset="0.329" stop-color="#ff8400"/><stop offset="0.413" stop-color="#fff900"/><stop offset="0.421" stop-color="#ffff00"/><stop offset="0.489" stop-color="#c9ff00"/><stop offset="0.596" stop-color="#a6ff00"/><stop offset="0.834" stop-color="#a0ff00"/><stop offset="1.000" stop-color="#a0ff00"/></linearGradient><linearGradient id="s71" gradientUnits="userSpaceOnUse" x1="0" y1="317.0" x2="0" y2="382.9"><stop offset="0.000" stop-color="#ff0000"/><stop offset="0.136" stop-color="#ff0300"/><stop offset="0.190" stop-color="#ff1100"/><stop offset="0.250" stop-color="#ff4000"/><stop offset="0.326" stop-color="#ff8400"/><stop offset="0.409" stop-color="#fff900"/><stop offset="0.417" stop-color="#ffff00"/><stop offset="0.485" stop-color="#c8ff00"/><stop offset="0.591" stop-color="#a4ff00"/><stop offset="0.796" stop-color="#9dff00"/><stop offset="1.000" stop-color="#9dff00"/></linearGradient><linearGradient id="s72" gradientUnits="userSpaceOnUse" x1="0" y1="317.0" x2="0" y2="383.5"><stop offset="0.000" stop-color="#ff0000"/><stop offset="0.135" stop-color="#ff0200"/><stop offset="0.188" stop-color="#ff1000"/><stop offset="0.256" stop-color="#ff4500"/><stop offset="0.323" stop-color="#ff8100"/><stop offset="0.406" stop-color="#fff700"/><stop offset="0.421" stop-color="#faff00"/><stop offset="0.489" stop-color="#c5ff00"/><stop offset="0.594" stop-color="#a1ff00"/><stop offset="0.827" stop-color="#9bff00"/><stop offset="1.000" stop-color="#9bff00"/></linearGradient><linearGradient id="s73" gradientUnits="userSpaceOnUse" x1="0" y1="317.2" x2="0" y2="384.1"><stop offset="0.000" stop-color="#ff0000"/><stop offset="0.135" stop-color="#ff0200"/><stop offset="0.187" stop-color="#ff1000"/><stop offset="0.254" stop-color="#ff4500"/><stop offset="0.321" stop-color="#ff8100"/><stop offset="0.404" stop-color="#fff700"/><stop offset="0.419" stop-color="#faff00"/><stop offset="0.486" stop-color="#c4ff00"/><stop offset="0.590" stop-color="#9fff00"/><stop offset="0.800" stop-color="#98ff00"/><stop offset="1.000" stop-color="#98ff00"/></linearGradient><linearGradient id="s74" gradientUnits="userSpaceOnUse" x1="0" y1="317.3" x2="0" y2="384.6"><stop offset="0.000" stop-color="#ff0000"/><stop offset="0.134" stop-color="#ff0200"/><stop offset="0.186" stop-color="#ff1000"/><stop offset="0.253" stop-color="#ff4500"/><stop offset="0.319" stop-color="#ff8100"/><stop offset="0.401" stop-color="#fff700"/><stop offset="0.416" stop-color="#f9ff00"/><stop offset="0.483" stop-color="#c3ff00"/><stop offset="0.587" stop-color="#9dff00"/><stop offset="0.780" stop-color="#96ff00"/><stop offset="1.000" stop-color="#96ff00"/></linearGradient><linearGradient id="s75" gradientUnits="userSpaceOnUse" x1="0" y1="317.5" x2="0" y2="385.2"><stop offset="0.000" stop-color="#ff0000"/><stop offset="0.133" stop-color="#ff0300"/><stop offset="0.185" stop-color="#ff1100"/><stop offset="0.251" stop-color="#ff4600"/><stop offset="0.318" stop-color="#ff8300"/><stop offset="0.399" stop-color="#fff800"/><stop offset="0.406" stop-color="#ffff00"/><stop offset="0.473" stop-color="#c6ff00"/><stop offset="0.576" stop-color="#9cff00"/><stop offset="0.716" stop-color="#93ff00"/><stop offset="1.000" stop-color="#93ff00"/></linearGradient><linearGradient id="s76" gradientUnits="userSpaceOnUse" x1="0" y1="317.6" x2="0" y2="385.8"><stop offset="0.000" stop-color="#ff0000"/><stop offset="0.132" stop-color="#ff0300"/><stop offset="0.183" stop-color="#ff1200"/><stop offset="0.242" stop-color="#ff4000"/><stop offset="0.315" stop-color="#ff8400"/><stop offset="0.396" stop-color="#fff900"/><stop offset="0.411" stop-color="#f7ff00"/><stop offset="0.469" stop-color="#c5ff00"/><stop offset="0.572" stop-color="#9aff00"/><stop offset="0.704" stop-color="#91ff00"/><stop offset="1.000" stop-color="#91ff00"/></linearGradient><linearGradient id="s77" gradientUnits="userSpaceOnUse" x1="0" y1="317.7" x2="0" y2="386.4"><stop offset="0.000" stop-color="#ff0000"/><stop offset="0.131" stop-color="#ff0300"/><stop offset="0.182" stop-color="#ff1200"/><stop offset="0.240" stop-color="#ff4000"/><stop offset="0.313" stop-color="#ff8500"/><stop offset="0.393" stop-color="#fffa00"/><stop offset="0.408" stop-color="#f7ff00"/><stop offset="0.466" stop-color="#c4ff00"/><stop offset="0.568" stop-color="#98ff00"/><stop offset="0.692" stop-color="#8eff00"/><stop offset="1.000" stop-color="#8eff00"/></linearGradient><linearGradient id="s78" gradientUnits="userSpaceOnUse" x1="0" y1="317.8" x2="0" y2="386.9"><stop offset="0.000" stop-color="#ff0000"/><stop offset="0.130" stop-color="#ff0300"/><stop offset="0.181" stop-color="#ff1200"/><stop offset="0.239" stop-color="#ff4100"/><stop offset="0.311" stop-color="#ff8600"/><stop offset="0.391" stop-color="#fffa00"/><stop offset="0.405" stop-color="#f6ff00"/><stop offset="0.463" stop-color="#c3ff00"/><stop offset="0.571" stop-color="#94ff00"/><stop offset="0.731" stop-color="#8cff00"/><stop offset="1.000" stop-color="#8bff00"/></linearGradient><linearGradient id="s79" gradientUnits="userSpaceOnUse" x1="0" y1="317.9" x2="0" y2="387.5"><stop offset="0.000" stop-color="#ff0000"/><stop offset="0.129" stop-color="#ff0300"/><stop offset="0.180" stop-color="#ff1300"/><stop offset="0.237" stop-color="#ff4200"/><stop offset="0.309" stop-color="#ff8700"/><stop offset="0.388" stop-color="#fffb00"/><stop offset="0.417" stop-color="#e8ff00"/><stop offset="0.467" stop-color="#bfff00"/><stop offset="0.568" stop-color="#92ff00"/><stop offset="0.719" stop-color="#89ff00"/><stop offset="1.000" stop-color="#89ff00"/></linearGradient><linearGradient id="s80" gradientUnits="userSpaceOnUse" x1="0" y1="318.0" x2="0" y2="387.9"><stop offset="0.000" stop-color="#ff0000"/><stop offset="0.122" stop-color="#ff0200"/><stop offset="0.179" stop-color="#ff1400"/><stop offset="0.236" stop-color="#ff4300"/><stop offset="0.308" stop-color="#ff8700"/><stop offset="0.386" stop-color="#fffb00"/><stop offset="0.422" stop-color="#e1ff00"/><stop offset="0.465" stop-color="#beff00"/><stop offset="0.565" stop-color="#90ff00"/><stop offset="0.701" stop-color="#87ff00"/><stop offset="1.000" stop-color="#86ff00"/></linearGradient><linearGradient id="s81" gradientUnits="userSpaceOnUse" x1="0" y1="318.1" x2="0" y2="388.3"><stop offset="0.000" stop-color="#ff0000"/><stop offset="0.121" stop-color="#ff0200"/><stop offset="0.178" stop-color="#ff1500"/><stop offset="0.235" stop-color="#ff4400"/><stop offset="0.306" stop-color="#ff8800"/><stop offset="0.385" stop-color="#fffb00"/><stop offset="0.413" stop-color="#e8ff00"/><stop offset="0.463" stop-color="#bfff00"/><stop offset="0.563" stop-color="#8fff00"/><stop offset="0.676" stop-color="#85ff00"/><stop offset="1.000" stop-color="#84ff00"/></linearGradient><linearGradient id="s82" gradientUnits="userSpaceOnUse" x1="0" y1="318.2" x2="0" y2="388.8"><stop offset="0.000" stop-color="#ff0000"/><stop offset="0.121" stop-color="#ff0300"/><stop offset="0.170" stop-color="#ff1100"/><stop offset="0.234" stop-color="#ff4400"/><stop offset="0.305" stop-color="#ff8600"/><stop offset="0.383" stop-color="#fff800"/><stop offset="0.390" stop-color="#ffff00"/><stop offset="0.461" stop-color="#c0ff00"/><stop offset="0.567" stop-color="#8dff00"/><stop offset="0.688" stop-color="#82ff00"/><stop offset="1.000" stop-color="#81ff00"/></linearGradient><linearGradient id="s83" gradientUnits="userSpaceOnUse" x1="0" y1="318.4" x2="0" y2="389.2"><stop offset="0.000" stop-color="#ff0000"/><stop offset="0.120" stop-color="#ff0300"/><stop offset="0.170" stop-color="#ff1100"/><stop offset="0.233" stop-color="#ff4300"/><stop offset="0.304" stop-color="#ff8400"/><stop offset="0.388" stop-color="#fffd00"/><stop offset="0.466" stop-color="#beff00"/><stop offset="0.572" stop-color="#8aff00"/><stop offset="0.699" stop-color="#80ff00"/><stop offset="1.000" stop-color="#7fff00"/></linearGradient><linearGradient id="s84" gradientUnits="userSpaceOnUse" x1="0" y1="318.7" x2="0" y2="389.6"><stop offset="0.000" stop-color="#ff0000"/><stop offset="0.120" stop-color="#ff0300"/><stop offset="0.169" stop-color="#ff1200"/><stop offset="0.233" stop-color="#ff4400"/><stop offset="0.303" stop-color="#ff8600"/><stop offset="0.381" stop-color="#fff700"/><stop offset="0.395" stop-color="#f9ff00"/><stop offset="0.458" stop-color="#c1ff00"/><stop offset="0.571" stop-color="#88ff00"/><stop offset="0.691" stop-color="#7dff00"/><stop offset="1.000" stop-color="#7cff00"/></linearGradient><linearGradient id="s85" gradientUnits="userSpaceOnUse" x1="0" y1="319.0" x2="0" y2="390.0"><stop offset="0.000" stop-color="#ff0000"/><stop offset="0.113" stop-color="#ff0300"/><stop offset="0.169" stop-color="#ff1500"/><stop offset="0.225" stop-color="#ff4100"/><stop offset="0.296" stop-color="#ff8000"/><stop offset="0.380" stop-color="#fffa00"/><stop offset="0.394" stop-color="#f7ff00"/><stop offset="0.458" stop-color="#bfff00"/><stop offset="0.570" stop-color="#85ff00"/><stop offset="0.690" stop-color="#79ff00"/><stop offset="1.000" stop-color="#78ff00"/></linearGradient><linearGradient id="s86" gradientUnits="userSpaceOnUse" x1="0" y1="319.1" x2="0" y2="390.4"><stop offset="0.000" stop-color="#ff0000"/><stop offset="0.112" stop-color="#ff0300"/><stop offset="0.161" stop-color="#ff1100"/><stop offset="0.224" stop-color="#ff4200"/><stop offset="0.294" stop-color="#ff8100"/><stop offset="0.378" stop-color="#fffa00"/><stop offset="0.393" stop-color="#f7ff00"/><stop offset="0.456" stop-color="#bfff00"/><stop offset="0.575" stop-color="#7fff00"/><stop offset="0.694" stop-color="#73ff00"/><stop offset="1.000" stop-color="#72ff00"/></linearGradient><linearGradient id="s87" gradientUnits="userSpaceOnUse" x1="0" y1="319.2" x2="0" y2="390.9"><stop offset="0.000" stop-color="#ff0000"/><stop offset="0.105" stop-color="#ff0200"/><stop offset="0.161" stop-color="#ff1200"/><stop offset="0.223" stop-color="#ff4300"/><stop offset="0.293" stop-color="#ff8200"/><stop offset="0.377" stop-color="#fff900"/><stop offset="0.391" stop-color="#f7ff00"/><stop offset="0.461" stop-color="#bbff00"/><stop offset="0.572" stop-color="#7bff00"/><stop offset="0.677" stop-color="#6dff00"/><stop offset="1.000" stop-color="#6bff00"/></linearGradient><linearGradient id="s88" gradientUnits="userSpaceOnUse" x1="0" y1="319.3" x2="0" y2="391.3"><stop offset="0.000" stop-color="#ff0000"/><stop offset="0.104" stop-color="#ff0300"/><stop offset="0.160" stop-color="#ff1300"/><stop offset="0.222" stop-color="#ff4400"/><stop offset="0.292" stop-color="#ff8200"/><stop offset="0.375" stop-color="#fff900"/><stop offset="0.389" stop-color="#f8ff00"/><stop offset="0.459" stop-color="#bbff00"/><stop offset="0.577" stop-color="#76ff00"/><stop offset="0.688" stop-color="#66ff00"/><stop offset="1.000" stop-color="#65ff00"/></linearGradient><linearGradient id="s89" gradientUnits="userSpaceOnUse" x1="0" y1="319.4" x2="0" y2="391.7"><stop offset="0.000" stop-color="#ff0000"/><stop offset="0.104" stop-color="#ff0300"/><stop offset="0.159" stop-color="#ff1500"/><stop offset="0.221" stop-color="#ff4500"/><stop offset="0.291" stop-color="#ff8300"/><stop offset="0.374" stop-color="#fff900"/><stop offset="0.387" stop-color="#f8ff00"/><stop offset="0.457" stop-color="#bbff00"/><stop offset="0.581" stop-color="#71ff00"/><stop offset="0.685" stop-color="#61ff00"/><stop offset="1.000" stop-color="#5fff00"/></linearGradient><linearGradient id="s90" gradientUnits="userSpaceOnUse" x1="0" y1="319.5" x2="0" y2="392.1"><stop offset="0.000" stop-color="#ff0000"/><stop offset="0.103" stop-color="#ff0400"/><stop offset="0.152" stop-color="#ff1100"/><stop offset="0.214" stop-color="#ff4000"/><stop offset="0.289" stop-color="#ff8300"/><stop offset="0.372" stop-color="#fff900"/><stop offset="0.379" stop-color="#ffff00"/><stop offset="0.455" stop-color="#bcff00"/><stop offset="0.579" stop-color="#6eff00"/><stop offset="0.682" stop-color="#5bff00"/><stop offset="1.000" stop-color="#58ff00"/></linearGradient><linearGradient id="s91" gradientUnits="userSpaceOnUse" x1="0" y1="319.6" x2="0" y2="392.5"><stop offset="0.000" stop-color="#ff0000"/><stop offset="0.096" stop-color="#ff0300"/><stop offset="0.151" stop-color="#ff1200"/><stop offset="0.213" stop-color="#ff4100"/><stop offset="0.288" stop-color="#ff8400"/><stop offset="0.371" stop-color="#fff800"/><stop offset="0.384" stop-color="#f9ff00"/><stop offset="0.453" stop-color="#bcff00"/><stop offset="0.529" stop-color="#8dff00"/><stop offset="0.584" stop-color="#69ff00"/><stop offset="0.680" stop-color="#56ff00"/><stop offset="1.000" stop-color="#52ff00"/></linearGradient><linearGradient id="s92" gradientUnits="userSpaceOnUse" x1="0" y1="319.7" x2="0" y2="392.8"><stop offset="0.000" stop-color="#ff0000"/><stop offset="0.096" stop-color="#ff0300"/><stop offset="0.150" stop-color="#ff1300"/><stop offset="0.219" stop-color="#ff4800"/><stop offset="0.287" stop-color="#ff8400"/><stop offset="0.369" stop-color="#fff800"/><stop offset="0.383" stop-color="#faff00"/><stop offset="0.451" stop-color="#bdff00"/><stop offset="0.527" stop-color="#8dff00"/><stop offset="0.581" stop-color="#67ff00"/><stop offset="0.677" stop-color="#51ff00"/><stop offset="0.985" stop-color="#4cff00"/><stop offset="1.000" stop-color="#4cff00"/></linearGradient><linearGradient id="s93" gradientUnits="userSpaceOnUse" x1="0" y1="319.8" x2="0" y2="393.2"><stop offset="0.000" stop-color="#ff0000"/><stop offset="0.095" stop-color="#ff0300"/><stop offset="0.150" stop-color="#ff1400"/><stop offset="0.218" stop-color="#ff4900"/><stop offset="0.286" stop-color="#ff8400"/><stop offset="0.375" stop-color="#fffe00"/><stop offset="0.456" stop-color="#b9ff00"/><stop offset="0.525" stop-color="#8eff00"/><stop offset="0.579" stop-color="#66ff00"/><stop offset="0.674" stop-color="#4cff00"/><stop offset="0.892" stop-color="#46ff00"/><stop offset="1.000" stop-color="#46ff00"/></linearGradient><linearGradient id="s94" gradientUnits="userSpaceOnUse" x1="0" y1="319.9" x2="0" y2="393.6"><stop offset="0.000" stop-color="#ff0000"/><stop offset="0.088" stop-color="#ff0200"/><stop offset="0.149" stop-color="#ff1500"/><stop offset="0.210" stop-color="#ff4400"/><stop offset="0.285" stop-color="#ff8600"/><stop offset="0.373" stop-color="#fffe00"/><stop offset="0.454" stop-color="#b9ff00"/><stop offset="0.529" stop-color="#89ff00"/><stop offset="0.583" stop-color="#61ff00"/><stop offset="0.678" stop-color="#47ff00"/><stop offset="0.882" stop-color="#41ff00"/><stop offset="1.000" stop-color="#41ff00"/></linearGradient><linearGradient id="s95" gradientUnits="userSpaceOnUse" x1="0" y1="319.9" x2="0" y2="394.0"><stop offset="0.000" stop-color="#ff0000"/><stop offset="0.088" stop-color="#ff0300"/><stop offset="0.142" stop-color="#ff1200"/><stop offset="0.209" stop-color="#ff4400"/><stop offset="0.283" stop-color="#ff8600"/><stop offset="0.371" stop-color="#fffd00"/><stop offset="0.452" stop-color="#baff00"/><stop offset="0.520" stop-color="#90ff00"/><stop offset="0.580" stop-color="#60ff00"/><stop offset="0.675" stop-color="#42ff00"/><stop offset="0.837" stop-color="#3aff00"/><stop offset="1.000" stop-color="#3aff00"/></linearGradient><linearGradient id="s96" gradientUnits="userSpaceOnUse" x1="0" y1="319.9" x2="0" y2="394.4"><stop offset="0.000" stop-color="#ff0000"/><stop offset="0.087" stop-color="#ff0300"/><stop offset="0.141" stop-color="#ff1200"/><stop offset="0.208" stop-color="#ff4500"/><stop offset="0.282" stop-color="#ff8600"/><stop offset="0.369" stop-color="#fffd00"/><stop offset="0.457" stop-color="#b7ff00"/><stop offset="0.524" stop-color="#8bff00"/><stop offset="0.584" stop-color="#5cff00"/><stop offset="0.678" stop-color="#3bff00"/><stop offset="0.826" stop-color="#32ff00"/><stop offset="1.000" stop-color="#32ff00"/></linearGradient><linearGradient id="s97" gradientUnits="userSpaceOnUse" x1="0" y1="319.9" x2="0" y2="394.8"><stop offset="0.000" stop-color="#ff0000"/><stop offset="0.087" stop-color="#ff0400"/><stop offset="0.140" stop-color="#ff1300"/><stop offset="0.207" stop-color="#ff4600"/><stop offset="0.281" stop-color="#ff8600"/><stop offset="0.367" stop-color="#fffc00"/><stop offset="0.454" stop-color="#b7ff00"/><stop offset="0.521" stop-color="#8cff00"/><stop offset="0.581" stop-color="#5bff00"/><stop offset="0.681" stop-color="#35ff00"/><stop offset="0.822" stop-color="#2bff00"/><stop offset="1.000" stop-color="#2bff00"/></linearGradient><linearGradient id="s98" gradientUnits="userSpaceOnUse" x1="0" y1="319.9" x2="0" y2="395.1"><stop offset="0.000" stop-color="#ff0000"/><stop offset="0.080" stop-color="#ff0300"/><stop offset="0.140" stop-color="#ff1400"/><stop offset="0.206" stop-color="#ff4600"/><stop offset="0.279" stop-color="#ff8600"/><stop offset="0.366" stop-color="#fffc00"/><stop offset="0.425" stop-color="#ccff00"/><stop offset="0.525" stop-color="#88ff00"/><stop offset="0.578" stop-color="#5bff00"/><stop offset="0.685" stop-color="#2fff00"/><stop offset="0.811" stop-color="#25ff00"/><stop offset="1.000" stop-color="#25ff00"/></linearGradient><linearGradient id="s99" gradientUnits="userSpaceOnUse" x1="0" y1="319.9" x2="0" y2="395.5"><stop offset="0.000" stop-color="#ff0000"/><stop offset="0.079" stop-color="#ff0300"/><stop offset="0.139" stop-color="#ff1500"/><stop offset="0.205" stop-color="#ff4700"/><stop offset="0.278" stop-color="#ff8600"/><stop offset="0.364" stop-color="#fffb00"/><stop offset="0.390" stop-color="#ebff00"/><stop offset="0.450" stop-color="#b9ff00"/><stop offset="0.516" stop-color="#8fff00"/><stop offset="0.582" stop-color="#58ff00"/><stop offset="0.688" stop-color="#2bff00"/><stop offset="0.807" stop-color="#1fff00"/><stop offset="1.000" stop-color="#1fff00"/></linearGradient><linearGradient id="s100" gradientUnits="userSpaceOnUse" x1="0" y1="319.9" x2="0" y2="395.9"><stop offset="0.000" stop-color="#ff0000"/><stop offset="0.079" stop-color="#ff0300"/><stop offset="0.132" stop-color="#ff1100"/><stop offset="0.197" stop-color="#ff4200"/><stop offset="0.276" stop-color="#ff8700"/><stop offset="0.362" stop-color="#fffa00"/><stop offset="0.382" stop-color="#f2ff00"/><stop offset="0.447" stop-color="#baff00"/><stop offset="0.520" stop-color="#8bff00"/><stop offset="0.579" stop-color="#58ff00"/><stop offset="0.684" stop-color="#28ff00"/><stop offset="0.803" stop-color="#19ff00"/><stop offset="1.000" stop-color="#19ff00"/></linearGradient><linearGradient id="s101" gradientUnits="userSpaceOnUse" x1="0" y1="319.9" x2="0" y2="395.9"><stop offset="0.000" stop-color="#ff0000"/><stop offset="0.079" stop-color="#ff0400"/><stop offset="0.132" stop-color="#ff1200"/><stop offset="0.197" stop-color="#ff4200"/><stop offset="0.276" stop-color="#ff8600"/><stop offset="0.362" stop-color="#fff900"/><stop offset="0.375" stop-color="#f9ff00"/><stop offset="0.447" stop-color="#bbff00"/><stop offset="0.520" stop-color="#8dff00"/><stop offset="0.586" stop-color="#56ff00"/><stop offset="0.691" stop-color="#25ff00"/><stop offset="0.803" stop-color="#17ff00"/><stop offset="1.000" stop-color="#17ff00"/></linearGradient><linearGradient id="s102" gradientUnits="userSpaceOnUse" x1="0" y1="319.9" x2="0" y2="395.5"><stop offset="0.000" stop-color="#ff0000"/><stop offset="0.079" stop-color="#ff0400"/><stop offset="0.132" stop-color="#ff1200"/><stop offset="0.205" stop-color="#ff4700"/><stop offset="0.278" stop-color="#ff8400"/><stop offset="0.370" stop-color="#fffe00"/><stop offset="0.456" stop-color="#b8ff00"/><stop offset="0.529" stop-color="#8aff00"/><stop offset="0.588" stop-color="#58ff00"/><stop offset="0.701" stop-color="#25ff00"/><stop offset="0.813" stop-color="#17ff00"/><stop offset="1.000" stop-color="#17ff00"/></linearGradient><linearGradient id="s103" gradientUnits="userSpaceOnUse" x1="0" y1="319.9" x2="0" y2="395.1"><stop offset="0.000" stop-color="#ff0000"/><stop offset="0.080" stop-color="#ff0400"/><stop offset="0.133" stop-color="#ff1200"/><stop offset="0.206" stop-color="#ff4700"/><stop offset="0.279" stop-color="#ff8300"/><stop offset="0.372" stop-color="#fffc00"/><stop offset="0.465" stop-color="#b6ff00"/><stop offset="0.532" stop-color="#8cff00"/><stop offset="0.598" stop-color="#56ff00"/><stop offset="0.711" stop-color="#25ff00"/><stop offset="0.824" stop-color="#17ff00"/><stop offset="1.000" stop-color="#17ff00"/></linearGradient><linearGradient id="s104" gradientUnits="userSpaceOnUse" x1="0" y1="319.9" x2="0" y2="394.8"><stop offset="0.000" stop-color="#ff0000"/><stop offset="0.080" stop-color="#ff0400"/><stop offset="0.134" stop-color="#ff1200"/><stop offset="0.207" stop-color="#ff4600"/><stop offset="0.280" stop-color="#ff8100"/><stop offset="0.374" stop-color="#fffa00"/><stop offset="0.387" stop-color="#f8ff00"/><stop offset="0.461" stop-color="#bbff00"/><stop offset="0.541" stop-color="#8aff00"/><stop offset="0.601" stop-color="#58ff00"/><stop offset="0.714" stop-color="#26ff00"/><stop offset="0.835" stop-color="#17ff00"/><stop offset="1.000" stop-color="#17ff00"/></linearGradient><linearGradient id="s105" gradientUnits="userSpaceOnUse" x1="0" y1="319.8" x2="0" y2="394.4"><stop offset="0.000" stop-color="#ff0000"/><stop offset="0.080" stop-color="#ff0400"/><stop offset="0.134" stop-color="#ff1200"/><stop offset="0.208" stop-color="#ff4600"/><stop offset="0.282" stop-color="#ff8000"/><stop offset="0.376" stop-color="#fff900"/><stop offset="0.389" stop-color="#faff00"/><stop offset="0.469" stop-color="#b9ff00"/><stop offset="0.543" stop-color="#8cff00"/><stop offset="0.610" stop-color="#56ff00"/><stop offset="0.724" stop-color="#25ff00"/><stop offset="0.838" stop-color="#17ff00"/><stop offset="1.000" stop-color="#17ff00"/></linearGradient><linearGradient id="s106" gradientUnits="userSpaceOnUse" x1="0" y1="319.7" x2="0" y2="394.0"><stop offset="0.000" stop-color="#ff0000"/><stop offset="0.081" stop-color="#ff0400"/><stop offset="0.141" stop-color="#ff1500"/><stop offset="0.209" stop-color="#ff4500"/><stop offset="0.290" stop-color="#ff8700"/><stop offset="0.384" stop-color="#fffe00"/><stop offset="0.471" stop-color="#b9ff00"/><stop offset="0.545" stop-color="#8cff00"/><stop offset="0.613" stop-color="#57ff00"/><stop offset="0.727" stop-color="#25ff00"/><stop offset="0.849" stop-color="#17ff00"/><stop offset="1.000" stop-color="#17ff00"/></linearGradient><linearGradient id="s107" gradientUnits="userSpaceOnUse" x1="0" y1="319.7" x2="0" y2="393.6"><stop offset="0.000" stop-color="#ff0000"/><stop offset="0.081" stop-color="#ff0300"/><stop offset="0.142" stop-color="#ff1500"/><stop offset="0.210" stop-color="#ff4400"/><stop offset="0.291" stop-color="#ff8600"/><stop offset="0.386" stop-color="#fffd00"/><stop offset="0.473" stop-color="#baff00"/><stop offset="0.548" stop-color="#8dff00"/><stop offset="0.615" stop-color="#57ff00"/><stop offset="0.730" stop-color="#25ff00"/><stop offset="0.852" stop-color="#17ff00"/><stop offset="1.000" stop-color="#17ff00"/></linearGradient><linearGradient id="s108" gradientUnits="userSpaceOnUse" x1="0" y1="319.6" x2="0" y2="393.2"><stop offset="0.000" stop-color="#ff0000"/><stop offset="0.082" stop-color="#ff0300"/><stop offset="0.143" stop-color="#ff1400"/><stop offset="0.211" stop-color="#ff4300"/><stop offset="0.292" stop-color="#ff8500"/><stop offset="0.387" stop-color="#fffc00"/><stop offset="0.482" stop-color="#b6ff00"/><stop offset="0.550" stop-color="#8eff00"/><stop offset="0.618" stop-color="#58ff00"/><stop offset="0.734" stop-color="#25ff00"/><stop offset="0.856" stop-color="#17ff00"/><stop offset="1.000" stop-color="#17ff00"/></linearGradient><linearGradient id="s109" gradientUnits="userSpaceOnUse" x1="0" y1="319.5" x2="0" y2="392.8"><stop offset="0.000" stop-color="#ff0000"/><stop offset="0.082" stop-color="#ff0300"/><stop offset="0.143" stop-color="#ff1400"/><stop offset="0.211" stop-color="#ff4300"/><stop offset="0.293" stop-color="#ff8400"/><stop offset="0.389" stop-color="#fffc00"/><stop offset="0.443" stop-color="#d5ff00"/><stop offset="0.491" stop-color="#b3ff00"/><stop offset="0.553" stop-color="#8fff00"/><stop offset="0.621" stop-color="#58ff00"/><stop offset="0.737" stop-color="#26ff00"/><stop offset="0.860" stop-color="#17ff00"/><stop offset="1.000" stop-color="#17ff00"/></linearGradient><linearGradient id="s110" gradientUnits="userSpaceOnUse" x1="0" y1="319.5" x2="0" y2="392.5"><stop offset="0.000" stop-color="#ff0000"/><stop offset="0.082" stop-color="#ff0300"/><stop offset="0.144" stop-color="#ff1300"/><stop offset="0.212" stop-color="#ff4200"/><stop offset="0.295" stop-color="#ff8300"/><stop offset="0.391" stop-color="#fffb00"/><stop offset="0.411" stop-color="#f2ff00"/><stop offset="0.487" stop-color="#b7ff00"/><stop offset="0.562" stop-color="#8aff00"/><stop offset="0.624" stop-color="#59ff00"/><stop offset="0.740" stop-color="#26ff00"/><stop offset="0.863" stop-color="#17ff00"/><stop offset="1.000" stop-color="#17ff00"/></linearGradient><linearGradient id="s111" gradientUnits="userSpaceOnUse" x1="0" y1="319.4" x2="0" y2="392.1"><stop offset="0.000" stop-color="#ff0000"/><stop offset="0.083" stop-color="#ff0300"/><stop offset="0.145" stop-color="#ff1200"/><stop offset="0.220" stop-color="#ff4700"/><stop offset="0.296" stop-color="#ff8200"/><stop offset="0.392" stop-color="#fffa00"/><stop offset="0.406" stop-color="#f9ff00"/><stop offset="0.489" stop-color="#b8ff00"/><stop offset="0.564" stop-color="#8aff00"/><stop offset="0.626" stop-color="#59ff00"/><stop offset="0.743" stop-color="#26ff00"/><stop offset="0.867" stop-color="#17ff00"/><stop offset="1.000" stop-color="#17ff00"/></linearGradient><linearGradient id="s112" gradientUnits="userSpaceOnUse" x1="0" y1="319.4" x2="0" y2="391.7"><stop offset="0.000" stop-color="#ff0000"/><stop offset="0.083" stop-color="#ff0200"/><stop offset="0.145" stop-color="#ff1200"/><stop offset="0.221" stop-color="#ff4600"/><stop offset="0.297" stop-color="#ff8000"/><stop offset="0.394" stop-color="#fff900"/><stop offset="0.408" stop-color="#f9ff00"/><stop offset="0.491" stop-color="#b8ff00"/><stop offset="0.567" stop-color="#8bff00"/><stop offset="0.636" stop-color="#56ff00"/><stop offset="0.753" stop-color="#25ff00"/><stop offset="0.871" stop-color="#17ff00"/><stop offset="1.000" stop-color="#17ff00"/></linearGradient><linearGradient id="s113" gradientUnits="userSpaceOnUse" x1="0" y1="319.3" x2="0" y2="391.3"><stop offset="0.000" stop-color="#ff0000"/><stop offset="0.090" stop-color="#ff0400"/><stop offset="0.146" stop-color="#ff1100"/><stop offset="0.222" stop-color="#ff4500"/><stop offset="0.306" stop-color="#ff8800"/><stop offset="0.396" stop-color="#fff800"/><stop offset="0.410" stop-color="#faff00"/><stop offset="0.493" stop-color="#b9ff00"/><stop offset="0.569" stop-color="#8cff00"/><stop offset="0.639" stop-color="#57ff00"/><stop offset="0.757" stop-color="#25ff00"/><stop offset="0.875" stop-color="#17ff00"/><stop offset="1.000" stop-color="#17ff00"/></linearGradient><linearGradient id="s114" gradientUnits="userSpaceOnUse" x1="0" y1="319.2" x2="0" y2="390.9"><stop offset="0.000" stop-color="#ff0000"/><stop offset="0.091" stop-color="#ff0400"/><stop offset="0.153" stop-color="#ff1500"/><stop offset="0.223" stop-color="#ff4400"/><stop offset="0.307" stop-color="#ff8700"/><stop offset="0.405" stop-color="#fffd00"/><stop offset="0.495" stop-color="#b9ff00"/><stop offset="0.572" stop-color="#8dff00"/><stop offset="0.642" stop-color="#57ff00"/><stop offset="0.760" stop-color="#25ff00"/><stop offset="0.886" stop-color="#17ff00"/><stop offset="1.000" stop-color="#17ff00"/></linearGradient><linearGradient id="s115" gradientUnits="userSpaceOnUse" x1="0" y1="319.2" x2="0" y2="390.5"><stop offset="0.000" stop-color="#ff0000"/><stop offset="0.091" stop-color="#ff0300"/><stop offset="0.154" stop-color="#ff1500"/><stop offset="0.224" stop-color="#ff4400"/><stop offset="0.308" stop-color="#ff8600"/><stop offset="0.407" stop-color="#fffd00"/><stop offset="0.498" stop-color="#baff00"/><stop offset="0.575" stop-color="#8dff00"/><stop offset="0.645" stop-color="#57ff00"/><stop offset="0.764" stop-color="#25ff00"/><stop offset="0.890" stop-color="#17ff00"/><stop offset="1.000" stop-color="#17ff00"/></linearGradient><linearGradient id="s116" gradientUnits="userSpaceOnUse" x1="0" y1="319.2" x2="0" y2="390.2"><stop offset="0.000" stop-color="#ff0000"/><stop offset="0.092" stop-color="#ff0300"/><stop offset="0.155" stop-color="#ff1300"/><stop offset="0.225" stop-color="#ff4200"/><stop offset="0.310" stop-color="#ff8300"/><stop offset="0.409" stop-color="#fffb00"/><stop offset="0.451" stop-color="#e0ff00"/><stop offset="0.507" stop-color="#b7ff00"/><stop offset="0.578" stop-color="#8fff00"/><stop offset="0.648" stop-color="#58ff00"/><stop offset="0.768" stop-color="#26ff00"/><stop offset="0.895" stop-color="#17ff00"/><stop offset="1.000" stop-color="#17ff00"/></linearGradient><linearGradient id="s117" gradientUnits="userSpaceOnUse" x1="0" y1="319.2" x2="0" y2="389.8"><stop offset="0.000" stop-color="#ff0000"/><stop offset="0.099" stop-color="#ff0400"/><stop offset="0.156" stop-color="#ff1100"/><stop offset="0.234" stop-color="#ff4500"/><stop offset="0.319" stop-color="#ff8800"/><stop offset="0.411" stop-color="#fff800"/><stop offset="0.425" stop-color="#faff00"/><stop offset="0.510" stop-color="#b9ff00"/><stop offset="0.588" stop-color="#8cff00"/><stop offset="0.659" stop-color="#56ff00"/><stop offset="0.779" stop-color="#25ff00"/><stop offset="0.900" stop-color="#17ff00"/><stop offset="1.000" stop-color="#17ff00"/></linearGradient><linearGradient id="s118" gradientUnits="userSpaceOnUse" x1="0" y1="319.2" x2="0" y2="389.4"><stop offset="0.000" stop-color="#ff0000"/><stop offset="0.100" stop-color="#ff0300"/><stop offset="0.164" stop-color="#ff1300"/><stop offset="0.235" stop-color="#ff4200"/><stop offset="0.321" stop-color="#ff8300"/><stop offset="0.420" stop-color="#fffb00"/><stop offset="0.463" stop-color="#e0ff00"/><stop offset="0.520" stop-color="#b7ff00"/><stop offset="0.591" stop-color="#8fff00"/><stop offset="0.662" stop-color="#58ff00"/><stop offset="0.784" stop-color="#26ff00"/><stop offset="0.912" stop-color="#17ff00"/><stop offset="1.000" stop-color="#17ff00"/></linearGradient><linearGradient id="s119" gradientUnits="userSpaceOnUse" x1="0" y1="319.2" x2="0" y2="389.0"><stop offset="0.000" stop-color="#ff0000"/><stop offset="0.107" stop-color="#ff0400"/><stop offset="0.165" stop-color="#ff1100"/><stop offset="0.244" stop-color="#ff4500"/><stop offset="0.329" stop-color="#ff8800"/><stop offset="0.423" stop-color="#fff900"/><stop offset="0.437" stop-color="#faff00"/><stop offset="0.523" stop-color="#b9ff00"/><stop offset="0.602" stop-color="#8cff00"/><stop offset="0.673" stop-color="#56ff00"/><stop offset="0.795" stop-color="#25ff00"/><stop offset="0.917" stop-color="#17ff00"/><stop offset="1.000" stop-color="#17ff00"/></linearGradient><linearGradient id="s120" gradientUnits="userSpaceOnUse" x1="0" y1="319.2" x2="0" y2="388.6"><stop offset="0.000" stop-color="#ff0000"/><stop offset="0.108" stop-color="#ff0300"/><stop offset="0.173" stop-color="#ff1300"/><stop offset="0.245" stop-color="#ff4200"/><stop offset="0.331" stop-color="#ff8300"/><stop offset="0.432" stop-color="#fffb00"/><stop offset="0.475" stop-color="#e0ff00"/><stop offset="0.533" stop-color="#b7ff00"/><stop offset="0.605" stop-color="#8fff00"/><stop offset="0.677" stop-color="#58ff00"/><stop offset="0.799" stop-color="#26ff00"/><stop offset="0.929" stop-color="#18ff00"/><stop offset="1.000" stop-color="#18ff00"/></linearGradient><linearGradient id="s121" gradientUnits="userSpaceOnUse" x1="0" y1="319.2" x2="0" y2="388.2"><stop offset="0.000" stop-color="#ff0000"/><stop offset="0.109" stop-color="#ff0200"/><stop offset="0.174" stop-color="#ff1100"/><stop offset="0.253" stop-color="#ff4500"/><stop offset="0.340" stop-color="#ff8800"/><stop offset="0.435" stop-color="#fff900"/><stop offset="0.449" stop-color="#faff00"/><stop offset="0.536" stop-color="#b9ff00"/><stop offset="0.616" stop-color="#8cff00"/><stop offset="0.688" stop-color="#57ff00"/><stop offset="0.811" stop-color="#26ff00"/><stop offset="0.941" stop-color="#19ff00"/><stop offset="1.000" stop-color="#19ff00"/></linearGradient><linearGradient id="s122" gradientUnits="userSpaceOnUse" x1="0" y1="319.2" x2="0" y2="387.9"><stop offset="0.000" stop-color="#ff0000"/><stop offset="0.117" stop-color="#ff0300"/><stop offset="0.182" stop-color="#ff1400"/><stop offset="0.255" stop-color="#ff4200"/><stop offset="0.342" stop-color="#ff8400"/><stop offset="0.444" stop-color="#fffb00"/><stop offset="0.488" stop-color="#e0ff00"/><stop offset="0.546" stop-color="#b7ff00"/><stop offset="0.619" stop-color="#8fff00"/><stop offset="0.692" stop-color="#59ff00"/><stop offset="0.816" stop-color="#28ff00"/><stop offset="0.947" stop-color="#1aff00"/><stop offset="1.000" stop-color="#1aff00"/></linearGradient><linearGradient id="s123" gradientUnits="userSpaceOnUse" x1="0" y1="319.2" x2="0" y2="387.5"><stop offset="0.000" stop-color="#ff0000"/><stop offset="0.117" stop-color="#ff0200"/><stop offset="0.183" stop-color="#ff1100"/><stop offset="0.264" stop-color="#ff4500"/><stop offset="0.352" stop-color="#ff8800"/><stop offset="0.447" stop-color="#fff900"/><stop offset="0.461" stop-color="#faff00"/><stop offset="0.549" stop-color="#b9ff00"/><stop offset="0.630" stop-color="#8cff00"/><stop offset="0.703" stop-color="#57ff00"/><stop offset="0.828" stop-color="#28ff00"/><stop offset="0.959" stop-color="#1cff00"/><stop offset="1.000" stop-color="#1cff00"/></linearGradient><linearGradient id="s124" gradientUnits="userSpaceOnUse" x1="0" y1="319.2" x2="0" y2="387.1"><stop offset="0.000" stop-color="#ff0000"/><stop offset="0.125" stop-color="#ff0300"/><stop offset="0.191" stop-color="#ff1300"/><stop offset="0.265" stop-color="#ff4200"/><stop offset="0.353" stop-color="#ff8300"/><stop offset="0.457" stop-color="#fffb00"/><stop offset="0.501" stop-color="#e0ff00"/><stop offset="0.560" stop-color="#b7ff00"/><stop offset="0.633" stop-color="#8fff00"/><stop offset="0.707" stop-color="#59ff00"/><stop offset="0.832" stop-color="#2aff00"/><stop offset="0.972" stop-color="#1dff00"/><stop offset="1.000" stop-color="#1dff00"/></linearGradient><linearGradient id="s125" gradientUnits="userSpaceOnUse" x1="0" y1="319.2" x2="0" y2="386.7"><stop offset="0.000" stop-color="#ff0000"/><stop offset="0.126" stop-color="#ff0200"/><stop offset="0.193" stop-color="#ff1100"/><stop offset="0.274" stop-color="#ff4500"/><stop offset="0.363" stop-color="#ff8800"/><stop offset="0.459" stop-color="#fff800"/><stop offset="0.474" stop-color="#faff00"/><stop offset="0.563" stop-color="#b9ff00"/><stop offset="0.644" stop-color="#8cff00"/><stop offset="0.718" stop-color="#58ff00"/><stop offset="0.837" stop-color="#2cff00"/><stop offset="0.978" stop-color="#1fff00"/><stop offset="1.000" stop-color="#1fff00"/></linearGradient><linearGradient id="s126" gradientUnits="userSpaceOnUse" x1="0" y1="319.2" x2="0" y2="386.3"><stop offset="0.000" stop-color="#ff0000"/><stop offset="0.134" stop-color="#ff0300"/><stop offset="0.201" stop-color="#ff1300"/><stop offset="0.283" stop-color="#ff4700"/><stop offset="0.365" stop-color="#ff8100"/><stop offset="0.469" stop-color="#fffa00"/><stop offset="0.484" stop-color="#f9ff00"/><stop offset="0.574" stop-color="#b8ff00"/><stop offset="0.655" stop-color="#8cff00"/><stop offset="0.730" stop-color="#58ff00"/><stop offset="0.849" stop-color="#2cff00"/><stop offset="0.998" stop-color="#20ff00"/><stop offset="1.000" stop-color="#20ff00"/></linearGradient><linearGradient id="s127" gradientUnits="userSpaceOnUse" x1="0" y1="319.3" x2="0" y2="385.9"><stop offset="0.000" stop-color="#ff0000"/><stop offset="0.143" stop-color="#ff0300"/><stop offset="0.210" stop-color="#ff1400"/><stop offset="0.285" stop-color="#ff4300"/><stop offset="0.375" stop-color="#ff8400"/><stop offset="0.480" stop-color="#fffc00"/><stop offset="0.548" stop-color="#cfff00"/><stop offset="0.600" stop-color="#afff00"/><stop offset="0.668" stop-color="#8aff00"/><stop offset="0.735" stop-color="#5aff00"/><stop offset="0.863" stop-color="#2dff00"/><stop offset="1.000" stop-color="#22ff00"/></linearGradient><linearGradient id="s128" gradientUnits="userSpaceOnUse" x1="0" y1="319.5" x2="0" y2="385.6"><stop offset="0.000" stop-color="#ff0000"/><stop offset="0.144" stop-color="#ff0300"/><stop offset="0.212" stop-color="#ff1300"/><stop offset="0.295" stop-color="#ff4700"/><stop offset="0.379" stop-color="#ff8100"/><stop offset="0.485" stop-color="#fffa00"/><stop offset="0.500" stop-color="#f9ff00"/><stop offset="0.591" stop-color="#b8ff00"/><stop offset="0.674" stop-color="#8cff00"/><stop offset="0.750" stop-color="#58ff00"/><stop offset="0.871" stop-color="#2fff00"/><stop offset="1.000" stop-color="#26ff00"/></linearGradient><linearGradient id="s129" gradientUnits="userSpaceOnUse" x1="0" y1="319.7" x2="0" y2="385.2"><stop offset="0.000" stop-color="#ff0000"/><stop offset="0.145" stop-color="#ff0300"/><stop offset="0.214" stop-color="#ff1200"/><stop offset="0.298" stop-color="#ff4600"/><stop offset="0.382" stop-color="#ff8000"/><stop offset="0.489" stop-color="#fff900"/><stop offset="0.504" stop-color="#faff00"/><stop offset="0.596" stop-color="#b9ff00"/><stop offset="0.680" stop-color="#8dff00"/><stop offset="0.756" stop-color="#59ff00"/><stop offset="0.878" stop-color="#30ff00"/><stop offset="1.000" stop-color="#2aff00"/></linearGradient><linearGradient id="s130" gradientUnits="userSpaceOnUse" x1="0" y1="319.9" x2="0" y2="384.8"><stop offset="0.000" stop-color="#ff0000"/><stop offset="0.146" stop-color="#ff0200"/><stop offset="0.216" stop-color="#ff1200"/><stop offset="0.301" stop-color="#ff4500"/><stop offset="0.393" stop-color="#ff8700"/><stop offset="0.501" stop-color="#fffe00"/><stop offset="0.601" stop-color="#baff00"/><stop offset="0.686" stop-color="#8eff00"/><stop offset="0.763" stop-color="#5bff00"/><stop offset="0.879" stop-color="#36ff00"/><stop offset="1.000" stop-color="#31ff00"/></linearGradient><linearGradient id="s131" gradientUnits="userSpaceOnUse" x1="0" y1="320.1" x2="0" y2="384.4"><stop offset="0.000" stop-color="#ff0000"/><stop offset="0.148" stop-color="#ff0200"/><stop offset="0.226" stop-color="#ff1500"/><stop offset="0.303" stop-color="#ff4400"/><stop offset="0.397" stop-color="#ff8600"/><stop offset="0.506" stop-color="#fffd00"/><stop offset="0.614" stop-color="#b7ff00"/><stop offset="0.700" stop-color="#89ff00"/><stop offset="0.770" stop-color="#5dff00"/><stop offset="0.848" stop-color="#45ff00"/><stop offset="1.000" stop-color="#3cff00"/></linearGradient><linearGradient id="s132" gradientUnits="userSpaceOnUse" x1="0" y1="320.3" x2="0" y2="384.0"><stop offset="0.000" stop-color="#ff0000"/><stop offset="0.157" stop-color="#ff0300"/><stop offset="0.228" stop-color="#ff1400"/><stop offset="0.306" stop-color="#ff4300"/><stop offset="0.400" stop-color="#ff8500"/><stop offset="0.510" stop-color="#fffc00"/><stop offset="0.620" stop-color="#b7ff00"/><stop offset="0.706" stop-color="#8bff00"/><stop offset="0.777" stop-color="#5fff00"/><stop offset="0.824" stop-color="#54ff00"/><stop offset="1.000" stop-color="#49ff00"/></linearGradient><linearGradient id="s133" gradientUnits="userSpaceOnUse" x1="0" y1="320.5" x2="0" y2="383.6"><stop offset="0.000" stop-color="#ff0000"/><stop offset="0.158" stop-color="#ff0300"/><stop offset="0.230" stop-color="#ff1400"/><stop offset="0.309" stop-color="#ff4300"/><stop offset="0.404" stop-color="#ff8300"/><stop offset="0.515" stop-color="#fffb00"/><stop offset="0.539" stop-color="#f2ff00"/><stop offset="0.626" stop-color="#b8ff00"/><stop offset="0.713" stop-color="#8cff00"/><stop offset="0.784" stop-color="#64ff00"/><stop offset="1.000" stop-color="#56ff00"/></linearGradient><linearGradient id="s134" gradientUnits="userSpaceOnUse" x1="0" y1="320.7" x2="0" y2="383.3"><stop offset="0.000" stop-color="#ff0000"/><stop offset="0.160" stop-color="#ff0300"/><stop offset="0.232" stop-color="#ff1300"/><stop offset="0.320" stop-color="#ff4700"/><stop offset="0.408" stop-color="#ff8200"/><stop offset="0.520" stop-color="#fffa00"/><stop offset="0.536" stop-color="#f9ff00"/><stop offset="0.632" stop-color="#b9ff00"/><stop offset="0.728" stop-color="#89ff00"/><stop offset="0.752" stop-color="#7bff00"/><stop offset="0.944" stop-color="#6aff00"/><stop offset="1.000" stop-color="#63ff00"/></linearGradient><linearGradient id="s135" gradientUnits="userSpaceOnUse" x1="0" y1="320.9" x2="0" y2="382.9"><stop offset="0.000" stop-color="#ff0000"/><stop offset="0.161" stop-color="#ff0300"/><stop offset="0.234" stop-color="#ff1200"/><stop offset="0.323" stop-color="#ff4600"/><stop offset="0.412" stop-color="#ff8100"/><stop offset="0.525" stop-color="#fff800"/><stop offset="0.541" stop-color="#fbff00"/><stop offset="0.638" stop-color="#bbff00"/><stop offset="0.726" stop-color="#93ff00"/><stop offset="0.896" stop-color="#87ff00"/><stop offset="1.000" stop-color="#76ff00"/></linearGradient><linearGradient id="s136" gradientUnits="userSpaceOnUse" x1="0" y1="321.1" x2="0" y2="382.5"><stop offset="0.000" stop-color="#ff0000"/><stop offset="0.163" stop-color="#ff0200"/><stop offset="0.236" stop-color="#ff1200"/><stop offset="0.326" stop-color="#ff4400"/><stop offset="0.424" stop-color="#ff8400"/><stop offset="0.538" stop-color="#fffa00"/><stop offset="0.554" stop-color="#f9ff00"/><stop offset="0.652" stop-color="#baff00"/><stop offset="0.701" stop-color="#a5ff00"/><stop offset="0.896" stop-color="#9dff00"/><stop offset="1.000" stop-color="#8cff00"/></linearGradient><linearGradient id="s137" gradientUnits="userSpaceOnUse" x1="0" y1="321.3" x2="0" y2="382.0"><stop offset="0.000" stop-color="#ff0000"/><stop offset="0.173" stop-color="#ff0300"/><stop offset="0.247" stop-color="#ff1300"/><stop offset="0.338" stop-color="#ff4600"/><stop offset="0.437" stop-color="#ff8700"/><stop offset="0.552" stop-color="#fffc00"/><stop offset="0.668" stop-color="#baff00"/><stop offset="0.717" stop-color="#b6ff00"/><stop offset="0.907" stop-color="#adff00"/><stop offset="1.000" stop-color="#a1ff00"/></linearGradient><linearGradient id="s138" gradientUnits="userSpaceOnUse" x1="0" y1="321.7" x2="0" y2="381.5"><stop offset="0.000" stop-color="#ff0000"/><stop offset="0.176" stop-color="#ff0300"/><stop offset="0.251" stop-color="#ff1200"/><stop offset="0.343" stop-color="#ff4500"/><stop offset="0.443" stop-color="#ff8500"/><stop offset="0.560" stop-color="#fffa00"/><stop offset="0.577" stop-color="#f9ff00"/><stop offset="0.652" stop-color="#c8ff00"/><stop offset="0.820" stop-color="#c7ff00"/><stop offset="1.000" stop-color="#b2ff00"/></linearGradient><linearGradient id="s139" gradientUnits="userSpaceOnUse" x1="0" y1="322.2" x2="0" y2="381.0"><stop offset="0.000" stop-color="#ff0000"/><stop offset="0.178" stop-color="#ff0200"/><stop offset="0.255" stop-color="#ff1100"/><stop offset="0.348" stop-color="#ff4400"/><stop offset="0.450" stop-color="#ff8300"/><stop offset="0.569" stop-color="#fff900"/><stop offset="0.586" stop-color="#faff00"/><stop offset="0.629" stop-color="#dfff00"/><stop offset="0.799" stop-color="#e2ff00"/><stop offset="0.952" stop-color="#ceff00"/><stop offset="1.000" stop-color="#c3ff00"/></linearGradient><linearGradient id="s140" gradientUnits="userSpaceOnUse" x1="0" y1="322.6" x2="0" y2="380.5"><stop offset="0.000" stop-color="#ff0000"/><stop offset="0.181" stop-color="#ff0200"/><stop offset="0.268" stop-color="#ff1500"/><stop offset="0.354" stop-color="#ff4300"/><stop offset="0.458" stop-color="#ff8200"/><stop offset="0.579" stop-color="#fff800"/><stop offset="0.605" stop-color="#f6ff00"/><stop offset="0.639" stop-color="#f7ff00"/><stop offset="0.786" stop-color="#fdff00"/><stop offset="0.933" stop-color="#ebff00"/><stop offset="1.000" stop-color="#dcff00"/></linearGradient><linearGradient id="s141" gradientUnits="userSpaceOnUse" x1="0" y1="323.1" x2="0" y2="379.8"><stop offset="0.000" stop-color="#ff0000"/><stop offset="0.194" stop-color="#ff0300"/><stop offset="0.273" stop-color="#ff1400"/><stop offset="0.370" stop-color="#ff4700"/><stop offset="0.476" stop-color="#ff8900"/><stop offset="0.590" stop-color="#fff600"/><stop offset="0.713" stop-color="#ffe000"/><stop offset="0.828" stop-color="#ffe300"/><stop offset="0.978" stop-color="#fcff00"/><stop offset="1.000" stop-color="#f6ff00"/></linearGradient><linearGradient id="s142" gradientUnits="userSpaceOnUse" x1="0" y1="323.5" x2="0" y2="379.2"><stop offset="0.000" stop-color="#ff0000"/><stop offset="0.189" stop-color="#ff0300"/><stop offset="0.269" stop-color="#ff1300"/><stop offset="0.368" stop-color="#ff4600"/><stop offset="0.476" stop-color="#ff8700"/><stop offset="0.575" stop-color="#ffe000"/><stop offset="0.692" stop-color="#ffc400"/><stop offset="0.800" stop-color="#ffc000"/><stop offset="0.916" stop-color="#ffd500"/><stop offset="1.000" stop-color="#fff100"/></linearGradient><linearGradient id="s143" gradientUnits="userSpaceOnUse" x1="0" y1="324.0" x2="0" y2="378.5"><stop offset="0.000" stop-color="#ff0000"/><stop offset="0.174" stop-color="#ff0300"/><stop offset="0.257" stop-color="#ff1100"/><stop offset="0.358" stop-color="#ff4400"/><stop offset="0.477" stop-color="#ff8900"/><stop offset="0.559" stop-color="#ffd100"/><stop offset="0.678" stop-color="#ffaf00"/><stop offset="0.788" stop-color="#ffa700"/><stop offset="0.898" stop-color="#ffb600"/><stop offset="1.000" stop-color="#ffd800"/></linearGradient><linearGradient id="s144" gradientUnits="userSpaceOnUse" x1="0" y1="324.4" x2="0" y2="377.8"><stop offset="0.000" stop-color="#ff0000"/><stop offset="0.168" stop-color="#ff0300"/><stop offset="0.253" stop-color="#ff1400"/><stop offset="0.356" stop-color="#ff4500"/><stop offset="0.477" stop-color="#ff8800"/><stop offset="0.543" stop-color="#ffc000"/><stop offset="0.571" stop-color="#ffb900"/><stop offset="0.683" stop-color="#ff9800"/><stop offset="0.786" stop-color="#ff8e00"/><stop offset="0.889" stop-color="#ff9b00"/><stop offset="1.000" stop-color="#ffbf00"/></linearGradient><linearGradient id="s145" gradientUnits="userSpaceOnUse" x1="0" y1="324.9" x2="0" y2="377.2"><stop offset="0.000" stop-color="#ff0000"/><stop offset="0.153" stop-color="#ff0300"/><stop offset="0.248" stop-color="#ff1400"/><stop offset="0.354" stop-color="#ff4400"/><stop offset="0.478" stop-color="#ff8800"/><stop offset="0.535" stop-color="#ffb600"/><stop offset="0.659" stop-color="#ff8700"/><stop offset="0.745" stop-color="#ff7b00"/><stop offset="0.879" stop-color="#ff7f00"/><stop offset="0.994" stop-color="#ffa300"/><stop offset="1.000" stop-color="#ffa500"/></linearGradient><linearGradient id="s146" gradientUnits="userSpaceOnUse" x1="0" y1="325.3" x2="0" y2="376.5"><stop offset="0.000" stop-color="#ff0000"/><stop offset="0.146" stop-color="#ff0300"/><stop offset="0.244" stop-color="#ff1400"/><stop offset="0.352" stop-color="#ff4400"/><stop offset="0.479" stop-color="#ff8700"/><stop offset="0.518" stop-color="#ffa600"/><stop offset="0.527" stop-color="#ffa900"/><stop offset="0.635" stop-color="#ff7c00"/><stop offset="0.771" stop-color="#ff6c00"/><stop offset="0.898" stop-color="#ff7300"/><stop offset="0.977" stop-color="#ff8300"/><stop offset="1.000" stop-color="#ff8c00"/></linearGradient><linearGradient id="s147" gradientUnits="userSpaceOnUse" x1="0" y1="326.1" x2="0" y2="375.7"><stop offset="0.000" stop-color="#ff0000"/><stop offset="0.141" stop-color="#ff0300"/><stop offset="0.232" stop-color="#ff1200"/><stop offset="0.343" stop-color="#ff4100"/><stop offset="0.474" stop-color="#ff8200"/><stop offset="0.504" stop-color="#ff9900"/><stop offset="0.514" stop-color="#ff9c00"/><stop offset="0.595" stop-color="#ff7a00"/><stop offset="0.736" stop-color="#ff5f00"/><stop offset="0.857" stop-color="#ff5e00"/><stop offset="1.000" stop-color="#ff7600"/></linearGradient><linearGradient id="s148" gradientUnits="userSpaceOnUse" x1="0" y1="327.0" x2="0" y2="374.9"><stop offset="0.000" stop-color="#ff0000"/><stop offset="0.136" stop-color="#ff0400"/><stop offset="0.229" stop-color="#ff1300"/><stop offset="0.344" stop-color="#ff4300"/><stop offset="0.501" stop-color="#ff8c00"/><stop offset="0.605" stop-color="#ff6b00"/><stop offset="0.751" stop-color="#ff4e00"/><stop offset="0.866" stop-color="#ff4c00"/><stop offset="1.000" stop-color="#ff6500"/></linearGradient><linearGradient id="s149" gradientUnits="userSpaceOnUse" x1="0" y1="327.8" x2="0" y2="374.1"><stop offset="0.000" stop-color="#ff0000"/><stop offset="0.130" stop-color="#ff0400"/><stop offset="0.227" stop-color="#ff1400"/><stop offset="0.464" stop-color="#ff7100"/><stop offset="0.497" stop-color="#ff7b00"/><stop offset="0.745" stop-color="#ff3e00"/><stop offset="0.853" stop-color="#ff3900"/><stop offset="0.972" stop-color="#ff4c00"/><stop offset="1.000" stop-color="#ff5300"/></linearGradient><linearGradient id="s150" gradientUnits="userSpaceOnUse" x1="0" y1="328.6" x2="0" y2="373.3"><stop offset="0.000" stop-color="#ff0000"/><stop offset="0.123" stop-color="#ff0400"/><stop offset="0.224" stop-color="#ff1500"/><stop offset="0.470" stop-color="#ff6900"/><stop offset="0.515" stop-color="#ff6a00"/><stop offset="0.750" stop-color="#ff2f00"/><stop offset="0.862" stop-color="#ff2900"/><stop offset="0.974" stop-color="#ff3900"/><stop offset="1.000" stop-color="#ff4000"/></linearGradient><linearGradient id="s151" gradientUnits="userSpaceOnUse" x1="0" y1="329.5" x2="0" y2="372.5"><stop offset="0.000" stop-color="#ff0100"/><stop offset="0.105" stop-color="#ff0300"/><stop offset="0.221" stop-color="#ff1300"/><stop offset="0.442" stop-color="#ff5600"/><stop offset="0.523" stop-color="#ff5900"/><stop offset="0.767" stop-color="#ff2100"/><stop offset="0.871" stop-color="#ff1b00"/><stop offset="1.000" stop-color="#ff2f00"/></linearGradient><linearGradient id="s152" gradientUnits="userSpaceOnUse" x1="0" y1="330.3" x2="0" y2="371.2"><stop offset="0.000" stop-color="#ff0200"/><stop offset="0.110" stop-color="#ff0300"/><stop offset="0.244" stop-color="#ff1200"/><stop offset="0.440" stop-color="#ff4100"/><stop offset="0.537" stop-color="#ff4500"/><stop offset="0.818" stop-color="#ff0e00"/><stop offset="0.940" stop-color="#ff1000"/><stop offset="1.000" stop-color="#ff1c00"/></linearGradient><linearGradient id="s153" gradientUnits="userSpaceOnUse" x1="0" y1="331.5" x2="0" y2="370.0"><stop offset="0.000" stop-color="#ff0200"/><stop offset="0.143" stop-color="#ff0300"/><stop offset="0.273" stop-color="#ff1100"/><stop offset="0.415" stop-color="#ff2900"/><stop offset="0.545" stop-color="#ff2e00"/><stop offset="0.792" stop-color="#ff0b00"/><stop offset="0.947" stop-color="#ff0700"/><stop offset="1.000" stop-color="#ff0b00"/></linearGradient><linearGradient id="s154" gradientUnits="userSpaceOnUse" x1="0" y1="333.2" x2="0" y2="368.8"><stop offset="0.000" stop-color="#ff0000"/><stop offset="0.169" stop-color="#ff0300"/><stop offset="0.492" stop-color="#ff1a00"/><stop offset="0.590" stop-color="#ff1700"/><stop offset="0.815" stop-color="#ff0400"/><stop offset="0.969" stop-color="#ff0100"/><stop offset="1.000" stop-color="#ff0300"/></linearGradient><linearGradient id="s155" gradientUnits="userSpaceOnUse" x1="0" y1="334.8" x2="0" y2="367.5"><stop offset="0.000" stop-color="#ff0000"/><stop offset="0.613" stop-color="#ff0600"/><stop offset="0.919" stop-color="#ff0000"/><stop offset="1.000" stop-color="#ff0000"/></linearGradient><linearGradient id="s156" gradientUnits="userSpaceOnUse" x1="0" y1="336.8" x2="0" y2="364.5"><stop offset="0.000" stop-color="#ff0000"/><stop offset="1.000" stop-color="#ff0000"/></linearGradient><linearGradient id="s157" gradientUnits="userSpaceOnUse" x1="0" y1="339.9" x2="0" y2="361.5"><stop offset="0.000" stop-color="#ff0000"/><stop offset="1.000" stop-color="#ff0000"/></linearGradient><linearGradient id="s158" gradientUnits="userSpaceOnUse" x1="0" y1="347.1" x2="0" y2="350.1"><stop offset="0.000" stop-color="#ff0000"/><stop offset="1.000" stop-color="#ff0000"/></linearGradient></defs>
<g clip-path="url(#sclip)"><g shape-rendering="crispEdges"><rect x="336.00" y="344.2" width="1.35" height="19.0" fill="url(#s0)"/><rect x="337.00" y="343.8" width="1.35" height="20.0" fill="url(#s1)"/><rect x="338.00" y="343.5" width="1.35" height="21.0" fill="url(#s2)"/><rect x="339.00" y="343.4" width="1.35" height="21.7" fill="url(#s3)"/><rect x="340.00" y="343.4" width="1.35" height="22.4" fill="url(#s4)"/><rect x="341.00" y="343.4" width="1.35" height="23.1" fill="url(#s5)"/><rect x="342.00" y="343.3" width="1.35" height="23.8" fill="url(#s6)"/><rect x="343.00" y="342.8" width="1.35" height="25.0" fill="url(#s7)"/><rect x="344.00" y="342.4" width="1.35" height="26.1" fill="url(#s8)"/><rect x="345.00" y="341.9" width="1.35" height="27.2" fill="url(#s9)"/><rect x="346.00" y="341.4" width="1.35" height="28.4" fill="url(#s10)"/><rect x="347.00" y="340.9" width="1.35" height="29.5" fill="url(#s11)"/><rect x="348.00" y="340.4" width="1.35" height="30.7" fill="url(#s12)"/><rect x="349.00" y="340.0" width="1.35" height="31.1" fill="url(#s13)"/><rect x="350.00" y="339.5" width="1.35" height="31.5" fill="url(#s14)"/><rect x="351.00" y="338.9" width="1.35" height="31.9" fill="url(#s15)"/><rect x="352.00" y="338.3" width="1.35" height="32.4" fill="url(#s16)"/><rect x="353.00" y="337.7" width="1.35" height="32.9" fill="url(#s17)"/><rect x="354.00" y="337.1" width="1.35" height="33.4" fill="url(#s18)"/><rect x="355.00" y="336.5" width="1.35" height="33.9" fill="url(#s19)"/><rect x="356.00" y="335.9" width="1.35" height="34.4" fill="url(#s20)"/><rect x="357.00" y="335.3" width="1.35" height="35.0" fill="url(#s21)"/><rect x="358.00" y="334.7" width="1.35" height="35.5" fill="url(#s22)"/><rect x="359.00" y="334.1" width="1.35" height="36.1" fill="url(#s23)"/><rect x="360.00" y="333.5" width="1.35" height="36.6" fill="url(#s24)"/><rect x="361.00" y="332.9" width="1.35" height="37.2" fill="url(#s25)"/><rect x="362.00" y="332.3" width="1.35" height="37.8" fill="url(#s26)"/><rect x="363.00" y="331.7" width="1.35" height="38.4" fill="url(#s27)"/><rect x="364.00" y="331.1" width="1.35" height="39.0" fill="url(#s28)"/><rect x="365.00" y="330.5" width="1.35" height="39.6" fill="url(#s29)"/><rect x="366.00" y="329.9" width="1.35" height="40.3" fill="url(#s30)"/><rect x="367.00" y="329.3" width="1.35" height="40.9" fill="url(#s31)"/><rect x="368.00" y="328.7" width="1.35" height="41.6" fill="url(#s32)"/><rect x="369.00" y="328.1" width="1.35" height="42.2" fill="url(#s33)"/><rect x="370.00" y="327.5" width="1.35" height="42.9" fill="url(#s34)"/><rect x="371.00" y="326.9" width="1.35" height="43.6" fill="url(#s35)"/><rect x="372.00" y="326.3" width="1.35" height="44.3" fill="url(#s36)"/><rect x="373.00" y="325.7" width="1.35" height="45.0" fill="url(#s37)"/><rect x="374.00" y="325.1" width="1.35" height="45.7" fill="url(#s38)"/><rect x="375.00" y="324.5" width="1.35" height="46.4" fill="url(#s39)"/><rect x="376.00" y="323.9" width="1.35" height="47.2" fill="url(#s40)"/><rect x="377.00" y="323.3" width="1.35" height="48.1" fill="url(#s41)"/><rect x="378.00" y="322.7" width="1.35" height="48.9" fill="url(#s42)"/><rect x="379.00" y="322.1" width="1.35" height="49.7" fill="url(#s43)"/><rect x="380.00" y="321.5" width="1.35" height="50.5" fill="url(#s44)"/><rect x="381.00" y="321.0" width="1.35" height="51.3" fill="url(#s45)"/><rect x="382.00" y="320.5" width="1.35" height="52.0" fill="url(#s46)"/><rect x="383.00" y="320.0" width="1.35" height="52.8" fill="url(#s47)"/><rect x="384.00" y="319.5" width="1.35" height="53.6" fill="url(#s48)"/><rect x="385.00" y="319.0" width="1.35" height="54.4" fill="url(#s49)"/><rect x="386.00" y="318.5" width="1.35" height="55.1" fill="url(#s50)"/><rect x="387.00" y="318.2" width="1.35" height="55.7" fill="url(#s51)"/><rect x="388.00" y="318.0" width="1.35" height="56.2" fill="url(#s52)"/><rect x="389.00" y="317.8" width="1.35" height="56.8" fill="url(#s53)"/><rect x="390.00" y="317.5" width="1.35" height="57.4" fill="url(#s54)"/><rect x="391.00" y="317.4" width="1.35" height="57.9" fill="url(#s55)"/><rect x="392.00" y="317.3" width="1.35" height="58.4" fill="url(#s56)"/><rect x="393.00" y="317.2" width="1.35" height="58.8" fill="url(#s57)"/><rect x="394.00" y="317.2" width="1.35" height="59.3" fill="url(#s58)"/><rect x="395.00" y="317.1" width="1.35" height="59.8" fill="url(#s59)"/><rect x="396.00" y="317.0" width="1.35" height="60.3" fill="url(#s60)"/><rect x="397.00" y="317.0" width="1.35" height="60.8" fill="url(#s61)"/><rect x="398.00" y="316.9" width="1.35" height="61.2" fill="url(#s62)"/><rect x="399.00" y="316.9" width="1.35" height="61.7" fill="url(#s63)"/><rect x="400.00" y="316.9" width="1.35" height="62.2" fill="url(#s64)"/><rect x="401.00" y="316.9" width="1.35" height="62.6" fill="url(#s65)"/><rect x="402.00" y="316.9" width="1.35" height="63.2" fill="url(#s66)"/><rect x="403.00" y="316.9" width="1.35" height="63.7" fill="url(#s67)"/><rect x="404.00" y="316.9" width="1.35" height="64.3" fill="url(#s68)"/><rect x="405.00" y="317.0" width="1.35" height="64.8" fill="url(#s69)"/><rect x="406.00" y="317.0" width="1.35" height="65.4" fill="url(#s70)"/><rect x="407.00" y="317.0" width="1.35" height="65.9" fill="url(#s71)"/><rect x="408.00" y="317.0" width="1.35" height="66.5" fill="url(#s72)"/><rect x="409.00" y="317.2" width="1.35" height="66.9" fill="url(#s73)"/><rect x="410.00" y="317.3" width="1.35" height="67.3" fill="url(#s74)"/><rect x="411.00" y="317.5" width="1.35" height="67.7" fill="url(#s75)"/><rect x="412.00" y="317.6" width="1.35" height="68.2" fill="url(#s76)"/><rect x="413.00" y="317.7" width="1.35" height="68.6" fill="url(#s77)"/><rect x="414.00" y="317.8" width="1.35" height="69.1" fill="url(#s78)"/><rect x="415.00" y="317.9" width="1.35" height="69.6" fill="url(#s79)"/><rect x="416.00" y="318.0" width="1.35" height="69.9" fill="url(#s80)"/><rect x="417.00" y="318.1" width="1.35" height="70.2" fill="url(#s81)"/><rect x="418.00" y="318.2" width="1.35" height="70.5" fill="url(#s82)"/><rect x="419.00" y="318.4" width="1.35" height="70.8" fill="url(#s83)"/><rect x="420.00" y="318.7" width="1.35" height="70.9" fill="url(#s84)"/><rect x="421.00" y="319.0" width="1.35" height="71.0" fill="url(#s85)"/><rect x="422.00" y="319.1" width="1.35" height="71.3" fill="url(#s86)"/><rect x="423.00" y="319.2" width="1.35" height="71.7" fill="url(#s87)"/><rect x="424.00" y="319.3" width="1.35" height="72.0" fill="url(#s88)"/><rect x="425.00" y="319.4" width="1.35" height="72.3" fill="url(#s89)"/><rect x="426.00" y="319.5" width="1.35" height="72.6" fill="url(#s90)"/><rect x="427.00" y="319.6" width="1.35" height="72.8" fill="url(#s91)"/><rect x="428.00" y="319.7" width="1.35" height="73.1" fill="url(#s92)"/><rect x="429.00" y="319.8" width="1.35" height="73.4" fill="url(#s93)"/><rect x="430.00" y="319.9" width="1.35" height="73.7" fill="url(#s94)"/><rect x="431.00" y="319.9" width="1.35" height="74.1" fill="url(#s95)"/><rect x="432.00" y="319.9" width="1.35" height="74.5" fill="url(#s96)"/><rect x="433.00" y="319.9" width="1.35" height="74.9" fill="url(#s97)"/><rect x="434.00" y="319.9" width="1.35" height="75.2" fill="url(#s98)"/><rect x="435.00" y="319.9" width="1.35" height="75.6" fill="url(#s99)"/><rect x="436.00" y="319.9" width="1.35" height="76.0" fill="url(#s100)"/><rect x="437.00" y="319.9" width="1.35" height="76.0" fill="url(#s101)"/><rect x="438.00" y="319.9" width="1.35" height="75.6" fill="url(#s102)"/><rect x="439.00" y="319.9" width="1.35" height="75.2" fill="url(#s103)"/><rect x="440.00" y="319.9" width="1.35" height="74.9" fill="url(#s104)"/><rect x="441.00" y="319.8" width="1.35" height="74.6" fill="url(#s105)"/><rect x="442.00" y="319.7" width="1.35" height="74.2" fill="url(#s106)"/><rect x="443.00" y="319.7" width="1.35" height="73.9" fill="url(#s107)"/><rect x="444.00" y="319.6" width="1.35" height="73.6" fill="url(#s108)"/><rect x="445.00" y="319.5" width="1.35" height="73.3" fill="url(#s109)"/><rect x="446.00" y="319.5" width="1.35" height="73.0" fill="url(#s110)"/><rect x="447.00" y="319.4" width="1.35" height="72.6" fill="url(#s111)"/><rect x="448.00" y="319.4" width="1.35" height="72.3" fill="url(#s112)"/><rect x="449.00" y="319.3" width="1.35" height="72.0" fill="url(#s113)"/><rect x="450.00" y="319.2" width="1.35" height="71.7" fill="url(#s114)"/><rect x="451.00" y="319.2" width="1.35" height="71.3" fill="url(#s115)"/><rect x="452.00" y="319.2" width="1.35" height="71.0" fill="url(#s116)"/><rect x="453.00" y="319.2" width="1.35" height="70.6" fill="url(#s117)"/><rect x="454.00" y="319.2" width="1.35" height="70.2" fill="url(#s118)"/><rect x="455.00" y="319.2" width="1.35" height="69.8" fill="url(#s119)"/><rect x="456.00" y="319.2" width="1.35" height="69.4" fill="url(#s120)"/><rect x="457.00" y="319.2" width="1.35" height="69.0" fill="url(#s121)"/><rect x="458.00" y="319.2" width="1.35" height="68.7" fill="url(#s122)"/><rect x="459.00" y="319.2" width="1.35" height="68.3" fill="url(#s123)"/><rect x="460.00" y="319.2" width="1.35" height="67.9" fill="url(#s124)"/><rect x="461.00" y="319.2" width="1.35" height="67.5" fill="url(#s125)"/><rect x="462.00" y="319.2" width="1.35" height="67.1" fill="url(#s126)"/><rect x="463.00" y="319.3" width="1.35" height="66.6" fill="url(#s127)"/><rect x="464.00" y="319.5" width="1.35" height="66.0" fill="url(#s128)"/><rect x="465.00" y="319.7" width="1.35" height="65.5" fill="url(#s129)"/><rect x="466.00" y="319.9" width="1.35" height="64.9" fill="url(#s130)"/><rect x="467.00" y="320.1" width="1.35" height="64.3" fill="url(#s131)"/><rect x="468.00" y="320.3" width="1.35" height="63.7" fill="url(#s132)"/><rect x="469.00" y="320.5" width="1.35" height="63.1" fill="url(#s133)"/><rect x="470.00" y="320.7" width="1.35" height="62.5" fill="url(#s134)"/><rect x="471.00" y="320.9" width="1.35" height="61.9" fill="url(#s135)"/><rect x="472.00" y="321.1" width="1.35" height="61.4" fill="url(#s136)"/><rect x="473.00" y="321.3" width="1.35" height="60.7" fill="url(#s137)"/><rect x="474.00" y="321.7" width="1.35" height="59.8" fill="url(#s138)"/><rect x="475.00" y="322.2" width="1.35" height="58.8" fill="url(#s139)"/><rect x="476.00" y="322.6" width="1.35" height="57.9" fill="url(#s140)"/><rect x="477.00" y="323.1" width="1.35" height="56.8" fill="url(#s141)"/><rect x="478.00" y="323.5" width="1.35" height="55.7" fill="url(#s142)"/><rect x="479.00" y="324.0" width="1.35" height="54.5" fill="url(#s143)"/><rect x="480.00" y="324.4" width="1.35" height="53.4" fill="url(#s144)"/><rect x="481.00" y="324.9" width="1.35" height="52.3" fill="url(#s145)"/><rect x="482.00" y="325.3" width="1.35" height="51.2" fill="url(#s146)"/><rect x="483.00" y="326.1" width="1.35" height="49.6" fill="url(#s147)"/><rect x="484.00" y="327.0" width="1.35" height="47.9" fill="url(#s148)"/><rect x="485.00" y="327.8" width="1.35" height="46.3" fill="url(#s149)"/><rect x="486.00" y="328.6" width="1.35" height="44.7" fill="url(#s150)"/><rect x="487.00" y="329.5" width="1.35" height="43.0" fill="url(#s151)"/><rect x="488.00" y="330.3" width="1.35" height="40.9" fill="url(#s152)"/><rect x="489.00" y="331.5" width="1.35" height="38.5" fill="url(#s153)"/><rect x="490.00" y="333.2" width="1.35" height="35.6" fill="url(#s154)"/><rect x="491.00" y="334.8" width="1.35" height="32.7" fill="url(#s155)"/><rect x="492.00" y="336.8" width="1.35" height="27.7" fill="url(#s156)"/><rect x="493.00" y="339.9" width="1.35" height="21.6" fill="url(#s157)"/><rect x="494.00" y="347.1" width="1.35" height="3.0" fill="url(#s158)"/></g></g>
<path d="M347.0,368.6 L344.8,369.5" stroke="#404040" stroke-width="0.8" fill="none"/>
<path d="M360.0,377.0 L357.8,377.9" stroke="#404040" stroke-width="0.8" fill="none"/>
<path d="M374.0,386.4 L371.8,387.3" stroke="#404040" stroke-width="0.8" fill="none"/>
<path d="M389.0,396.0 L386.8,396.9" stroke="#404040" stroke-width="0.8" fill="none"/>
<path d="M405.4,406.3 L403.2,407.2" stroke="#404040" stroke-width="0.8" fill="none"/>
<path d="M405.4,406.3 L407.4,407.6" stroke="#404040" stroke-width="0.8" fill="none"/>
<path d="M437.2,394.4 L439.2,395.7" stroke="#404040" stroke-width="0.8" fill="none"/>
<path d="M466.5,384.2 L468.5,385.5" stroke="#404040" stroke-width="0.8" fill="none"/>
<path d="M494.0,372.0 L496.0,373.3" stroke="#404040" stroke-width="0.8" fill="none"/>
<path d="M337.0,361.0 L334.6,360.2" stroke="#404040" stroke-width="0.8" fill="none"/>
<path d="M337.0,335.0 L334.6,334.2" stroke="#404040" stroke-width="0.8" fill="none"/>
<path d="M337.0,309.0 L334.6,308.2" stroke="#404040" stroke-width="0.8" fill="none"/>
<text x="340.3" y="379.0" text-anchor="middle" font-family="'Liberation Serif',serif" font-weight="bold" font-size="8.6" fill="#1a1a1a" >80</text>
<text x="354.4" y="387.8" text-anchor="middle" font-family="'Liberation Serif',serif" font-weight="bold" font-size="8.6" fill="#1a1a1a" >60</text>
<text x="368.6" y="396.8" text-anchor="middle" font-family="'Liberation Serif',serif" font-weight="bold" font-size="8.6" fill="#1a1a1a" >40</text>
<text x="382.8" y="406.2" text-anchor="middle" font-family="'Liberation Serif',serif" font-weight="bold" font-size="8.6" fill="#1a1a1a" >20</text>
<text x="398.8" y="415.2" text-anchor="middle" font-family="'Liberation Serif',serif" font-weight="bold" font-size="8.6" fill="#1a1a1a" >0</text>
<text x="411.6" y="416.2" text-anchor="middle" font-family="'Liberation Serif',serif" font-weight="bold" font-size="8.6" fill="#1a1a1a" >0</text>
<text x="442.8" y="405.2" text-anchor="middle" font-family="'Liberation Serif',serif" font-weight="bold" font-size="8.6" fill="#1a1a1a" >50</text>
<text x="474.5" y="393.0" text-anchor="middle" font-family="'Liberation Serif',serif" font-weight="bold" font-size="8.6" fill="#1a1a1a" >100</text>
<text x="504.2" y="381.6" text-anchor="middle" font-family="'Liberation Serif',serif" font-weight="bold" font-size="8.6" fill="#1a1a1a" >150</text>
<text x="334.2" y="364.0" text-anchor="end" font-family="'Liberation Serif',serif" font-weight="bold" font-size="8.6" fill="#1a1a1a" >0</text>
<text x="334.2" y="338.0" text-anchor="end" font-family="'Liberation Serif',serif" font-weight="bold" font-size="8.6" fill="#1a1a1a" >5</text>
<text x="334.2" y="312.0" text-anchor="end" font-family="'Liberation Serif',serif" font-weight="bold" font-size="8.6" fill="#1a1a1a" >10</text>
<text x="338.5" y="415.0" text-anchor="middle" font-family="'Liberation Serif',serif" font-weight="bold" font-size="8.6" fill="#1a1a1a" >Nacelle angle (°)</text>
<text x="478.5" y="418.0" text-anchor="middle" font-family="'Liberation Serif',serif" font-weight="bold" font-size="8.6" fill="#1a1a1a" >Airspeed (m/s)</text>
<text transform="translate(321.8,331.0) rotate(-90)" text-anchor="middle" font-family="'Liberation Serif',serif" font-weight="bold" font-size="8.6" fill="#1a1a1a">Altitude (km)</text>
<rect x="513.0" y="270.0" width="6.6" height="141.0" fill="url(#cbR)" stroke="#404040" stroke-width="0.7"/>
<path d="M519.6,410.6 h-2" stroke="#404040" stroke-width="0.8" fill="none"/>
<text x="521.8" y="413.5" font-family="'Liberation Serif',serif" font-weight="bold" font-size="8.6" fill="#1a1a1a">0</text>
<path d="M519.6,375.4 h-2" stroke="#404040" stroke-width="0.8" fill="none"/>
<text x="521.8" y="378.3" font-family="'Liberation Serif',serif" font-weight="bold" font-size="8.6" fill="#1a1a1a">0.05</text>
<path d="M519.6,340.2 h-2" stroke="#404040" stroke-width="0.8" fill="none"/>
<text x="521.8" y="343.1" font-family="'Liberation Serif',serif" font-weight="bold" font-size="8.6" fill="#1a1a1a">0.1</text>
<path d="M519.6,305.0 h-2" stroke="#404040" stroke-width="0.8" fill="none"/>
<text x="521.8" y="307.9" font-family="'Liberation Serif',serif" font-weight="bold" font-size="8.6" fill="#1a1a1a">0.15</text>
<text transform="translate(544.3,343.6) rotate(-90)" text-anchor="middle" font-family="'Liberation Serif',serif" font-weight="bold" font-size="8.6" fill="#1a1a1a">SEP (kW/kg)</text>
</svg>
</body></html>
